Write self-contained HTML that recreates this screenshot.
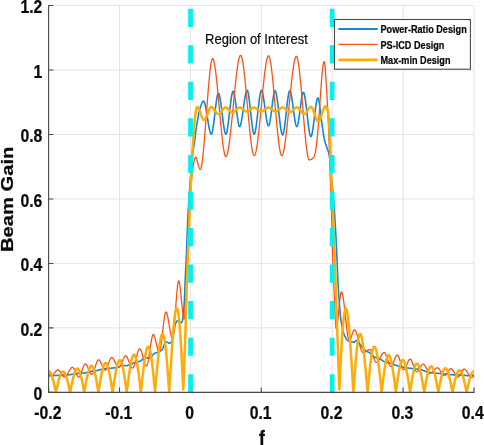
<!DOCTYPE html>
<html lang="en"><head><meta charset="utf-8"><title>Beam Gain</title>
<style>html,body{margin:0;padding:0;background:#fff}svg{display:block}</style></head>
<body>
<svg width="484" height="445" viewBox="0 0 484 445">
<rect width="484" height="445" fill="#fff"/>
<path d="M48.60,5.5V392.4M119.50,5.5V392.4M190.40,5.5V392.4M261.30,5.5V392.4M332.20,5.5V392.4M403.10,5.5V392.4M474.00,5.5V392.4M48.6,392.40H474.0M48.6,327.92H474.0M48.6,263.43H474.0M48.6,198.95H474.0M48.6,134.47H474.0M48.6,69.98H474.0M48.6,5.50H474.0" stroke="#e4e4e4" stroke-width="1" fill="none"/>
<path d="M48.60,392.4v-4.8M119.50,392.4v-4.8M190.40,392.4v-4.8M261.30,392.4v-4.8M332.20,392.4v-4.8M403.10,392.4v-4.8M474.00,392.4v-4.8M48.6,392.40h4.8M48.6,327.92h4.8M48.6,263.43h4.8M48.6,198.95h4.8M48.6,134.47h4.8M48.6,69.98h4.8M48.6,5.50h4.8" stroke="#4a4a4a" stroke-width="1.1" fill="none"/>
<clipPath id="c"><rect x="48.6" y="4.5" width="426.2" height="388.29999999999995"/></clipPath>
<g clip-path="url(#c)" fill="none" stroke-linejoin="round" stroke-linecap="butt">
<path d="M48.50,375.90 L48.62,375.89 L48.75,375.89 L48.88,375.88 L49.00,375.87 L49.12,375.87 L49.25,375.86 L49.38,375.86 L49.50,375.85 L49.62,375.84 L49.75,375.84 L49.88,375.83 L50.00,375.82 L50.12,375.82 L50.25,375.81 L50.38,375.80 L50.50,375.80 L50.62,375.79 L50.75,375.78 L50.88,375.77 L51.00,375.77 L51.12,375.76 L51.25,375.75 L51.38,375.75 L51.50,375.74 L51.62,375.73 L51.75,375.73 L51.88,375.72 L52.00,375.71 L52.12,375.71 L52.25,375.70 L52.38,375.69 L52.50,375.68 L52.62,375.68 L52.75,375.67 L52.88,375.66 L53.00,375.65 L53.12,375.65 L53.25,375.64 L53.38,375.63 L53.50,375.63 L53.62,375.62 L53.75,375.61 L53.88,375.60 L54.00,375.60 L54.12,375.59 L54.25,375.58 L54.38,375.57 L54.50,375.57 L54.62,375.56 L54.75,375.55 L54.88,375.54 L55.00,375.54 L55.12,375.53 L55.25,375.52 L55.38,375.51 L55.50,375.51 L55.62,375.50 L55.75,375.49 L55.88,375.48 L56.00,375.47 L56.12,375.47 L56.25,375.46 L56.38,375.45 L56.50,375.44 L56.62,375.44 L56.75,375.43 L56.88,375.42 L57.00,375.41 L57.12,375.40 L57.25,375.40 L57.38,375.39 L57.50,375.38 L57.62,375.37 L57.75,375.36 L57.88,375.36 L58.00,375.35 L58.12,375.34 L58.25,375.33 L58.38,375.32 L58.50,375.31 L58.62,375.30 L58.75,375.29 L58.88,375.28 L59.00,375.27 L59.12,375.26 L59.25,375.25 L59.38,375.24 L59.50,375.23 L59.62,375.22 L59.75,375.22 L59.88,375.21 L60.00,375.20 L60.12,375.19 L60.25,375.18 L60.38,375.17 L60.50,375.16 L60.62,375.15 L60.75,375.14 L60.88,375.13 L61.00,375.12 L61.12,375.11 L61.25,375.10 L61.38,375.10 L61.50,375.09 L61.62,375.08 L61.75,375.07 L61.88,375.06 L62.00,375.06 L62.12,375.05 L62.25,375.04 L62.38,375.03 L62.50,375.03 L62.62,375.02 L62.75,375.01 L62.88,375.01 L63.00,375.00 L63.12,374.99 L63.25,374.99 L63.38,374.98 L63.50,374.98 L63.62,374.97 L63.75,374.97 L63.88,374.96 L64.00,374.96 L64.12,374.96 L64.25,374.95 L64.38,374.95 L64.50,374.94 L64.62,374.94 L64.75,374.94 L64.88,374.93 L65.00,374.93 L65.12,374.92 L65.25,374.92 L65.38,374.92 L65.50,374.91 L65.62,374.91 L65.75,374.91 L65.88,374.90 L66.00,374.90 L66.12,374.90 L66.25,374.89 L66.38,374.89 L66.50,374.89 L66.62,374.88 L66.75,374.88 L66.88,374.87 L67.00,374.87 L67.12,374.86 L67.25,374.86 L67.38,374.85 L67.50,374.85 L67.62,374.84 L67.75,374.84 L67.88,374.83 L68.00,374.83 L68.12,374.82 L68.25,374.81 L68.38,374.81 L68.50,374.80 L68.62,374.79 L68.75,374.78 L68.88,374.77 L69.00,374.76 L69.12,374.75 L69.25,374.74 L69.38,374.73 L69.50,374.71 L69.62,374.70 L69.75,374.68 L69.88,374.67 L70.00,374.65 L70.12,374.63 L70.25,374.62 L70.38,374.60 L70.50,374.58 L70.62,374.56 L70.75,374.54 L70.88,374.52 L71.00,374.50 L71.12,374.48 L71.25,374.46 L71.38,374.44 L71.50,374.42 L71.62,374.39 L71.75,374.37 L71.88,374.35 L72.00,374.33 L72.12,374.31 L72.25,374.29 L72.38,374.26 L72.50,374.24 L72.62,374.22 L72.75,374.20 L72.88,374.18 L73.00,374.16 L73.12,374.14 L73.25,374.12 L73.38,374.10 L73.50,374.08 L73.62,374.06 L73.75,374.04 L73.88,374.02 L74.00,374.00 L74.12,373.98 L74.25,373.96 L74.38,373.94 L74.50,373.93 L74.62,373.91 L74.75,373.89 L74.88,373.87 L75.00,373.85 L75.12,373.83 L75.25,373.81 L75.38,373.79 L75.50,373.77 L75.62,373.75 L75.75,373.73 L75.88,373.70 L76.00,373.68 L76.12,373.66 L76.25,373.64 L76.38,373.62 L76.50,373.60 L76.62,373.58 L76.75,373.56 L76.88,373.54 L77.00,373.52 L77.12,373.50 L77.25,373.48 L77.38,373.47 L77.50,373.45 L77.62,373.43 L77.75,373.41 L77.88,373.39 L78.00,373.38 L78.12,373.36 L78.25,373.34 L78.38,373.33 L78.50,373.31 L78.62,373.30 L78.75,373.29 L78.88,373.27 L79.00,373.26 L79.12,373.25 L79.25,373.24 L79.38,373.22 L79.50,373.21 L79.62,373.21 L79.75,373.20 L79.88,373.19 L80.00,373.18 L80.12,373.17 L80.25,373.17 L80.38,373.16 L80.50,373.15 L80.62,373.15 L80.75,373.14 L80.88,373.14 L81.00,373.13 L81.12,373.13 L81.25,373.12 L81.38,373.12 L81.50,373.11 L81.62,373.11 L81.75,373.11 L81.88,373.10 L82.00,373.10 L82.12,373.09 L82.25,373.09 L82.38,373.08 L82.50,373.08 L82.62,373.07 L82.75,373.07 L82.88,373.06 L83.00,373.06 L83.12,373.05 L83.25,373.05 L83.38,373.04 L83.50,373.03 L83.62,373.03 L83.75,373.02 L83.88,373.01 L84.00,373.00 L84.12,372.99 L84.25,372.98 L84.38,372.97 L84.50,372.95 L84.62,372.94 L84.75,372.92 L84.88,372.90 L85.00,372.88 L85.12,372.86 L85.25,372.84 L85.38,372.81 L85.50,372.79 L85.62,372.77 L85.75,372.74 L85.88,372.71 L86.00,372.69 L86.12,372.66 L86.25,372.63 L86.38,372.60 L86.50,372.57 L86.62,372.54 L86.75,372.50 L86.88,372.47 L87.00,372.44 L87.12,372.41 L87.25,372.37 L87.38,372.34 L87.50,372.31 L87.62,372.27 L87.75,372.24 L87.88,372.20 L88.00,372.17 L88.12,372.13 L88.25,372.10 L88.38,372.06 L88.50,372.03 L88.62,372.00 L88.75,371.96 L88.88,371.93 L89.00,371.89 L89.12,371.86 L89.25,371.83 L89.38,371.80 L89.50,371.77 L89.62,371.74 L89.75,371.70 L89.88,371.68 L90.00,371.65 L90.12,371.62 L90.25,371.59 L90.38,371.56 L90.50,371.54 L90.62,371.51 L90.75,371.49 L90.88,371.47 L91.00,371.44 L91.12,371.42 L91.25,371.40 L91.38,371.38 L91.50,371.36 L91.62,371.34 L91.75,371.31 L91.88,371.29 L92.00,371.27 L92.12,371.25 L92.25,371.23 L92.38,371.21 L92.50,371.19 L92.62,371.17 L92.75,371.16 L92.88,371.14 L93.00,371.12 L93.12,371.10 L93.25,371.08 L93.38,371.06 L93.50,371.04 L93.62,371.02 L93.75,371.01 L93.88,370.99 L94.00,370.97 L94.12,370.95 L94.25,370.93 L94.38,370.91 L94.50,370.90 L94.62,370.88 L94.75,370.86 L94.88,370.84 L95.00,370.82 L95.12,370.80 L95.25,370.78 L95.38,370.76 L95.50,370.74 L95.62,370.72 L95.75,370.70 L95.88,370.68 L96.00,370.66 L96.12,370.64 L96.25,370.62 L96.38,370.60 L96.50,370.58 L96.62,370.56 L96.75,370.54 L96.88,370.52 L97.00,370.49 L97.12,370.47 L97.25,370.45 L97.38,370.42 L97.50,370.40 L97.62,370.38 L97.75,370.35 L97.88,370.32 L98.00,370.30 L98.12,370.27 L98.25,370.24 L98.38,370.21 L98.50,370.18 L98.62,370.15 L98.75,370.12 L98.88,370.09 L99.00,370.06 L99.12,370.02 L99.25,369.99 L99.38,369.96 L99.50,369.92 L99.62,369.89 L99.75,369.85 L99.88,369.82 L100.00,369.78 L100.12,369.75 L100.25,369.72 L100.38,369.68 L100.50,369.65 L100.62,369.61 L100.75,369.58 L100.88,369.54 L101.00,369.51 L101.12,369.47 L101.25,369.44 L101.38,369.40 L101.50,369.37 L101.62,369.34 L101.75,369.30 L101.88,369.27 L102.00,369.24 L102.12,369.21 L102.25,369.18 L102.38,369.15 L102.50,369.12 L102.62,369.09 L102.75,369.06 L102.88,369.03 L103.00,369.01 L103.12,368.98 L103.25,368.96 L103.38,368.93 L103.50,368.91 L103.62,368.89 L103.75,368.87 L103.88,368.85 L104.00,368.83 L104.12,368.81 L104.25,368.79 L104.38,368.78 L104.50,368.76 L104.62,368.75 L104.75,368.73 L104.88,368.72 L105.00,368.70 L105.12,368.69 L105.25,368.68 L105.38,368.66 L105.50,368.65 L105.62,368.64 L105.75,368.63 L105.88,368.61 L106.00,368.60 L106.12,368.59 L106.25,368.58 L106.38,368.57 L106.50,368.56 L106.62,368.55 L106.75,368.54 L106.88,368.53 L107.00,368.52 L107.12,368.51 L107.25,368.50 L107.38,368.49 L107.50,368.48 L107.62,368.47 L107.75,368.46 L107.88,368.45 L108.00,368.44 L108.12,368.43 L108.25,368.42 L108.38,368.41 L108.50,368.40 L108.62,368.39 L108.75,368.38 L108.88,368.38 L109.00,368.37 L109.12,368.36 L109.25,368.35 L109.38,368.34 L109.50,368.33 L109.62,368.32 L109.75,368.31 L109.88,368.30 L110.00,368.29 L110.12,368.28 L110.25,368.27 L110.38,368.26 L110.50,368.25 L110.62,368.24 L110.75,368.23 L110.88,368.22 L111.00,368.21 L111.12,368.20 L111.25,368.19 L111.38,368.17 L111.50,368.16 L111.62,368.15 L111.75,368.14 L111.88,368.12 L112.00,368.11 L112.12,368.10 L112.25,368.08 L112.38,368.07 L112.50,368.06 L112.62,368.04 L112.75,368.03 L112.88,368.02 L113.00,368.00 L113.12,367.99 L113.25,367.98 L113.38,367.97 L113.50,367.95 L113.62,367.94 L113.75,367.93 L113.88,367.91 L114.00,367.90 L114.12,367.89 L114.25,367.87 L114.38,367.86 L114.50,367.84 L114.62,367.83 L114.75,367.82 L114.88,367.80 L115.00,367.79 L115.12,367.77 L115.25,367.75 L115.38,367.74 L115.50,367.72 L115.62,367.71 L115.75,367.69 L115.88,367.67 L116.00,367.65 L116.12,367.64 L116.25,367.62 L116.38,367.60 L116.50,367.58 L116.62,367.56 L116.75,367.54 L116.88,367.52 L117.00,367.49 L117.12,367.47 L117.25,367.45 L117.38,367.43 L117.50,367.40 L117.62,367.38 L117.75,367.35 L117.88,367.33 L118.00,367.30 L118.12,367.27 L118.25,367.23 L118.38,367.19 L118.50,367.14 L118.62,367.09 L118.75,367.03 L118.88,366.97 L119.00,366.90 L119.12,366.84 L119.25,366.76 L119.38,366.69 L119.50,366.61 L119.62,366.53 L119.75,366.45 L119.88,366.37 L120.00,366.29 L120.12,366.21 L120.25,366.13 L120.38,366.05 L120.50,365.97 L120.62,365.89 L120.75,365.82 L120.88,365.74 L121.00,365.67 L121.12,365.61 L121.25,365.54 L121.38,365.48 L121.50,365.43 L121.62,365.38 L121.75,365.33 L121.88,365.29 L122.00,365.26 L122.12,365.24 L122.25,365.22 L122.38,365.20 L122.50,365.20 L122.62,365.20 L122.75,365.21 L122.88,365.22 L123.00,365.24 L123.12,365.25 L123.25,365.27 L123.38,365.30 L123.50,365.33 L123.62,365.35 L123.75,365.38 L123.88,365.42 L124.00,365.45 L124.12,365.48 L124.25,365.51 L124.38,365.55 L124.50,365.58 L124.62,365.61 L124.75,365.64 L124.88,365.67 L125.00,365.70 L125.12,365.72 L125.25,365.74 L125.38,365.76 L125.50,365.78 L125.62,365.79 L125.75,365.80 L125.88,365.80 L126.00,365.80 L126.12,365.79 L126.25,365.78 L126.38,365.77 L126.50,365.75 L126.62,365.73 L126.75,365.70 L126.88,365.68 L127.00,365.64 L127.12,365.61 L127.25,365.58 L127.38,365.54 L127.50,365.50 L127.62,365.46 L127.75,365.41 L127.88,365.37 L128.00,365.33 L128.12,365.28 L128.25,365.23 L128.38,365.19 L128.50,365.14 L128.62,365.10 L128.75,365.05 L128.88,365.01 L129.00,364.97 L129.12,364.92 L129.25,364.88 L129.38,364.84 L129.50,364.80 L129.62,364.76 L129.75,364.71 L129.88,364.67 L130.00,364.62 L130.12,364.57 L130.25,364.52 L130.38,364.48 L130.50,364.43 L130.62,364.38 L130.75,364.32 L130.88,364.27 L131.00,364.22 L131.12,364.17 L131.25,364.11 L131.38,364.06 L131.50,364.01 L131.62,363.95 L131.75,363.90 L131.88,363.84 L132.00,363.79 L132.12,363.73 L132.25,363.68 L132.38,363.62 L132.50,363.57 L132.62,363.51 L132.75,363.46 L132.88,363.40 L133.00,363.35 L133.12,363.30 L133.25,363.24 L133.38,363.19 L133.50,363.14 L133.62,363.09 L133.75,363.03 L133.88,362.98 L134.00,362.93 L134.12,362.88 L134.25,362.84 L134.38,362.79 L134.50,362.74 L134.62,362.70 L134.75,362.65 L134.88,362.61 L135.00,362.57 L135.12,362.53 L135.25,362.49 L135.38,362.45 L135.50,362.41 L135.62,362.37 L135.75,362.33 L135.88,362.30 L136.00,362.26 L136.12,362.23 L136.25,362.20 L136.38,362.16 L136.50,362.13 L136.62,362.10 L136.75,362.07 L136.88,362.03 L137.00,362.00 L137.12,361.97 L137.25,361.94 L137.38,361.91 L137.50,361.88 L137.62,361.84 L137.75,361.81 L137.88,361.78 L138.00,361.75 L138.12,361.71 L138.25,361.68 L138.38,361.65 L138.50,361.61 L138.62,361.58 L138.75,361.54 L138.88,361.50 L139.00,361.46 L139.12,361.43 L139.25,361.39 L139.38,361.34 L139.50,361.30 L139.62,361.26 L139.75,361.21 L139.88,361.17 L140.00,361.12 L140.12,361.07 L140.25,361.02 L140.38,360.97 L140.50,360.91 L140.62,360.84 L140.75,360.77 L140.88,360.69 L141.00,360.61 L141.12,360.52 L141.25,360.43 L141.38,360.33 L141.50,360.24 L141.62,360.14 L141.75,360.03 L141.88,359.93 L142.00,359.82 L142.12,359.72 L142.25,359.61 L142.38,359.50 L142.50,359.40 L142.62,359.29 L142.75,359.19 L142.88,359.09 L143.00,358.99 L143.12,358.90 L143.25,358.81 L143.38,358.72 L143.50,358.64 L143.62,358.56 L143.75,358.49 L143.88,358.42 L144.00,358.36 L144.12,358.31 L144.25,358.27 L144.38,358.23 L144.50,358.20 L144.62,358.18 L144.75,358.16 L144.88,358.13 L145.00,358.12 L145.12,358.10 L145.25,358.08 L145.38,358.06 L145.50,358.05 L145.62,358.04 L145.75,358.02 L145.88,358.01 L146.00,358.00 L146.12,357.99 L146.25,357.98 L146.38,357.97 L146.50,357.96 L146.62,357.95 L146.75,357.94 L146.88,357.93 L147.00,357.93 L147.12,357.92 L147.25,357.91 L147.38,357.90 L147.50,357.89 L147.62,357.89 L147.75,357.88 L147.88,357.87 L148.00,357.86 L148.12,357.85 L148.25,357.84 L148.38,357.83 L148.50,357.82 L148.62,357.81 L148.75,357.80 L148.88,357.78 L149.00,357.77 L149.12,357.75 L149.25,357.74 L149.38,357.72 L149.50,357.70 L149.62,357.68 L149.75,357.66 L149.88,357.64 L150.00,357.62 L150.12,357.59 L150.25,357.56 L150.38,357.51 L150.50,357.45 L150.62,357.37 L150.75,357.29 L150.88,357.19 L151.00,357.09 L151.12,356.97 L151.25,356.85 L151.38,356.72 L151.50,356.58 L151.62,356.44 L151.75,356.29 L151.88,356.14 L152.00,355.98 L152.12,355.82 L152.25,355.66 L152.38,355.50 L152.50,355.34 L152.62,355.18 L152.75,355.02 L152.88,354.86 L153.00,354.71 L153.12,354.55 L153.25,354.41 L153.38,354.26 L153.50,354.13 L153.62,354.00 L153.75,353.88 L153.88,353.77 L154.00,353.66 L154.12,353.57 L154.25,353.48 L154.38,353.41 L154.50,353.35 L154.62,353.29 L154.75,353.24 L154.88,353.18 L155.00,353.13 L155.12,353.09 L155.25,353.04 L155.38,353.00 L155.50,352.95 L155.62,352.91 L155.75,352.88 L155.88,352.84 L156.00,352.80 L156.12,352.77 L156.25,352.73 L156.38,352.70 L156.50,352.66 L156.62,352.63 L156.75,352.60 L156.88,352.56 L157.00,352.53 L157.12,352.49 L157.25,352.46 L157.38,352.42 L157.50,352.38 L157.62,352.34 L157.75,352.30 L157.88,352.25 L158.00,352.21 L158.12,352.16 L158.25,352.11 L158.38,352.06 L158.50,352.00 L158.62,351.94 L158.75,351.89 L158.88,351.83 L159.00,351.77 L159.12,351.71 L159.25,351.65 L159.38,351.59 L159.50,351.53 L159.62,351.47 L159.75,351.40 L159.88,351.34 L160.00,351.27 L160.12,351.20 L160.25,351.12 L160.38,351.05 L160.50,350.97 L160.62,350.89 L160.75,350.81 L160.88,350.72 L161.00,350.63 L161.12,350.53 L161.25,350.44 L161.38,350.33 L161.50,350.23 L161.62,350.12 L161.75,350.00 L161.88,349.88 L162.00,349.76 L162.12,349.62 L162.25,349.49 L162.38,349.35 L162.50,349.20 L162.62,349.02 L162.75,348.77 L162.88,348.48 L163.00,348.14 L163.12,347.77 L163.25,347.38 L163.38,346.98 L163.50,346.57 L163.62,346.17 L163.75,345.79 L163.88,345.43 L164.00,345.11 L164.12,344.84 L164.25,344.61 L164.38,344.40 L164.50,344.18 L164.62,343.97 L164.75,343.75 L164.88,343.54 L165.00,343.34 L165.12,343.14 L165.25,342.95 L165.38,342.78 L165.50,342.62 L165.62,342.47 L165.75,342.34 L165.88,342.23 L166.00,342.13 L166.12,342.06 L166.25,342.02 L166.38,342.00 L166.50,342.00 L166.62,342.02 L166.75,342.05 L166.88,342.08 L167.00,342.12 L167.12,342.18 L167.25,342.23 L167.38,342.30 L167.50,342.37 L167.62,342.44 L167.75,342.51 L167.88,342.59 L168.00,342.66 L168.12,342.73 L168.25,342.81 L168.38,342.88 L168.50,342.94 L168.62,343.00 L168.75,343.06 L168.88,343.10 L169.00,343.14 L169.12,343.17 L169.25,343.19 L169.38,343.20 L169.50,343.20 L169.62,343.18 L169.75,343.15 L169.88,343.11 L170.00,343.06 L170.12,343.00 L170.25,342.92 L170.38,342.83 L170.50,342.74 L170.62,342.63 L170.75,342.51 L170.88,342.39 L171.00,342.25 L171.12,342.10 L171.25,341.95 L171.38,341.78 L171.50,341.61 L171.62,341.42 L171.75,341.23 L171.88,341.03 L172.00,340.83 L172.12,340.61 L172.25,340.39 L172.38,340.14 L172.50,339.76 L172.62,339.26 L172.75,338.67 L172.88,338.00 L173.00,337.27 L173.12,336.52 L173.25,335.75 L173.38,334.99 L173.50,334.25 L173.62,333.57 L173.75,332.86 L173.88,332.09 L174.00,331.30 L174.12,330.48 L174.25,329.65 L174.38,328.83 L174.50,328.04 L174.62,327.28 L174.75,326.58 L174.88,325.94 L175.00,325.38 L175.12,324.92 L175.25,324.57 L175.38,324.23 L175.50,323.91 L175.62,323.59 L175.75,323.28 L175.88,322.98 L176.00,322.70 L176.12,322.42 L176.25,322.17 L176.38,321.93 L176.50,321.71 L176.62,321.51 L176.75,321.33 L176.88,321.17 L177.00,321.04 L177.12,320.94 L177.25,320.86 L177.38,320.82 L177.50,320.80 L177.62,320.80 L177.75,320.82 L177.88,320.84 L178.00,320.87 L178.12,320.90 L178.25,320.94 L178.38,320.99 L178.50,321.04 L178.62,321.09 L178.75,321.15 L178.88,321.21 L179.00,321.27 L179.12,321.33 L179.25,321.39 L179.38,321.44 L179.50,321.50 L179.62,321.56 L179.75,321.63 L179.88,321.72 L180.00,321.81 L180.12,321.90 L180.25,322.00 L180.38,322.10 L180.50,322.19 L180.62,322.28 L180.75,322.37 L180.88,322.44 L181.00,322.50 L181.12,322.55 L181.25,322.59 L181.38,322.60 L181.50,322.57 L181.62,322.47 L181.75,322.29 L181.88,322.04 L182.00,321.72 L182.12,321.34 L182.25,320.91 L182.38,320.43 L182.50,319.90 L182.62,319.34 L182.75,318.73 L182.88,318.10 L183.00,317.44 L183.12,316.76 L183.25,315.90 L183.38,314.82 L183.50,313.53 L183.62,312.05 L183.75,310.41 L183.88,308.62 L184.00,306.71 L184.12,304.70 L184.25,302.60 L184.38,300.44 L184.50,298.05 L184.62,295.16 L184.75,291.92 L184.88,288.51 L185.00,285.08 L185.12,281.81 L185.25,278.85 L185.38,276.05 L185.50,273.34 L185.62,270.70 L185.75,268.12 L185.88,265.55 L186.00,262.99 L186.12,260.41 L186.25,257.79 L186.38,255.09 L186.50,252.31 L186.62,249.41 L186.75,246.30 L186.88,243.00 L187.00,239.58 L187.12,236.09 L187.25,232.61 L187.38,229.20 L187.50,225.92 L187.62,222.85 L187.75,220.04 L187.88,217.51 L188.00,215.10 L188.12,212.78 L188.25,210.56 L188.38,208.41 L188.50,206.33 L188.62,204.32 L188.75,202.36 L188.88,200.46 L189.00,198.59 L189.12,196.76 L189.25,194.96 L189.38,193.18 L189.50,191.41 L189.62,189.65 L189.75,187.90 L189.88,186.17 L190.00,184.47 L190.12,182.79 L190.25,181.13 L190.38,179.50 L190.50,177.89 L190.62,176.31 L190.75,174.76 L190.88,173.24 L191.00,171.74 L191.12,170.28 L191.25,168.84 L191.38,167.44 L191.50,166.07 L191.62,164.73 L191.75,163.42 L191.88,162.12 L192.00,160.84 L192.12,159.58 L192.25,158.35 L192.38,157.15 L192.50,155.98 L192.62,154.86 L192.75,153.78 L192.88,152.74 L193.00,151.75 L193.12,150.82 L193.25,149.95 L193.38,149.15 L193.50,148.39 L193.62,147.67 L193.75,146.97 L193.88,146.28 L194.00,145.58 L194.12,144.87 L194.25,144.13 L194.38,143.34 L194.50,142.50 L194.62,141.59 L194.75,140.60 L194.88,139.57 L195.00,138.49 L195.12,137.38 L195.25,136.26 L195.38,135.14 L195.50,134.04 L195.62,132.95 L195.75,131.91 L195.88,130.92 L196.00,130.00 L196.12,129.12 L196.25,128.27 L196.38,127.42 L196.50,126.60 L196.62,125.79 L196.75,125.01 L196.88,124.23 L197.00,123.48 L197.12,122.74 L197.25,122.01 L197.38,121.30 L197.50,120.61 L197.62,119.93 L197.75,119.26 L197.88,118.61 L198.00,117.95 L198.12,117.30 L198.25,116.64 L198.38,115.99 L198.50,115.34 L198.62,114.70 L198.75,114.06 L198.88,113.44 L199.00,112.82 L199.12,112.21 L199.25,111.62 L199.38,111.05 L199.50,110.48 L199.62,109.94 L199.75,109.42 L199.88,108.92 L200.00,108.44 L200.12,107.98 L200.25,107.55 L200.38,107.15 L200.50,106.78 L200.62,106.43 L200.75,106.10 L200.88,105.76 L201.00,105.42 L201.12,105.08 L201.25,104.75 L201.38,104.42 L201.50,104.10 L201.62,103.78 L201.75,103.47 L201.88,103.18 L202.00,102.89 L202.12,102.62 L202.25,102.37 L202.38,102.13 L202.50,101.91 L202.62,101.71 L202.75,101.53 L202.88,101.37 L203.00,101.24 L203.12,101.14 L203.25,101.06 L203.38,101.02 L203.50,101.00 L203.62,101.03 L203.75,101.10 L203.88,101.22 L204.00,101.39 L204.12,101.60 L204.25,101.86 L204.38,102.16 L204.50,102.49 L204.62,102.87 L204.75,103.28 L204.88,103.72 L205.00,104.20 L205.12,104.71 L205.25,105.25 L205.38,105.82 L205.50,106.41 L205.62,107.03 L205.75,107.67 L205.88,108.34 L206.00,109.02 L206.12,109.72 L206.25,110.44 L206.38,111.18 L206.50,111.92 L206.62,112.68 L206.75,113.45 L206.88,114.23 L207.00,115.01 L207.12,115.80 L207.25,116.60 L207.38,117.39 L207.50,118.19 L207.62,118.98 L207.75,119.77 L207.88,120.56 L208.00,121.34 L208.12,122.11 L208.25,122.87 L208.38,123.63 L208.50,124.37 L208.62,125.09 L208.75,125.80 L208.88,126.49 L209.00,127.16 L209.12,127.81 L209.25,128.44 L209.38,129.05 L209.50,129.63 L209.62,130.18 L209.75,130.70 L209.88,131.19 L210.00,131.65 L210.12,132.07 L210.25,132.46 L210.38,132.81 L210.50,133.13 L210.62,133.40 L210.75,133.63 L210.88,133.82 L211.00,133.96 L211.12,134.05 L211.25,134.10 L211.38,134.09 L211.50,134.00 L211.62,133.85 L211.75,133.63 L211.88,133.34 L212.00,132.99 L212.12,132.58 L212.25,132.10 L212.38,131.58 L212.50,131.00 L212.62,130.37 L212.75,129.69 L212.88,128.97 L213.00,128.20 L213.12,127.40 L213.25,126.56 L213.38,125.68 L213.50,124.78 L213.62,123.84 L213.75,122.88 L213.88,121.89 L214.00,120.89 L214.12,119.86 L214.25,118.82 L214.38,117.77 L214.50,116.71 L214.62,115.64 L214.75,114.56 L214.88,113.48 L215.00,112.41 L215.12,111.33 L215.25,110.27 L215.38,109.21 L215.50,108.16 L215.62,107.13 L215.75,106.11 L215.88,105.11 L216.00,104.13 L216.12,103.18 L216.25,102.26 L216.38,101.36 L216.50,100.50 L216.62,99.68 L216.75,98.89 L216.88,98.14 L217.00,97.43 L217.12,96.77 L217.25,96.16 L217.38,95.61 L217.50,95.10 L217.62,94.65 L217.75,94.26 L217.88,93.94 L218.00,93.67 L218.12,93.48 L218.25,93.35 L218.38,93.30 L218.50,93.32 L218.62,93.41 L218.75,93.56 L218.88,93.77 L219.00,94.04 L219.12,94.37 L219.25,94.75 L219.38,95.19 L219.50,95.68 L219.62,96.21 L219.75,96.79 L219.88,97.41 L220.00,98.08 L220.12,98.78 L220.25,99.52 L220.38,100.30 L220.50,101.10 L220.62,101.94 L220.75,102.81 L220.88,103.70 L221.00,104.61 L221.12,105.54 L221.25,106.50 L221.38,107.47 L221.50,108.45 L221.62,109.44 L221.75,110.45 L221.88,111.46 L222.00,112.48 L222.12,113.50 L222.25,114.52 L222.38,115.53 L222.50,116.55 L222.62,117.56 L222.75,118.55 L222.88,119.54 L223.00,120.52 L223.12,121.48 L223.25,122.42 L223.38,123.34 L223.50,124.24 L223.62,125.12 L223.75,125.96 L223.88,126.78 L224.00,127.57 L224.12,128.33 L224.25,129.04 L224.38,129.73 L224.50,130.37 L224.62,130.96 L224.75,131.52 L224.88,132.02 L225.00,132.48 L225.12,132.88 L225.25,133.23 L225.38,133.53 L225.50,133.76 L225.62,133.94 L225.75,134.05 L225.88,134.10 L226.00,134.08 L226.12,133.98 L226.25,133.81 L226.38,133.57 L226.50,133.26 L226.62,132.89 L226.75,132.45 L226.88,131.96 L227.00,131.41 L227.12,130.80 L227.25,130.15 L227.38,129.45 L227.50,128.70 L227.62,127.91 L227.75,127.08 L227.88,126.21 L228.00,125.30 L228.12,124.36 L228.25,123.40 L228.38,122.40 L228.50,121.39 L228.62,120.35 L228.75,119.29 L228.88,118.22 L229.00,117.13 L229.12,116.03 L229.25,114.93 L229.38,113.81 L229.50,112.70 L229.62,111.59 L229.75,110.47 L229.88,109.37 L230.00,108.27 L230.12,107.18 L230.25,106.11 L230.38,105.05 L230.50,104.01 L230.62,103.00 L230.75,102.00 L230.88,101.04 L231.00,100.10 L231.12,99.19 L231.25,98.32 L231.38,97.49 L231.50,96.70 L231.62,95.95 L231.75,95.25 L231.88,94.60 L232.00,93.99 L232.12,93.44 L232.25,92.95 L232.38,92.51 L232.50,92.14 L232.62,91.83 L232.75,91.59 L232.88,91.42 L233.00,91.32 L233.12,91.30 L233.25,91.36 L233.38,91.48 L233.50,91.68 L233.62,91.95 L233.75,92.29 L233.88,92.69 L234.00,93.14 L234.12,93.66 L234.25,94.22 L234.38,94.84 L234.50,95.51 L234.62,96.22 L234.75,96.97 L234.88,97.76 L235.00,98.59 L235.12,99.44 L235.25,100.33 L235.38,101.25 L235.50,102.18 L235.62,103.14 L235.75,104.12 L235.88,105.11 L236.00,106.11 L236.12,107.12 L236.25,108.14 L236.38,109.15 L236.50,110.17 L236.62,111.18 L236.75,112.19 L236.88,113.19 L237.00,114.17 L237.12,115.14 L237.25,116.09 L237.38,117.02 L237.50,117.93 L237.62,118.80 L237.75,119.65 L237.88,120.46 L238.00,121.24 L238.12,121.97 L238.25,122.66 L238.38,123.31 L238.50,123.91 L238.62,124.46 L238.75,124.95 L238.88,125.38 L239.00,125.75 L239.12,126.06 L239.25,126.30 L239.38,126.48 L239.50,126.58 L239.62,126.60 L239.75,126.56 L239.88,126.46 L240.00,126.30 L240.12,126.09 L240.25,125.83 L240.38,125.52 L240.50,125.16 L240.62,124.75 L240.75,124.30 L240.88,123.81 L241.00,123.28 L241.12,122.71 L241.25,122.10 L241.38,121.46 L241.50,120.79 L241.62,120.09 L241.75,119.36 L241.88,118.61 L242.00,117.83 L242.12,117.03 L242.25,116.21 L242.38,115.37 L242.50,114.52 L242.62,113.65 L242.75,112.77 L242.88,111.88 L243.00,110.98 L243.12,110.08 L243.25,109.18 L243.38,108.27 L243.50,107.36 L243.62,106.46 L243.75,105.56 L243.88,104.66 L244.00,103.78 L244.12,102.90 L244.25,102.04 L244.38,101.19 L244.50,100.36 L244.62,99.55 L244.75,98.76 L244.88,97.99 L245.00,97.24 L245.12,96.53 L245.25,95.84 L245.38,95.18 L245.50,94.55 L245.62,93.96 L245.75,93.40 L245.88,92.89 L246.00,92.41 L246.12,91.98 L246.25,91.59 L246.38,91.25 L246.50,90.96 L246.62,90.72 L246.75,90.53 L246.88,90.40 L247.00,90.32 L247.12,90.30 L247.25,90.36 L247.38,90.49 L247.50,90.70 L247.62,90.98 L247.75,91.33 L247.88,91.75 L248.00,92.23 L248.12,92.78 L248.25,93.38 L248.38,94.03 L248.50,94.74 L248.62,95.49 L248.75,96.30 L248.88,97.14 L249.00,98.03 L249.12,98.96 L249.25,99.92 L249.38,100.91 L249.50,101.93 L249.62,102.98 L249.75,104.05 L249.88,105.14 L250.00,106.25 L250.12,107.38 L250.25,108.51 L250.38,109.66 L250.50,110.81 L250.62,111.97 L250.75,113.13 L250.88,114.28 L251.00,115.43 L251.12,116.57 L251.25,117.70 L251.38,118.82 L251.50,119.92 L251.62,121.00 L251.75,122.05 L251.88,123.09 L252.00,124.09 L252.12,125.06 L252.25,126.00 L252.38,126.91 L252.50,127.77 L252.62,128.59 L252.75,129.37 L252.88,130.09 L253.00,130.77 L253.12,131.39 L253.25,131.96 L253.38,132.46 L253.50,132.91 L253.62,133.28 L253.75,133.59 L253.88,133.83 L254.00,134.00 L254.12,134.09 L254.25,134.09 L254.38,134.02 L254.50,133.88 L254.62,133.66 L254.75,133.38 L254.88,133.02 L255.00,132.60 L255.12,132.13 L255.25,131.59 L255.38,131.00 L255.50,130.35 L255.62,129.65 L255.75,128.91 L255.88,128.12 L256.00,127.29 L256.12,126.42 L256.25,125.51 L256.38,124.57 L256.50,123.60 L256.62,122.59 L256.75,121.57 L256.88,120.52 L257.00,119.45 L257.12,118.36 L257.25,117.26 L257.38,116.14 L257.50,115.02 L257.62,113.89 L257.75,112.75 L257.88,111.62 L258.00,110.49 L258.12,109.36 L258.25,108.23 L258.38,107.12 L258.50,106.02 L258.62,104.94 L258.75,103.87 L258.88,102.83 L259.00,101.80 L259.12,100.81 L259.25,99.84 L259.38,98.91 L259.50,98.01 L259.62,97.14 L259.75,96.32 L259.88,95.54 L260.00,94.80 L260.12,94.12 L260.25,93.48 L260.38,92.90 L260.50,92.37 L260.62,91.91 L260.75,91.50 L260.88,91.16 L261.00,90.89 L261.12,90.69 L261.25,90.56 L261.38,90.50 L261.50,90.52 L261.62,90.60 L261.75,90.75 L261.88,90.95 L262.00,91.21 L262.12,91.53 L262.25,91.90 L262.38,92.31 L262.50,92.78 L262.62,93.29 L262.75,93.84 L262.88,94.44 L263.00,95.07 L263.12,95.74 L263.25,96.44 L263.38,97.17 L263.50,97.94 L263.62,98.73 L263.75,99.54 L263.88,100.38 L264.00,101.23 L264.12,102.11 L264.25,103.00 L264.38,103.90 L264.50,104.81 L264.62,105.73 L264.75,106.66 L264.88,107.59 L265.00,108.52 L265.12,109.45 L265.25,110.38 L265.38,111.30 L265.50,112.22 L265.62,113.12 L265.75,114.02 L265.88,114.89 L266.00,115.75 L266.12,116.59 L266.25,117.41 L266.38,118.21 L266.50,118.97 L266.62,119.71 L266.75,120.42 L266.88,121.10 L267.00,121.74 L267.12,122.34 L267.25,122.90 L267.38,123.42 L267.50,123.90 L267.62,124.32 L267.75,124.70 L267.88,125.03 L268.00,125.30 L268.12,125.51 L268.25,125.67 L268.38,125.77 L268.50,125.80 L268.62,125.76 L268.75,125.65 L268.88,125.47 L269.00,125.23 L269.12,124.92 L269.25,124.55 L269.38,124.12 L269.50,123.63 L269.62,123.10 L269.75,122.51 L269.88,121.88 L270.00,121.20 L270.12,120.48 L270.25,119.72 L270.38,118.93 L270.50,118.11 L270.62,117.25 L270.75,116.37 L270.88,115.47 L271.00,114.54 L271.12,113.59 L271.25,112.63 L271.38,111.66 L271.50,110.68 L271.62,109.69 L271.75,108.70 L271.88,107.70 L272.00,106.71 L272.12,105.72 L272.25,104.74 L272.38,103.77 L272.50,102.82 L272.62,101.87 L272.75,100.95 L272.88,100.05 L273.00,99.18 L273.12,98.33 L273.25,97.51 L273.38,96.72 L273.50,95.97 L273.62,95.26 L273.75,94.59 L273.88,93.97 L274.00,93.39 L274.12,92.87 L274.25,92.39 L274.38,91.97 L274.50,91.62 L274.62,91.32 L274.75,91.08 L274.88,90.92 L275.00,90.82 L275.12,90.80 L275.25,90.85 L275.38,90.97 L275.50,91.16 L275.62,91.42 L275.75,91.74 L275.88,92.12 L276.00,92.55 L276.12,93.05 L276.25,93.59 L276.38,94.19 L276.50,94.84 L276.62,95.53 L276.75,96.26 L276.88,97.04 L277.00,97.86 L277.12,98.71 L277.25,99.59 L277.38,100.51 L277.50,101.46 L277.62,102.43 L277.75,103.43 L277.88,104.44 L278.00,105.48 L278.12,106.54 L278.25,107.60 L278.38,108.68 L278.50,109.77 L278.62,110.87 L278.75,111.97 L278.88,113.07 L279.00,114.17 L279.12,115.27 L279.25,116.36 L279.38,117.45 L279.50,118.53 L279.62,119.59 L279.75,120.64 L279.88,121.67 L280.00,122.68 L280.12,123.66 L280.25,124.62 L280.38,125.56 L280.50,126.46 L280.62,127.34 L280.75,128.17 L280.88,128.97 L281.00,129.74 L281.12,130.45 L281.25,131.13 L281.38,131.75 L281.50,132.33 L281.62,132.86 L281.75,133.33 L281.88,133.74 L282.00,134.10 L282.12,134.39 L282.25,134.62 L282.38,134.78 L282.50,134.88 L282.62,134.90 L282.75,134.84 L282.88,134.71 L283.00,134.51 L283.12,134.23 L283.25,133.89 L283.38,133.48 L283.50,133.01 L283.62,132.47 L283.75,131.88 L283.88,131.24 L284.00,130.55 L284.12,129.80 L284.25,129.01 L284.38,128.18 L284.50,127.31 L284.62,126.40 L284.75,125.45 L284.88,124.47 L285.00,123.47 L285.12,122.43 L285.25,121.38 L285.38,120.30 L285.50,119.20 L285.62,118.09 L285.75,116.96 L285.88,115.83 L286.00,114.69 L286.12,113.54 L286.25,112.39 L286.38,111.24 L286.50,110.10 L286.62,108.96 L286.75,107.84 L286.88,106.72 L287.00,105.62 L287.12,104.54 L287.25,103.48 L287.38,102.44 L287.50,101.43 L287.62,100.44 L287.75,99.49 L287.88,98.57 L288.00,97.69 L288.12,96.85 L288.25,96.05 L288.38,95.30 L288.50,94.59 L288.62,93.94 L288.75,93.34 L288.88,92.80 L289.00,92.31 L289.12,91.89 L289.25,91.53 L289.38,91.24 L289.50,91.02 L289.62,90.88 L289.75,90.81 L289.88,90.81 L290.00,90.89 L290.12,91.02 L290.25,91.22 L290.38,91.48 L290.50,91.80 L290.62,92.17 L290.75,92.60 L290.88,93.07 L291.00,93.60 L291.12,94.16 L291.25,94.77 L291.38,95.42 L291.50,96.11 L291.62,96.83 L291.75,97.59 L291.88,98.37 L292.00,99.19 L292.12,100.02 L292.25,100.89 L292.38,101.77 L292.50,102.67 L292.62,103.59 L292.75,104.52 L292.88,105.46 L293.00,106.40 L293.12,107.36 L293.25,108.32 L293.38,109.28 L293.50,110.23 L293.62,111.19 L293.75,112.13 L293.88,113.07 L294.00,114.00 L294.12,114.91 L294.25,115.81 L294.38,116.69 L294.50,117.55 L294.62,118.38 L294.75,119.19 L294.88,119.97 L295.00,120.72 L295.12,121.43 L295.25,122.11 L295.38,122.75 L295.50,123.35 L295.62,123.91 L295.75,124.43 L295.88,124.89 L296.00,125.30 L296.12,125.67 L296.25,125.97 L296.38,126.22 L296.50,126.41 L296.62,126.53 L296.75,126.59 L296.88,126.59 L297.00,126.51 L297.12,126.36 L297.25,126.14 L297.38,125.87 L297.50,125.53 L297.62,125.13 L297.75,124.68 L297.88,124.17 L298.00,123.62 L298.12,123.02 L298.25,122.37 L298.38,121.69 L298.50,120.96 L298.62,120.20 L298.75,119.41 L298.88,118.58 L299.00,117.73 L299.12,116.86 L299.25,115.96 L299.38,115.04 L299.50,114.11 L299.62,113.17 L299.75,112.21 L299.88,111.25 L300.00,110.28 L300.12,109.31 L300.25,108.33 L300.38,107.37 L300.50,106.41 L300.62,105.45 L300.75,104.51 L300.88,103.59 L301.00,102.68 L301.12,101.79 L301.25,100.92 L301.38,100.08 L301.50,99.27 L301.62,98.49 L301.75,97.74 L301.88,97.03 L302.00,96.36 L302.12,95.74 L302.25,95.15 L302.38,94.62 L302.50,94.13 L302.62,93.70 L302.75,93.33 L302.88,93.01 L303.00,92.76 L303.12,92.57 L303.25,92.45 L303.38,92.40 L303.50,92.42 L303.62,92.52 L303.75,92.68 L303.88,92.91 L304.00,93.20 L304.12,93.56 L304.25,93.97 L304.38,94.45 L304.50,94.97 L304.62,95.55 L304.75,96.18 L304.88,96.86 L305.00,97.58 L305.12,98.34 L305.25,99.14 L305.38,99.98 L305.50,100.86 L305.62,101.76 L305.75,102.70 L305.88,103.66 L306.00,104.65 L306.12,105.66 L306.25,106.70 L306.38,107.75 L306.50,108.81 L306.62,109.89 L306.75,110.98 L306.88,112.07 L307.00,113.17 L307.12,114.28 L307.25,115.38 L307.38,116.49 L307.50,117.59 L307.62,118.68 L307.75,119.76 L307.88,120.83 L308.00,121.89 L308.12,122.92 L308.25,123.95 L308.38,124.94 L308.50,125.92 L308.62,126.87 L308.75,127.79 L308.88,128.67 L309.00,129.53 L309.12,130.34 L309.25,131.12 L309.38,131.86 L309.50,132.55 L309.62,133.20 L309.75,133.80 L309.88,134.35 L310.00,134.84 L310.12,135.28 L310.25,135.66 L310.38,135.98 L310.50,136.24 L310.62,136.43 L310.75,136.55 L310.88,136.60 L311.00,136.58 L311.12,136.48 L311.25,136.32 L311.38,136.09 L311.50,135.80 L311.62,135.44 L311.75,135.03 L311.88,134.56 L312.00,134.03 L312.12,133.46 L312.25,132.84 L312.38,132.17 L312.50,131.46 L312.62,130.71 L312.75,129.92 L312.88,129.10 L313.00,128.24 L313.12,127.36 L313.25,126.44 L313.38,125.51 L313.50,124.55 L313.62,123.57 L313.75,122.58 L313.88,121.57 L314.00,120.55 L314.12,119.53 L314.25,118.49 L314.38,117.46 L314.50,116.42 L314.62,115.39 L314.75,114.36 L314.88,113.34 L315.00,112.32 L315.12,111.32 L315.25,110.34 L315.38,109.37 L315.50,108.43 L315.62,107.51 L315.75,106.61 L315.88,105.74 L316.00,104.91 L316.12,104.10 L316.25,103.34 L316.38,102.61 L316.50,101.92 L316.62,101.28 L316.75,100.69 L316.88,100.15 L317.00,99.65 L317.12,99.22 L317.25,98.84 L317.38,98.52 L317.50,98.26 L317.62,98.07 L317.75,97.95 L317.88,97.90 L318.00,97.93 L318.12,98.05 L318.25,98.26 L318.38,98.56 L318.50,98.93 L318.62,99.39 L318.75,99.91 L318.88,100.50 L319.00,101.15 L319.12,101.86 L319.25,102.62 L319.38,103.43 L319.50,104.29 L319.62,105.19 L319.75,106.12 L319.88,107.09 L320.00,108.08 L320.12,109.09 L320.25,110.12 L320.38,111.17 L320.50,112.22 L320.62,113.28 L320.75,114.35 L320.88,115.40 L321.00,116.45 L321.12,117.48 L321.25,118.50 L321.38,119.50 L321.50,120.47 L321.62,121.41 L321.75,122.31 L321.88,123.18 L322.00,124.00 L322.12,124.81 L322.25,125.64 L322.38,126.50 L322.50,127.37 L322.62,128.24 L322.75,129.13 L322.88,130.02 L323.00,130.91 L323.12,131.79 L323.25,132.66 L323.38,133.52 L323.50,134.36 L323.62,135.19 L323.75,135.98 L323.88,136.75 L324.00,137.48 L324.12,138.18 L324.25,138.83 L324.38,139.44 L324.50,140.00 L324.62,140.52 L324.75,141.02 L324.88,141.49 L325.00,141.95 L325.12,142.38 L325.25,142.80 L325.38,143.21 L325.50,143.60 L325.62,143.98 L325.75,144.35 L325.88,144.72 L326.00,145.08 L326.12,145.43 L326.25,145.79 L326.38,146.14 L326.50,146.50 L326.62,146.87 L326.75,147.24 L326.88,147.61 L327.00,148.00 L327.12,148.38 L327.25,148.74 L327.38,149.09 L327.50,149.43 L327.62,149.75 L327.75,150.08 L327.88,150.40 L328.00,150.73 L328.12,151.07 L328.25,151.43 L328.38,151.80 L328.50,152.19 L328.62,152.61 L328.75,153.05 L328.88,153.53 L329.00,154.05 L329.12,154.62 L329.25,155.27 L329.38,156.02 L329.50,156.86 L329.62,157.80 L329.75,158.81 L329.88,159.89 L330.00,161.03 L330.12,162.23 L330.25,163.48 L330.38,164.78 L330.50,166.10 L330.62,167.45 L330.75,168.82 L330.88,170.20 L331.00,171.58 L331.12,172.96 L331.25,174.33 L331.38,175.68 L331.50,177.00 L331.62,178.31 L331.75,179.62 L331.88,180.94 L332.00,182.27 L332.12,183.60 L332.25,184.95 L332.38,186.31 L332.50,187.68 L332.62,189.06 L332.75,190.47 L332.88,191.89 L333.00,193.32 L333.12,194.78 L333.25,196.26 L333.38,197.76 L333.50,199.29 L333.62,200.85 L333.75,202.43 L333.88,204.03 L334.00,205.67 L334.12,207.34 L334.25,209.05 L334.38,210.78 L334.50,212.56 L334.62,214.37 L334.75,216.24 L334.88,218.18 L335.00,220.19 L335.12,222.26 L335.25,224.39 L335.38,226.58 L335.50,228.81 L335.62,231.09 L335.75,233.41 L335.88,235.77 L336.00,238.17 L336.12,240.59 L336.25,243.04 L336.38,245.51 L336.50,248.00 L336.62,250.51 L336.75,253.15 L336.88,255.96 L337.00,258.90 L337.12,261.93 L337.25,265.01 L337.38,268.11 L337.50,271.18 L337.62,274.19 L337.75,277.11 L337.88,279.88 L338.00,282.48 L338.12,284.87 L338.25,287.00 L338.38,288.98 L338.50,290.93 L338.62,292.84 L338.75,294.73 L338.88,296.57 L339.00,298.38 L339.12,300.15 L339.25,301.87 L339.38,303.55 L339.50,305.19 L339.62,306.77 L339.75,308.31 L339.88,309.80 L340.00,311.23 L340.12,312.61 L340.25,313.93 L340.38,315.19 L340.50,316.39 L340.62,317.53 L340.75,318.60 L340.88,319.61 L341.00,320.55 L341.12,321.41 L341.25,322.21 L341.38,322.98 L341.50,323.72 L341.62,324.44 L341.75,325.13 L341.88,325.80 L342.00,326.45 L342.12,327.08 L342.25,327.68 L342.38,328.26 L342.50,328.82 L342.62,329.36 L342.75,329.88 L342.88,330.38 L343.00,330.85 L343.12,331.31 L343.25,331.75 L343.38,332.17 L343.50,332.57 L343.62,332.96 L343.75,333.32 L343.88,333.67 L344.00,334.00 L344.12,334.32 L344.25,334.64 L344.38,334.95 L344.50,335.26 L344.62,335.56 L344.75,335.86 L344.88,336.15 L345.00,336.44 L345.12,336.72 L345.25,336.99 L345.38,337.25 L345.50,337.51 L345.62,337.76 L345.75,338.00 L345.88,338.24 L346.00,338.46 L346.12,338.67 L346.25,338.88 L346.38,339.07 L346.50,339.26 L346.62,339.43 L346.75,339.59 L346.88,339.74 L347.00,339.88 L347.12,340.00 L347.25,340.12 L347.38,340.21 L347.50,340.30 L347.62,340.38 L347.75,340.45 L347.88,340.52 L348.00,340.59 L348.12,340.66 L348.25,340.72 L348.38,340.78 L348.50,340.84 L348.62,340.90 L348.75,340.95 L348.88,341.00 L349.00,341.05 L349.12,341.10 L349.25,341.14 L349.38,341.19 L349.50,341.23 L349.62,341.27 L349.75,341.31 L349.88,341.35 L350.00,341.39 L350.12,341.42 L350.25,341.46 L350.38,341.49 L350.50,341.53 L350.62,341.56 L350.75,341.59 L350.88,341.62 L351.00,341.65 L351.12,341.68 L351.25,341.71 L351.38,341.74 L351.50,341.77 L351.62,341.80 L351.75,341.84 L351.88,341.87 L352.00,341.90 L352.12,341.93 L352.25,341.96 L352.38,341.98 L352.50,342.01 L352.62,342.04 L352.75,342.06 L352.88,342.09 L353.00,342.11 L353.12,342.13 L353.25,342.15 L353.38,342.16 L353.50,342.18 L353.62,342.19 L353.75,342.19 L353.88,342.20 L354.00,342.20 L354.12,342.19 L354.25,342.15 L354.38,342.09 L354.50,342.01 L354.62,341.91 L354.75,341.81 L354.88,341.69 L355.00,341.56 L355.12,341.43 L355.25,341.30 L355.38,341.17 L355.50,341.04 L355.62,340.92 L355.75,340.81 L355.88,340.71 L356.00,340.63 L356.12,340.56 L356.25,340.52 L356.38,340.50 L356.50,340.51 L356.62,340.53 L356.75,340.57 L356.88,340.62 L357.00,340.69 L357.12,340.77 L357.25,340.87 L357.38,340.97 L357.50,341.09 L357.62,341.21 L357.75,341.35 L357.88,341.49 L358.00,341.63 L358.12,341.79 L358.25,341.94 L358.38,342.10 L358.50,342.26 L358.62,342.42 L358.75,342.59 L358.88,342.75 L359.00,342.91 L359.12,343.06 L359.25,343.21 L359.38,343.36 L359.50,343.50 L359.62,343.64 L359.75,343.78 L359.88,343.93 L360.00,344.08 L360.12,344.24 L360.25,344.40 L360.38,344.56 L360.50,344.72 L360.62,344.89 L360.75,345.06 L360.88,345.23 L361.00,345.40 L361.12,345.57 L361.25,345.75 L361.38,345.92 L361.50,346.09 L361.62,346.27 L361.75,346.44 L361.88,346.61 L362.00,346.78 L362.12,346.95 L362.25,347.12 L362.38,347.28 L362.50,347.44 L362.62,347.60 L362.75,347.76 L362.88,347.91 L363.00,348.06 L363.12,348.20 L363.25,348.34 L363.38,348.47 L363.50,348.60 L363.62,348.73 L363.75,348.86 L363.88,348.99 L364.00,349.12 L364.12,349.24 L364.25,349.37 L364.38,349.49 L364.50,349.61 L364.62,349.73 L364.75,349.85 L364.88,349.97 L365.00,350.08 L365.12,350.19 L365.25,350.30 L365.38,350.41 L365.50,350.51 L365.62,350.61 L365.75,350.71 L365.88,350.80 L366.00,350.90 L366.12,350.98 L366.25,351.07 L366.38,351.15 L366.50,351.22 L366.62,351.30 L366.75,351.37 L366.88,351.43 L367.00,351.50 L367.12,351.56 L367.25,351.62 L367.38,351.68 L367.50,351.73 L367.62,351.79 L367.75,351.84 L367.88,351.90 L368.00,351.95 L368.12,352.01 L368.25,352.06 L368.38,352.11 L368.50,352.17 L368.62,352.23 L368.75,352.28 L368.88,352.34 L369.00,352.40 L369.12,352.47 L369.25,352.53 L369.38,352.60 L369.50,352.68 L369.62,352.75 L369.75,352.83 L369.88,352.92 L370.00,353.01 L370.12,353.11 L370.25,353.21 L370.38,353.32 L370.50,353.44 L370.62,353.56 L370.75,353.68 L370.88,353.81 L371.00,353.93 L371.12,354.07 L371.25,354.20 L371.38,354.34 L371.50,354.47 L371.62,354.61 L371.75,354.75 L371.88,354.89 L372.00,355.03 L372.12,355.17 L372.25,355.30 L372.38,355.44 L372.50,355.57 L372.62,355.71 L372.75,355.84 L372.88,355.96 L373.00,356.08 L373.12,356.20 L373.25,356.32 L373.38,356.43 L373.50,356.53 L373.62,356.63 L373.75,356.72 L373.88,356.81 L374.00,356.89 L374.12,356.96 L374.25,357.03 L374.38,357.09 L374.50,357.15 L374.62,357.20 L374.75,357.26 L374.88,357.31 L375.00,357.36 L375.12,357.40 L375.25,357.45 L375.38,357.49 L375.50,357.54 L375.62,357.58 L375.75,357.62 L375.88,357.66 L376.00,357.70 L376.12,357.74 L376.25,357.78 L376.38,357.82 L376.50,357.86 L376.62,357.90 L376.75,357.94 L376.88,357.98 L377.00,358.02 L377.12,358.06 L377.25,358.11 L377.38,358.15 L377.50,358.20 L377.62,358.25 L377.75,358.29 L377.88,358.34 L378.00,358.39 L378.12,358.43 L378.25,358.48 L378.38,358.52 L378.50,358.57 L378.62,358.61 L378.75,358.66 L378.88,358.71 L379.00,358.75 L379.12,358.80 L379.25,358.85 L379.38,358.89 L379.50,358.94 L379.62,358.99 L379.75,359.04 L379.88,359.09 L380.00,359.14 L380.12,359.20 L380.25,359.25 L380.38,359.30 L380.50,359.36 L380.62,359.42 L380.75,359.48 L380.88,359.54 L381.00,359.60 L381.12,359.67 L381.25,359.74 L381.38,359.81 L381.50,359.89 L381.62,359.98 L381.75,360.07 L381.88,360.16 L382.00,360.25 L382.12,360.34 L382.25,360.44 L382.38,360.53 L382.50,360.63 L382.62,360.73 L382.75,360.82 L382.88,360.91 L383.00,361.01 L383.12,361.09 L383.25,361.18 L383.38,361.26 L383.50,361.34 L383.62,361.41 L383.75,361.48 L383.88,361.54 L384.00,361.60 L384.12,361.65 L384.25,361.70 L384.38,361.75 L384.50,361.80 L384.62,361.84 L384.75,361.89 L384.88,361.93 L385.00,361.97 L385.12,362.01 L385.25,362.05 L385.38,362.09 L385.50,362.12 L385.62,362.16 L385.75,362.20 L385.88,362.23 L386.00,362.27 L386.12,362.30 L386.25,362.33 L386.38,362.37 L386.50,362.40 L386.62,362.43 L386.75,362.46 L386.88,362.50 L387.00,362.53 L387.12,362.56 L387.25,362.59 L387.38,362.63 L387.50,362.66 L387.62,362.69 L387.75,362.73 L387.88,362.76 L388.00,362.80 L388.12,362.84 L388.25,362.87 L388.38,362.91 L388.50,362.94 L388.62,362.98 L388.75,363.01 L388.88,363.05 L389.00,363.08 L389.12,363.12 L389.25,363.15 L389.38,363.19 L389.50,363.22 L389.62,363.25 L389.75,363.29 L389.88,363.32 L390.00,363.36 L390.12,363.39 L390.25,363.42 L390.38,363.46 L390.50,363.49 L390.62,363.53 L390.75,363.56 L390.88,363.60 L391.00,363.63 L391.12,363.67 L391.25,363.70 L391.38,363.74 L391.50,363.77 L391.62,363.81 L391.75,363.84 L391.88,363.88 L392.00,363.92 L392.12,363.96 L392.25,363.99 L392.38,364.03 L392.50,364.07 L392.62,364.11 L392.75,364.15 L392.88,364.19 L393.00,364.23 L393.12,364.27 L393.25,364.31 L393.38,364.36 L393.50,364.40 L393.62,364.44 L393.75,364.49 L393.88,364.53 L394.00,364.58 L394.12,364.62 L394.25,364.67 L394.38,364.72 L394.50,364.76 L394.62,364.81 L394.75,364.86 L394.88,364.90 L395.00,364.95 L395.12,364.99 L395.25,365.04 L395.38,365.09 L395.50,365.13 L395.62,365.18 L395.75,365.22 L395.88,365.27 L396.00,365.31 L396.12,365.36 L396.25,365.40 L396.38,365.45 L396.50,365.49 L396.62,365.53 L396.75,365.57 L396.88,365.61 L397.00,365.65 L397.12,365.69 L397.25,365.73 L397.38,365.76 L397.50,365.80 L397.62,365.84 L397.75,365.87 L397.88,365.91 L398.00,365.94 L398.12,365.97 L398.25,366.01 L398.38,366.04 L398.50,366.08 L398.62,366.11 L398.75,366.14 L398.88,366.18 L399.00,366.21 L399.12,366.24 L399.25,366.28 L399.38,366.31 L399.50,366.34 L399.62,366.37 L399.75,366.41 L399.88,366.44 L400.00,366.47 L400.12,366.50 L400.25,366.53 L400.38,366.56 L400.50,366.59 L400.62,366.62 L400.75,366.65 L400.88,366.68 L401.00,366.71 L401.12,366.74 L401.25,366.77 L401.38,366.80 L401.50,366.83 L401.62,366.86 L401.75,366.88 L401.88,366.91 L402.00,366.94 L402.12,366.97 L402.25,366.99 L402.38,367.02 L402.50,367.05 L402.62,367.07 L402.75,367.10 L402.88,367.12 L403.00,367.15 L403.12,367.18 L403.25,367.20 L403.38,367.23 L403.50,367.25 L403.62,367.27 L403.75,367.30 L403.88,367.32 L404.00,367.35 L404.12,367.37 L404.25,367.39 L404.38,367.41 L404.50,367.44 L404.62,367.46 L404.75,367.48 L404.88,367.50 L405.00,367.52 L405.12,367.54 L405.25,367.57 L405.38,367.59 L405.50,367.61 L405.62,367.63 L405.75,367.65 L405.88,367.67 L406.00,367.69 L406.12,367.71 L406.25,367.73 L406.38,367.75 L406.50,367.77 L406.62,367.79 L406.75,367.81 L406.88,367.82 L407.00,367.84 L407.12,367.86 L407.25,367.88 L407.38,367.90 L407.50,367.92 L407.62,367.93 L407.75,367.95 L407.88,367.97 L408.00,367.99 L408.12,368.01 L408.25,368.02 L408.38,368.04 L408.50,368.06 L408.62,368.08 L408.75,368.09 L408.88,368.11 L409.00,368.13 L409.12,368.14 L409.25,368.16 L409.38,368.18 L409.50,368.19 L409.62,368.21 L409.75,368.23 L409.88,368.24 L410.00,368.26 L410.12,368.28 L410.25,368.29 L410.38,368.31 L410.50,368.33 L410.62,368.34 L410.75,368.36 L410.88,368.38 L411.00,368.39 L411.12,368.41 L411.25,368.42 L411.38,368.44 L411.50,368.46 L411.62,368.47 L411.75,368.49 L411.88,368.51 L412.00,368.52 L412.12,368.54 L412.25,368.55 L412.38,368.57 L412.50,368.59 L412.62,368.60 L412.75,368.62 L412.88,368.64 L413.00,368.65 L413.12,368.67 L413.25,368.68 L413.38,368.69 L413.50,368.71 L413.62,368.72 L413.75,368.74 L413.88,368.75 L414.00,368.76 L414.12,368.78 L414.25,368.79 L414.38,368.80 L414.50,368.81 L414.62,368.83 L414.75,368.84 L414.88,368.85 L415.00,368.86 L415.12,368.87 L415.25,368.89 L415.38,368.90 L415.50,368.91 L415.62,368.92 L415.75,368.93 L415.88,368.94 L416.00,368.96 L416.12,368.97 L416.25,368.98 L416.38,368.99 L416.50,369.00 L416.62,369.01 L416.75,369.03 L416.88,369.04 L417.00,369.05 L417.12,369.06 L417.25,369.08 L417.38,369.09 L417.50,369.10 L417.62,369.11 L417.75,369.13 L417.88,369.14 L418.00,369.16 L418.12,369.17 L418.25,369.18 L418.38,369.20 L418.50,369.21 L418.62,369.23 L418.75,369.24 L418.88,369.26 L419.00,369.28 L419.12,369.29 L419.25,369.31 L419.38,369.33 L419.50,369.35 L419.62,369.36 L419.75,369.38 L419.88,369.40 L420.00,369.42 L420.12,369.44 L420.25,369.46 L420.38,369.48 L420.50,369.51 L420.62,369.53 L420.75,369.55 L420.88,369.58 L421.00,369.60 L421.12,369.63 L421.25,369.66 L421.38,369.69 L421.50,369.73 L421.62,369.77 L421.75,369.81 L421.88,369.85 L422.00,369.90 L422.12,369.95 L422.25,370.00 L422.38,370.05 L422.50,370.11 L422.62,370.16 L422.75,370.22 L422.88,370.27 L423.00,370.33 L423.12,370.39 L423.25,370.45 L423.38,370.51 L423.50,370.57 L423.62,370.63 L423.75,370.69 L423.88,370.74 L424.00,370.80 L424.12,370.86 L424.25,370.91 L424.38,370.96 L424.50,371.02 L424.62,371.07 L424.75,371.11 L424.88,371.16 L425.00,371.20 L425.12,371.24 L425.25,371.28 L425.38,371.32 L425.50,371.37 L425.62,371.41 L425.75,371.45 L425.88,371.49 L426.00,371.53 L426.12,371.57 L426.25,371.61 L426.38,371.65 L426.50,371.69 L426.62,371.73 L426.75,371.77 L426.88,371.81 L427.00,371.84 L427.12,371.88 L427.25,371.92 L427.38,371.95 L427.50,371.99 L427.62,372.02 L427.75,372.06 L427.88,372.09 L428.00,372.12 L428.12,372.16 L428.25,372.19 L428.38,372.22 L428.50,372.24 L428.62,372.27 L428.75,372.30 L428.88,372.32 L429.00,372.35 L429.12,372.37 L429.25,372.39 L429.38,372.41 L429.50,372.43 L429.62,372.45 L429.75,372.47 L429.88,372.49 L430.00,372.51 L430.12,372.53 L430.25,372.54 L430.38,372.56 L430.50,372.58 L430.62,372.60 L430.75,372.61 L430.88,372.63 L431.00,372.65 L431.12,372.66 L431.25,372.68 L431.38,372.69 L431.50,372.71 L431.62,372.72 L431.75,372.74 L431.88,372.75 L432.00,372.76 L432.12,372.78 L432.25,372.79 L432.38,372.81 L432.50,372.82 L432.62,372.83 L432.75,372.84 L432.88,372.86 L433.00,372.87 L433.12,372.88 L433.25,372.89 L433.38,372.91 L433.50,372.92 L433.62,372.93 L433.75,372.94 L433.88,372.95 L434.00,372.97 L434.12,372.98 L434.25,372.99 L434.38,373.00 L434.50,373.01 L434.62,373.02 L434.75,373.03 L434.88,373.05 L435.00,373.06 L435.12,373.07 L435.25,373.08 L435.38,373.09 L435.50,373.10 L435.62,373.11 L435.75,373.12 L435.88,373.14 L436.00,373.15 L436.12,373.16 L436.25,373.17 L436.38,373.18 L436.50,373.19 L436.62,373.20 L436.75,373.22 L436.88,373.23 L437.00,373.24 L437.12,373.25 L437.25,373.26 L437.38,373.28 L437.50,373.29 L437.62,373.30 L437.75,373.32 L437.88,373.33 L438.00,373.34 L438.12,373.35 L438.25,373.37 L438.38,373.38 L438.50,373.39 L438.62,373.40 L438.75,373.42 L438.88,373.43 L439.00,373.44 L439.12,373.45 L439.25,373.47 L439.38,373.48 L439.50,373.49 L439.62,373.50 L439.75,373.51 L439.88,373.53 L440.00,373.54 L440.12,373.55 L440.25,373.56 L440.38,373.57 L440.50,373.59 L440.62,373.60 L440.75,373.61 L440.88,373.62 L441.00,373.63 L441.12,373.65 L441.25,373.66 L441.38,373.67 L441.50,373.68 L441.62,373.69 L441.75,373.71 L441.88,373.72 L442.00,373.73 L442.12,373.74 L442.25,373.75 L442.38,373.77 L442.50,373.78 L442.62,373.79 L442.75,373.80 L442.88,373.81 L443.00,373.82 L443.12,373.84 L443.25,373.85 L443.38,373.86 L443.50,373.87 L443.62,373.88 L443.75,373.90 L443.88,373.91 L444.00,373.92 L444.12,373.93 L444.25,373.94 L444.38,373.95 L444.50,373.97 L444.62,373.98 L444.75,373.99 L444.88,374.00 L445.00,374.01 L445.12,374.03 L445.25,374.04 L445.38,374.05 L445.50,374.06 L445.62,374.07 L445.75,374.09 L445.88,374.10 L446.00,374.11 L446.12,374.12 L446.25,374.13 L446.38,374.15 L446.50,374.16 L446.62,374.17 L446.75,374.19 L446.88,374.20 L447.00,374.21 L447.12,374.22 L447.25,374.24 L447.38,374.25 L447.50,374.27 L447.62,374.28 L447.75,374.29 L447.88,374.31 L448.00,374.32 L448.12,374.33 L448.25,374.35 L448.38,374.36 L448.50,374.38 L448.62,374.39 L448.75,374.40 L448.88,374.42 L449.00,374.43 L449.12,374.44 L449.25,374.46 L449.38,374.47 L449.50,374.49 L449.62,374.50 L449.75,374.51 L449.88,374.53 L450.00,374.54 L450.12,374.55 L450.25,374.57 L450.38,374.58 L450.50,374.59 L450.62,374.61 L450.75,374.62 L450.88,374.63 L451.00,374.64 L451.12,374.66 L451.25,374.67 L451.38,374.68 L451.50,374.69 L451.62,374.71 L451.75,374.72 L451.88,374.73 L452.00,374.74 L452.12,374.75 L452.25,374.76 L452.38,374.77 L452.50,374.78 L452.62,374.79 L452.75,374.80 L452.88,374.81 L453.00,374.82 L453.12,374.83 L453.25,374.84 L453.38,374.85 L453.50,374.86 L453.62,374.87 L453.75,374.87 L453.88,374.88 L454.00,374.89 L454.12,374.90 L454.25,374.90 L454.38,374.91 L454.50,374.92 L454.62,374.92 L454.75,374.93 L454.88,374.93 L455.00,374.94 L455.12,374.94 L455.25,374.95 L455.38,374.95 L455.50,374.96 L455.62,374.96 L455.75,374.97 L455.88,374.97 L456.00,374.98 L456.12,374.98 L456.25,374.99 L456.38,374.99 L456.50,375.00 L456.62,375.00 L456.75,375.00 L456.88,375.01 L457.00,375.01 L457.12,375.02 L457.25,375.02 L457.38,375.02 L457.50,375.03 L457.62,375.03 L457.75,375.03 L457.88,375.04 L458.00,375.04 L458.12,375.05 L458.25,375.05 L458.38,375.05 L458.50,375.06 L458.62,375.06 L458.75,375.06 L458.88,375.07 L459.00,375.07 L459.12,375.07 L459.25,375.08 L459.38,375.08 L459.50,375.08 L459.62,375.09 L459.75,375.09 L459.88,375.10 L460.00,375.10 L460.12,375.10 L460.25,375.11 L460.38,375.11 L460.50,375.12 L460.62,375.12 L460.75,375.12 L460.88,375.13 L461.00,375.13 L461.12,375.14 L461.25,375.14 L461.38,375.15 L461.50,375.15 L461.62,375.16 L461.75,375.16 L461.88,375.17 L462.00,375.17 L462.12,375.18 L462.25,375.18 L462.38,375.19 L462.50,375.20 L462.62,375.20 L462.75,375.21 L462.88,375.21 L463.00,375.22 L463.12,375.23 L463.25,375.24 L463.38,375.25 L463.50,375.26 L463.62,375.27 L463.75,375.28 L463.88,375.29 L464.00,375.30 L464.12,375.31 L464.25,375.32 L464.38,375.34 L464.50,375.35 L464.62,375.36 L464.75,375.37 L464.88,375.39 L465.00,375.40 L465.12,375.41 L465.25,375.42 L465.38,375.44 L465.50,375.45 L465.62,375.46 L465.75,375.48 L465.88,375.49 L466.00,375.50 L466.12,375.51 L466.25,375.53 L466.38,375.54 L466.50,375.55 L466.62,375.56 L466.75,375.57 L466.88,375.58 L467.00,375.59 L467.12,375.60 L467.25,375.61 L467.38,375.62 L467.50,375.63 L467.62,375.64 L467.75,375.65 L467.88,375.66 L468.00,375.67 L468.12,375.67 L468.25,375.68 L468.38,375.68 L468.50,375.69 L468.62,375.69 L468.75,375.69 L468.88,375.70 L469.00,375.70 L469.12,375.70 L469.25,375.70 L469.38,375.70 L469.50,375.70 L469.62,375.69 L469.75,375.69 L469.88,375.68 L470.00,375.67 L470.12,375.66 L470.25,375.65 L470.38,375.64 L470.50,375.62 L470.62,375.61 L470.75,375.59 L470.88,375.58 L471.00,375.56 L471.12,375.54 L471.25,375.52 L471.38,375.50 L471.50,375.48 L471.62,375.46 L471.75,375.43 L471.88,375.41 L472.00,375.38 L472.12,375.36 L472.25,375.33 L472.38,375.30 L472.50,375.28 L472.62,375.25 L472.75,375.22 L472.88,375.19 L473.00,375.16 L473.12,375.13 L473.25,375.10 L473.38,375.06 L473.50,375.03 L473.62,375.00 L473.75,374.97 L473.88,374.93 L474.00,374.90" stroke="#1088d4" stroke-width="1.6"/>
<path d="M48.50,373.70 L48.62,373.84 L48.75,373.98 L48.88,374.12 L49.00,374.25 L49.12,374.38 L49.25,374.50 L49.38,374.62 L49.50,374.73 L49.62,374.83 L49.75,374.94 L49.88,375.03 L50.00,375.12 L50.12,375.20 L50.25,375.28 L50.38,375.35 L50.50,375.42 L50.62,375.48 L50.75,375.53 L50.88,375.58 L51.00,375.61 L51.12,375.65 L51.25,375.67 L51.38,375.69 L51.50,375.70 L51.62,375.70 L51.75,375.69 L51.88,375.67 L52.00,375.63 L52.12,375.58 L52.25,375.52 L52.38,375.45 L52.50,375.37 L52.62,375.28 L52.75,375.18 L52.88,375.07 L53.00,374.95 L53.12,374.82 L53.25,374.69 L53.38,374.55 L53.50,374.40 L53.62,374.25 L53.75,374.09 L53.88,373.93 L54.00,373.77 L54.12,373.60 L54.25,373.43 L54.38,373.25 L54.50,373.08 L54.62,372.91 L54.75,372.73 L54.88,372.55 L55.00,372.38 L55.12,372.21 L55.25,372.04 L55.38,371.87 L55.50,371.70 L55.62,371.54 L55.75,371.38 L55.88,371.23 L56.00,371.08 L56.12,370.94 L56.25,370.81 L56.38,370.68 L56.50,370.56 L56.62,370.45 L56.75,370.34 L56.88,370.25 L57.00,370.16 L57.12,370.09 L57.25,370.03 L57.38,369.98 L57.50,369.94 L57.62,369.91 L57.75,369.90 L57.88,369.90 L58.00,369.92 L58.12,369.95 L58.25,369.99 L58.38,370.05 L58.50,370.12 L58.62,370.20 L58.75,370.29 L58.88,370.39 L59.00,370.50 L59.12,370.62 L59.25,370.75 L59.38,370.89 L59.50,371.04 L59.62,371.19 L59.75,371.35 L59.88,371.52 L60.00,371.69 L60.12,371.87 L60.25,372.05 L60.38,372.24 L60.50,372.43 L60.62,372.62 L60.75,372.82 L60.88,373.01 L61.00,373.21 L61.12,373.41 L61.25,373.61 L61.38,373.81 L61.50,374.00 L61.62,374.20 L61.75,374.39 L61.88,374.58 L62.00,374.77 L62.12,374.96 L62.25,375.14 L62.38,375.31 L62.50,375.48 L62.62,375.64 L62.75,375.80 L62.88,375.95 L63.00,376.09 L63.12,376.23 L63.25,376.35 L63.38,376.47 L63.50,376.57 L63.62,376.67 L63.75,376.75 L63.88,376.83 L64.00,376.89 L64.12,376.94 L64.25,376.97 L64.38,376.99 L64.50,377.00 L64.62,376.99 L64.75,376.97 L64.88,376.94 L65.00,376.89 L65.12,376.83 L65.25,376.75 L65.38,376.67 L65.50,376.57 L65.62,376.47 L65.75,376.35 L65.88,376.22 L66.00,376.08 L66.12,375.94 L66.25,375.78 L66.38,375.62 L66.50,375.45 L66.62,375.27 L66.75,375.09 L66.88,374.90 L67.00,374.70 L67.12,374.50 L67.25,374.29 L67.38,374.08 L67.50,373.87 L67.62,373.65 L67.75,373.43 L67.88,373.20 L68.00,372.98 L68.12,372.75 L68.25,372.52 L68.38,372.29 L68.50,372.06 L68.62,371.83 L68.75,371.60 L68.88,371.37 L69.00,371.14 L69.12,370.92 L69.25,370.70 L69.38,370.48 L69.50,370.26 L69.62,370.05 L69.75,369.84 L69.88,369.64 L70.00,369.44 L70.12,369.25 L70.25,369.06 L70.38,368.89 L70.50,368.71 L70.62,368.55 L70.75,368.39 L70.88,368.24 L71.00,368.11 L71.12,367.98 L71.25,367.86 L71.38,367.75 L71.50,367.65 L71.62,367.56 L71.75,367.49 L71.88,367.42 L72.00,367.37 L72.12,367.33 L72.25,367.31 L72.38,367.30 L72.50,367.31 L72.62,367.34 L72.75,367.39 L72.88,367.46 L73.00,367.55 L73.12,367.66 L73.25,367.78 L73.38,367.93 L73.50,368.08 L73.62,368.26 L73.75,368.45 L73.88,368.65 L74.00,368.86 L74.12,369.08 L74.25,369.32 L74.38,369.56 L74.50,369.81 L74.62,370.08 L74.75,370.34 L74.88,370.61 L75.00,370.89 L75.12,371.17 L75.25,371.46 L75.38,371.75 L75.50,372.03 L75.62,372.32 L75.75,372.61 L75.88,372.90 L76.00,373.18 L76.12,373.46 L76.25,373.74 L76.38,374.01 L76.50,374.28 L76.62,374.54 L76.75,374.79 L76.88,375.03 L77.00,375.26 L77.12,375.48 L77.25,375.70 L77.38,375.89 L77.50,376.08 L77.62,376.25 L77.75,376.40 L77.88,376.54 L78.00,376.67 L78.12,376.77 L78.25,376.86 L78.38,376.93 L78.50,376.97 L78.62,377.00 L78.75,377.00 L78.88,376.97 L79.00,376.92 L79.12,376.85 L79.25,376.74 L79.38,376.62 L79.50,376.47 L79.62,376.31 L79.75,376.12 L79.88,375.91 L80.00,375.69 L80.12,375.44 L80.25,375.19 L80.38,374.91 L80.50,374.63 L80.62,374.33 L80.75,374.02 L80.88,373.70 L81.00,373.36 L81.12,373.02 L81.25,372.68 L81.38,372.32 L81.50,371.97 L81.62,371.60 L81.75,371.24 L81.88,370.87 L82.00,370.50 L82.12,370.13 L82.25,369.76 L82.38,369.40 L82.50,369.03 L82.62,368.68 L82.75,368.32 L82.88,367.98 L83.00,367.64 L83.12,367.30 L83.25,366.98 L83.38,366.67 L83.50,366.37 L83.62,366.09 L83.75,365.81 L83.88,365.56 L84.00,365.31 L84.12,365.09 L84.25,364.88 L84.38,364.69 L84.50,364.53 L84.62,364.38 L84.75,364.26 L84.88,364.15 L85.00,364.08 L85.12,364.03 L85.25,364.00 L85.38,364.00 L85.50,364.03 L85.62,364.08 L85.75,364.15 L85.88,364.23 L86.00,364.34 L86.12,364.47 L86.25,364.61 L86.38,364.77 L86.50,364.95 L86.62,365.14 L86.75,365.35 L86.88,365.56 L87.00,365.79 L87.12,366.03 L87.25,366.29 L87.38,366.55 L87.50,366.81 L87.62,367.09 L87.75,367.37 L87.88,367.66 L88.00,367.95 L88.12,368.25 L88.25,368.55 L88.38,368.85 L88.50,369.15 L88.62,369.45 L88.75,369.75 L88.88,370.05 L89.00,370.35 L89.12,370.64 L89.25,370.93 L89.38,371.21 L89.50,371.49 L89.62,371.75 L89.75,372.01 L89.88,372.27 L90.00,372.51 L90.12,372.74 L90.25,372.95 L90.38,373.16 L90.50,373.35 L90.62,373.53 L90.75,373.69 L90.88,373.83 L91.00,373.96 L91.12,374.07 L91.25,374.15 L91.38,374.22 L91.50,374.27 L91.62,374.30 L91.75,374.30 L91.88,374.27 L92.00,374.22 L92.12,374.14 L92.25,374.04 L92.38,373.91 L92.50,373.76 L92.62,373.59 L92.75,373.39 L92.88,373.18 L93.00,372.95 L93.12,372.70 L93.25,372.43 L93.38,372.15 L93.50,371.85 L93.62,371.54 L93.75,371.22 L93.88,370.89 L94.00,370.54 L94.12,370.19 L94.25,369.82 L94.38,369.45 L94.50,369.07 L94.62,368.69 L94.75,368.31 L94.88,367.92 L95.00,367.52 L95.12,367.13 L95.25,366.73 L95.38,366.34 L95.50,365.95 L95.62,365.56 L95.75,365.18 L95.88,364.80 L96.00,364.42 L96.12,364.06 L96.25,363.70 L96.38,363.35 L96.50,363.01 L96.62,362.68 L96.75,362.37 L96.88,362.07 L97.00,361.78 L97.12,361.50 L97.25,361.25 L97.38,361.01 L97.50,360.79 L97.62,360.59 L97.75,360.41 L97.88,360.25 L98.00,360.11 L98.12,360.00 L98.25,359.91 L98.38,359.85 L98.50,359.81 L98.62,359.80 L98.75,359.82 L98.88,359.85 L99.00,359.91 L99.12,359.99 L99.25,360.08 L99.38,360.20 L99.50,360.33 L99.62,360.47 L99.75,360.64 L99.88,360.81 L100.00,361.01 L100.12,361.21 L100.25,361.43 L100.38,361.65 L100.50,361.89 L100.62,362.14 L100.75,362.39 L100.88,362.66 L101.00,362.93 L101.12,363.20 L101.25,363.48 L101.38,363.77 L101.50,364.06 L101.62,364.35 L101.75,364.65 L101.88,364.94 L102.00,365.24 L102.12,365.53 L102.25,365.82 L102.38,366.11 L102.50,366.40 L102.62,366.69 L102.75,366.96 L102.88,367.24 L103.00,367.50 L103.12,367.76 L103.25,368.01 L103.38,368.25 L103.50,368.49 L103.62,368.71 L103.75,368.91 L103.88,369.11 L104.00,369.29 L104.12,369.46 L104.25,369.62 L104.38,369.75 L104.50,369.87 L104.62,369.98 L104.75,370.06 L104.88,370.13 L105.00,370.17 L105.12,370.20 L105.25,370.20 L105.38,370.17 L105.50,370.12 L105.62,370.04 L105.75,369.93 L105.88,369.81 L106.00,369.65 L106.12,369.48 L106.25,369.29 L106.38,369.07 L106.50,368.84 L106.62,368.59 L106.75,368.33 L106.88,368.05 L107.00,367.75 L107.12,367.44 L107.25,367.13 L107.38,366.80 L107.50,366.46 L107.62,366.11 L107.75,365.76 L107.88,365.40 L108.00,365.03 L108.12,364.67 L108.25,364.30 L108.38,363.92 L108.50,363.55 L108.62,363.18 L108.75,362.81 L108.88,362.45 L109.00,362.08 L109.12,361.73 L109.25,361.38 L109.38,361.04 L109.50,360.70 L109.62,360.38 L109.75,360.07 L109.88,359.77 L110.00,359.48 L110.12,359.21 L110.25,358.96 L110.38,358.72 L110.50,358.50 L110.62,358.29 L110.75,358.11 L110.88,357.95 L111.00,357.81 L111.12,357.70 L111.25,357.61 L111.38,357.55 L111.50,357.51 L111.62,357.50 L111.75,357.51 L111.88,357.54 L112.00,357.59 L112.12,357.66 L112.25,357.74 L112.38,357.83 L112.50,357.94 L112.62,358.07 L112.75,358.20 L112.88,358.35 L113.00,358.51 L113.12,358.69 L113.25,358.87 L113.38,359.06 L113.50,359.27 L113.62,359.48 L113.75,359.70 L113.88,359.92 L114.00,360.16 L114.12,360.39 L114.25,360.64 L114.38,360.89 L114.50,361.14 L114.62,361.40 L114.75,361.66 L114.88,361.92 L115.00,362.18 L115.12,362.45 L115.25,362.71 L115.38,362.97 L115.50,363.24 L115.62,363.50 L115.75,363.76 L115.88,364.01 L116.00,364.26 L116.12,364.51 L116.25,364.75 L116.38,364.99 L116.50,365.21 L116.62,365.44 L116.75,365.65 L116.88,365.86 L117.00,366.05 L117.12,366.24 L117.25,366.42 L117.38,366.59 L117.50,366.74 L117.62,366.88 L117.75,367.01 L117.88,367.13 L118.00,367.23 L118.12,367.31 L118.25,367.38 L118.38,367.44 L118.50,367.48 L118.62,367.50 L118.75,367.50 L118.88,367.48 L119.00,367.44 L119.12,367.37 L119.25,367.29 L119.38,367.19 L119.50,367.07 L119.62,366.93 L119.75,366.78 L119.88,366.61 L120.00,366.42 L120.12,366.22 L120.25,366.01 L120.38,365.78 L120.50,365.54 L120.62,365.30 L120.75,365.04 L120.88,364.77 L121.00,364.49 L121.12,364.21 L121.25,363.92 L121.38,363.62 L121.50,363.32 L121.62,363.01 L121.75,362.70 L121.88,362.39 L122.00,362.08 L122.12,361.76 L122.25,361.45 L122.38,361.13 L122.50,360.82 L122.62,360.51 L122.75,360.20 L122.88,359.90 L123.00,359.60 L123.12,359.31 L123.25,359.02 L123.38,358.74 L123.50,358.47 L123.62,358.21 L123.75,357.95 L123.88,357.71 L124.00,357.48 L124.12,357.26 L124.25,357.06 L124.38,356.87 L124.50,356.69 L124.62,356.53 L124.75,356.38 L124.88,356.26 L125.00,356.15 L125.12,356.06 L125.25,355.99 L125.38,355.94 L125.50,355.91 L125.62,355.90 L125.75,355.92 L125.88,355.95 L126.00,356.01 L126.12,356.09 L126.25,356.19 L126.38,356.31 L126.50,356.45 L126.62,356.60 L126.75,356.77 L126.88,356.96 L127.00,357.16 L127.12,357.37 L127.25,357.60 L127.38,357.84 L127.50,358.09 L127.62,358.35 L127.75,358.62 L127.88,358.90 L128.00,359.19 L128.12,359.49 L128.25,359.79 L128.38,360.10 L128.50,360.41 L128.62,360.73 L128.75,361.05 L128.88,361.37 L129.00,361.69 L129.12,362.01 L129.25,362.34 L129.38,362.66 L129.50,362.98 L129.62,363.30 L129.75,363.62 L129.88,363.93 L130.00,364.23 L130.12,364.53 L130.25,364.82 L130.38,365.11 L130.50,365.39 L130.62,365.65 L130.75,365.91 L130.88,366.16 L131.00,366.39 L131.12,366.61 L131.25,366.82 L131.38,367.02 L131.50,367.20 L131.62,367.36 L131.75,367.51 L131.88,367.64 L132.00,367.75 L132.12,367.84 L132.25,367.91 L132.38,367.96 L132.50,367.99 L132.62,368.00 L132.75,367.97 L132.88,367.92 L133.00,367.82 L133.12,367.70 L133.25,367.55 L133.38,367.36 L133.50,367.15 L133.62,366.92 L133.75,366.65 L133.88,366.36 L134.00,366.05 L134.12,365.72 L134.25,365.37 L134.38,365.00 L134.50,364.61 L134.62,364.21 L134.75,363.78 L134.88,363.35 L135.00,362.90 L135.12,362.44 L135.25,361.97 L135.38,361.49 L135.50,361.01 L135.62,360.51 L135.75,360.02 L135.88,359.51 L136.00,359.01 L136.12,358.50 L136.25,357.99 L136.38,357.49 L136.50,356.98 L136.62,356.48 L136.75,355.99 L136.88,355.50 L137.00,355.02 L137.12,354.54 L137.25,354.08 L137.38,353.63 L137.50,353.19 L137.62,352.76 L137.75,352.35 L137.88,351.95 L138.00,351.58 L138.12,351.22 L138.25,350.88 L138.38,350.56 L138.50,350.26 L138.62,349.99 L138.75,349.74 L138.88,349.52 L139.00,349.32 L139.12,349.16 L139.25,349.02 L139.38,348.92 L139.50,348.84 L139.62,348.81 L139.75,348.80 L139.88,348.83 L140.00,348.90 L140.12,348.99 L140.25,349.12 L140.38,349.27 L140.50,349.46 L140.62,349.67 L140.75,349.90 L140.88,350.16 L141.00,350.45 L141.12,350.75 L141.25,351.07 L141.38,351.42 L141.50,351.78 L141.62,352.15 L141.75,352.55 L141.88,352.95 L142.00,353.37 L142.12,353.80 L142.25,354.24 L142.38,354.69 L142.50,355.15 L142.62,355.61 L142.75,356.08 L142.88,356.55 L143.00,357.02 L143.12,357.49 L143.25,357.97 L143.38,358.44 L143.50,358.91 L143.62,359.38 L143.75,359.84 L143.88,360.29 L144.00,360.73 L144.12,361.17 L144.25,361.60 L144.38,362.01 L144.50,362.41 L144.62,362.80 L144.75,363.17 L144.88,363.52 L145.00,363.86 L145.12,364.17 L145.25,364.47 L145.38,364.74 L145.50,364.99 L145.62,365.22 L145.75,365.42 L145.88,365.59 L146.00,365.73 L146.12,365.85 L146.25,365.93 L146.38,365.98 L146.50,366.00 L146.62,365.97 L146.75,365.88 L146.88,365.72 L147.00,365.51 L147.12,365.25 L147.25,364.93 L147.38,364.57 L147.50,364.16 L147.62,363.70 L147.75,363.20 L147.88,362.66 L148.00,362.08 L148.12,361.46 L148.25,360.82 L148.38,360.14 L148.50,359.43 L148.62,358.69 L148.75,357.94 L148.88,357.16 L149.00,356.36 L149.12,355.54 L149.25,354.71 L149.38,353.87 L149.50,353.02 L149.62,352.16 L149.75,351.29 L149.88,350.42 L150.00,349.56 L150.12,348.69 L150.25,347.83 L150.38,346.97 L150.50,346.12 L150.62,345.29 L150.75,344.47 L150.88,343.66 L151.00,342.87 L151.12,342.11 L151.25,341.36 L151.38,340.64 L151.50,339.95 L151.62,339.29 L151.75,338.66 L151.88,338.07 L152.00,337.51 L152.12,337.00 L152.25,336.52 L152.38,336.09 L152.50,335.71 L152.62,335.37 L152.75,335.08 L152.88,334.85 L153.00,334.68 L153.12,334.56 L153.25,334.51 L153.38,334.51 L153.50,334.56 L153.62,334.65 L153.75,334.79 L153.88,334.97 L154.00,335.18 L154.12,335.43 L154.25,335.72 L154.38,336.03 L154.50,336.38 L154.62,336.75 L154.75,337.15 L154.88,337.58 L155.00,338.02 L155.12,338.49 L155.25,338.97 L155.38,339.47 L155.50,339.99 L155.62,340.51 L155.75,341.05 L155.88,341.59 L156.00,342.14 L156.12,342.69 L156.25,343.25 L156.38,343.81 L156.50,344.36 L156.62,344.91 L156.75,345.45 L156.88,345.99 L157.00,346.51 L157.12,347.03 L157.25,347.53 L157.38,348.01 L157.50,348.48 L157.62,348.92 L157.75,349.35 L157.88,349.75 L158.00,350.12 L158.12,350.47 L158.25,350.78 L158.38,351.07 L158.50,351.32 L158.62,351.53 L158.75,351.71 L158.88,351.85 L159.00,351.94 L159.12,351.99 L159.25,351.99 L159.38,351.92 L159.50,351.77 L159.62,351.55 L159.75,351.26 L159.88,350.90 L160.00,350.47 L160.12,349.98 L160.25,349.43 L160.38,348.83 L160.50,348.17 L160.62,347.47 L160.75,346.71 L160.88,345.91 L161.00,345.08 L161.12,344.20 L161.25,343.29 L161.38,342.34 L161.50,341.37 L161.62,340.37 L161.75,339.34 L161.88,338.30 L162.00,337.24 L162.12,336.16 L162.25,335.08 L162.38,333.98 L162.50,332.88 L162.62,331.78 L162.75,330.68 L162.88,329.58 L163.00,328.49 L163.12,327.40 L163.25,326.33 L163.38,325.28 L163.50,324.24 L163.62,323.23 L163.75,322.24 L163.88,321.28 L164.00,320.35 L164.12,319.45 L164.25,318.58 L164.38,317.76 L164.50,316.98 L164.62,316.25 L164.75,315.56 L164.88,314.92 L165.00,314.34 L165.12,313.82 L165.25,313.35 L165.38,312.95 L165.50,312.62 L165.62,312.35 L165.75,312.16 L165.88,312.04 L166.00,312.00 L166.12,312.03 L166.25,312.12 L166.38,312.26 L166.50,312.46 L166.62,312.71 L166.75,313.01 L166.88,313.35 L167.00,313.74 L167.12,314.17 L167.25,314.64 L167.38,315.14 L167.50,315.68 L167.62,316.26 L167.75,316.86 L167.88,317.49 L168.00,318.15 L168.12,318.82 L168.25,319.52 L168.38,320.24 L168.50,320.97 L168.62,321.72 L168.75,322.47 L168.88,323.24 L169.00,324.01 L169.12,324.78 L169.25,325.56 L169.38,326.34 L169.50,327.11 L169.62,327.87 L169.75,328.63 L169.88,329.38 L170.00,330.12 L170.12,330.84 L170.25,331.54 L170.38,332.22 L170.50,332.88 L170.62,333.52 L170.75,334.12 L170.88,334.70 L171.00,335.25 L171.12,335.76 L171.25,336.24 L171.38,336.68 L171.50,337.08 L171.62,337.43 L171.75,337.74 L171.88,337.99 L172.00,338.20 L172.12,338.36 L172.25,338.46 L172.38,338.50 L172.50,338.46 L172.62,338.28 L172.75,337.99 L172.88,337.57 L173.00,337.03 L173.12,336.38 L173.25,335.63 L173.38,334.78 L173.50,333.84 L173.62,332.80 L173.75,331.69 L173.88,330.49 L174.00,329.23 L174.12,327.89 L174.25,326.50 L174.38,325.04 L174.50,323.54 L174.62,321.99 L174.75,320.40 L174.88,318.78 L175.00,317.13 L175.12,315.45 L175.25,313.76 L175.38,312.05 L175.50,310.34 L175.62,308.62 L175.75,306.91 L175.88,305.20 L176.00,303.51 L176.12,301.84 L176.25,300.19 L176.38,298.58 L176.50,296.99 L176.62,295.45 L176.75,293.96 L176.88,292.52 L177.00,291.14 L177.12,289.82 L177.25,288.56 L177.38,287.38 L177.50,286.28 L177.62,285.27 L177.75,284.34 L177.88,283.51 L178.00,282.78 L178.12,282.15 L178.25,281.64 L178.38,281.24 L178.50,280.97 L178.62,280.82 L178.75,280.81 L178.88,280.91 L179.00,281.13 L179.12,281.45 L179.25,281.88 L179.38,282.39 L179.50,283.00 L179.62,283.69 L179.75,284.46 L179.88,285.31 L180.00,286.22 L180.12,287.20 L180.25,288.23 L180.38,289.32 L180.50,290.45 L180.62,291.62 L180.75,292.83 L180.88,294.07 L181.00,295.33 L181.12,296.61 L181.25,297.91 L181.38,299.21 L181.50,300.52 L181.62,301.83 L181.75,303.13 L181.88,304.42 L182.00,305.68 L182.12,306.93 L182.25,308.14 L182.38,309.32 L182.50,310.46 L182.62,311.56 L182.75,312.60 L182.88,313.59 L183.00,314.51 L183.12,315.37 L183.25,316.16 L183.38,316.87 L183.50,317.49 L183.62,318.03 L183.75,318.47 L183.88,318.81 L184.00,319.05 L184.12,319.18 L184.25,319.16 L184.38,318.71 L184.50,317.81 L184.62,316.50 L184.75,314.84 L184.88,312.88 L185.00,310.67 L185.12,308.26 L185.25,305.70 L185.38,303.04 L185.50,300.32 L185.62,297.62 L185.75,294.96 L185.88,292.40 L186.00,290.00 L186.12,287.65 L186.25,285.20 L186.38,282.68 L186.50,280.09 L186.62,277.44 L186.75,274.74 L186.88,271.98 L187.00,269.20 L187.12,266.38 L187.25,263.54 L187.38,260.69 L187.50,257.83 L187.62,254.98 L187.75,252.14 L187.88,249.32 L188.00,246.53 L188.12,243.78 L188.25,241.07 L188.38,238.39 L188.50,235.64 L188.62,232.83 L188.75,229.97 L188.88,227.08 L189.00,224.17 L189.12,221.26 L189.25,218.36 L189.38,215.50 L189.50,212.67 L189.62,209.90 L189.75,207.21 L189.88,204.60 L190.00,202.10 L190.12,199.71 L190.25,197.46 L190.38,195.36 L190.50,193.42 L190.62,191.66 L190.75,189.98 L190.88,188.33 L191.00,186.72 L191.12,185.15 L191.25,183.61 L191.38,182.11 L191.50,180.66 L191.62,179.25 L191.75,177.88 L191.88,176.56 L192.00,175.30 L192.12,174.08 L192.25,172.92 L192.38,171.81 L192.50,170.76 L192.62,169.76 L192.75,168.83 L192.88,167.96 L193.00,167.15 L193.12,166.41 L193.25,165.73 L193.38,165.06 L193.50,164.40 L193.62,163.74 L193.75,163.08 L193.88,162.44 L194.00,161.82 L194.12,161.22 L194.25,160.65 L194.38,160.10 L194.50,159.59 L194.62,159.12 L194.75,158.69 L194.88,158.31 L195.00,157.98 L195.12,157.70 L195.25,157.47 L195.38,157.32 L195.50,157.22 L195.62,157.20 L195.75,157.24 L195.88,157.33 L196.00,157.46 L196.12,157.64 L196.25,157.87 L196.38,158.13 L196.50,158.43 L196.62,158.76 L196.75,159.12 L196.88,159.51 L197.00,159.92 L197.12,160.36 L197.25,160.81 L197.38,161.28 L197.50,161.76 L197.62,162.25 L197.75,162.75 L197.88,163.25 L198.00,163.75 L198.12,164.25 L198.25,164.74 L198.38,165.23 L198.50,165.70 L198.62,166.16 L198.75,166.60 L198.88,167.03 L199.00,167.43 L199.12,167.80 L199.25,168.14 L199.38,168.46 L199.50,168.73 L199.62,168.97 L199.75,169.17 L199.88,169.32 L200.00,169.43 L200.12,169.49 L200.25,169.49 L200.38,169.43 L200.50,169.31 L200.62,169.12 L200.75,168.86 L200.88,168.55 L201.00,168.17 L201.12,167.74 L201.25,167.25 L201.38,166.70 L201.50,166.10 L201.62,165.44 L201.75,164.73 L201.88,163.98 L202.00,163.17 L202.12,162.31 L202.25,161.41 L202.38,160.46 L202.50,159.47 L202.62,158.43 L202.75,157.36 L202.88,156.24 L203.00,155.09 L203.12,153.90 L203.25,152.67 L203.38,151.41 L203.50,150.12 L203.62,148.79 L203.75,147.44 L203.88,146.05 L204.00,144.64 L204.12,143.20 L204.25,141.74 L204.38,140.25 L204.50,138.74 L204.62,137.21 L204.75,135.66 L204.88,134.10 L205.00,132.51 L205.12,130.91 L205.25,129.30 L205.38,127.68 L205.50,126.04 L205.62,124.39 L205.75,122.74 L205.88,121.08 L206.00,119.41 L206.12,117.74 L206.25,116.06 L206.38,114.39 L206.50,112.71 L206.62,111.03 L206.75,109.36 L206.88,107.69 L207.00,106.03 L207.12,104.37 L207.25,102.72 L207.38,101.08 L207.50,99.45 L207.62,97.83 L207.75,96.23 L207.88,94.64 L208.00,93.06 L208.12,91.51 L208.25,89.97 L208.38,88.45 L208.50,86.96 L208.62,85.48 L208.75,84.03 L208.88,82.61 L209.00,81.21 L209.12,79.85 L209.25,78.51 L209.38,77.20 L209.50,75.93 L209.62,74.69 L209.75,73.48 L209.88,72.31 L210.00,71.18 L210.12,70.09 L210.25,69.04 L210.38,68.03 L210.50,67.06 L210.62,66.14 L210.75,65.27 L210.88,64.44 L211.00,63.66 L211.12,62.93 L211.25,62.26 L211.38,61.63 L211.50,61.06 L211.62,60.55 L211.75,60.09 L211.88,59.69 L212.00,59.35 L212.12,59.08 L212.25,58.86 L212.38,58.71 L212.50,58.62 L212.62,58.60 L212.75,58.64 L212.88,58.72 L213.00,58.86 L213.12,59.05 L213.25,59.28 L213.38,59.56 L213.50,59.89 L213.62,60.26 L213.75,60.67 L213.88,61.13 L214.00,61.63 L214.12,62.17 L214.25,62.75 L214.38,63.37 L214.50,64.03 L214.62,64.72 L214.75,65.45 L214.88,66.22 L215.00,67.02 L215.12,67.86 L215.25,68.72 L215.38,69.62 L215.50,70.55 L215.62,71.50 L215.75,72.49 L215.88,73.50 L216.00,74.54 L216.12,75.60 L216.25,76.69 L216.38,77.80 L216.50,78.94 L216.62,80.09 L216.75,81.27 L216.88,82.47 L217.00,83.68 L217.12,84.91 L217.25,86.16 L217.38,87.43 L217.50,88.70 L217.62,90.00 L217.75,91.30 L217.88,92.62 L218.00,93.95 L218.12,95.28 L218.25,96.63 L218.38,97.98 L218.50,99.35 L218.62,100.71 L218.75,102.08 L218.88,103.46 L219.00,104.84 L219.12,106.22 L219.25,107.60 L219.38,108.98 L219.50,110.36 L219.62,111.74 L219.75,113.12 L219.88,114.49 L220.00,115.85 L220.12,117.22 L220.25,118.57 L220.38,119.92 L220.50,121.25 L220.62,122.58 L220.75,123.90 L220.88,125.20 L221.00,126.50 L221.12,127.77 L221.25,129.04 L221.38,130.29 L221.50,131.52 L221.62,132.73 L221.75,133.93 L221.88,135.11 L222.00,136.26 L222.12,137.40 L222.25,138.51 L222.38,139.60 L222.50,140.66 L222.62,141.70 L222.75,142.71 L222.88,143.70 L223.00,144.65 L223.12,145.58 L223.25,146.48 L223.38,147.34 L223.50,148.18 L223.62,148.98 L223.75,149.75 L223.88,150.48 L224.00,151.17 L224.12,151.83 L224.25,152.45 L224.38,153.03 L224.50,153.57 L224.62,154.07 L224.75,154.53 L224.88,154.94 L225.00,155.31 L225.12,155.64 L225.25,155.92 L225.38,156.15 L225.50,156.34 L225.62,156.48 L225.75,156.56 L225.88,156.60 L226.00,156.59 L226.12,156.53 L226.25,156.43 L226.38,156.29 L226.50,156.11 L226.62,155.89 L226.75,155.62 L226.88,155.32 L227.00,154.98 L227.12,154.61 L227.25,154.19 L227.38,153.74 L227.50,153.26 L227.62,152.74 L227.75,152.19 L227.88,151.61 L228.00,150.99 L228.12,150.34 L228.25,149.66 L228.38,148.95 L228.50,148.21 L228.62,147.45 L228.75,146.65 L228.88,145.83 L229.00,144.98 L229.12,144.11 L229.25,143.21 L229.38,142.29 L229.50,141.35 L229.62,140.38 L229.75,139.39 L229.88,138.38 L230.00,137.35 L230.12,136.31 L230.25,135.24 L230.38,134.15 L230.50,133.05 L230.62,131.93 L230.75,130.80 L230.88,129.65 L231.00,128.48 L231.12,127.30 L231.25,126.11 L231.38,124.91 L231.50,123.70 L231.62,122.47 L231.75,121.24 L231.88,120.00 L232.00,118.75 L232.12,117.49 L232.25,116.22 L232.38,114.95 L232.50,113.68 L232.62,112.39 L232.75,111.11 L232.88,109.82 L233.00,108.53 L233.12,107.24 L233.25,105.95 L233.38,104.66 L233.50,103.37 L233.62,102.08 L233.75,100.79 L233.88,99.51 L234.00,98.22 L234.12,96.95 L234.25,95.68 L234.38,94.41 L234.50,93.15 L234.62,91.90 L234.75,90.66 L234.88,89.43 L235.00,88.20 L235.12,86.99 L235.25,85.79 L235.38,84.60 L235.50,83.42 L235.62,82.25 L235.75,81.10 L235.88,79.97 L236.00,78.85 L236.12,77.75 L236.25,76.66 L236.38,75.59 L236.50,74.55 L236.62,73.52 L236.75,72.51 L236.88,71.52 L237.00,70.55 L237.12,69.61 L237.25,68.69 L237.38,67.79 L237.50,66.92 L237.62,66.07 L237.75,65.25 L237.88,64.45 L238.00,63.69 L238.12,62.95 L238.25,62.24 L238.38,61.56 L238.50,60.91 L238.62,60.29 L238.75,59.71 L238.88,59.16 L239.00,58.64 L239.12,58.16 L239.25,57.71 L239.38,57.29 L239.50,56.92 L239.62,56.58 L239.75,56.28 L239.88,56.01 L240.00,55.79 L240.12,55.61 L240.25,55.47 L240.38,55.37 L240.50,55.31 L240.62,55.30 L240.75,55.34 L240.88,55.42 L241.00,55.56 L241.12,55.74 L241.25,55.97 L241.38,56.24 L241.50,56.56 L241.62,56.92 L241.75,57.33 L241.88,57.78 L242.00,58.27 L242.12,58.80 L242.25,59.37 L242.38,59.98 L242.50,60.63 L242.62,61.31 L242.75,62.03 L242.88,62.79 L243.00,63.58 L243.12,64.40 L243.25,65.25 L243.38,66.13 L243.50,67.05 L243.62,67.99 L243.75,68.96 L243.88,69.96 L244.00,70.99 L244.12,72.04 L244.25,73.11 L244.38,74.21 L244.50,75.33 L244.62,76.48 L244.75,77.64 L244.88,78.82 L245.00,80.03 L245.12,81.25 L245.25,82.49 L245.38,83.74 L245.50,85.01 L245.62,86.29 L245.75,87.59 L245.88,88.90 L246.00,90.22 L246.12,91.55 L246.25,92.89 L246.38,94.24 L246.50,95.59 L246.62,96.96 L246.75,98.32 L246.88,99.70 L247.00,101.08 L247.12,102.46 L247.25,103.84 L247.38,105.22 L247.50,106.61 L247.62,107.99 L247.75,109.37 L247.88,110.75 L248.00,112.13 L248.12,113.50 L248.25,114.86 L248.38,116.22 L248.50,117.57 L248.62,118.92 L248.75,120.25 L248.88,121.58 L249.00,122.89 L249.12,124.19 L249.25,125.48 L249.38,126.76 L249.50,128.02 L249.62,129.26 L249.75,130.49 L249.88,131.70 L250.00,132.89 L250.12,134.06 L250.25,135.21 L250.38,136.34 L250.50,137.45 L250.62,138.53 L250.75,139.60 L250.88,140.63 L251.00,141.64 L251.12,142.62 L251.25,143.58 L251.38,144.50 L251.50,145.40 L251.62,146.27 L251.75,147.10 L251.88,147.90 L252.00,148.67 L252.12,149.40 L252.25,150.10 L252.38,150.76 L252.50,151.39 L252.62,151.97 L252.75,152.52 L252.88,153.03 L253.00,153.49 L253.12,153.92 L253.25,154.30 L253.38,154.64 L253.50,154.93 L253.62,155.18 L253.75,155.38 L253.88,155.53 L254.00,155.64 L254.12,155.69 L254.25,155.70 L254.38,155.66 L254.50,155.57 L254.62,155.44 L254.75,155.27 L254.88,155.05 L255.00,154.80 L255.12,154.50 L255.25,154.16 L255.38,153.79 L255.50,153.37 L255.62,152.92 L255.75,152.43 L255.88,151.91 L256.00,151.35 L256.12,150.76 L256.25,150.13 L256.38,149.47 L256.50,148.78 L256.62,148.06 L256.75,147.30 L256.88,146.52 L257.00,145.71 L257.12,144.87 L257.25,144.00 L257.38,143.11 L257.50,142.20 L257.62,141.25 L257.75,140.29 L257.88,139.30 L258.00,138.29 L258.12,137.25 L258.25,136.20 L258.38,135.13 L258.50,134.03 L258.62,132.92 L258.75,131.79 L258.88,130.65 L259.00,129.49 L259.12,128.31 L259.25,127.12 L259.38,125.92 L259.50,124.70 L259.62,123.48 L259.75,122.24 L259.88,120.99 L260.00,119.73 L260.12,118.46 L260.25,117.19 L260.38,115.90 L260.50,114.62 L260.62,113.32 L260.75,112.02 L260.88,110.72 L261.00,109.41 L261.12,108.11 L261.25,106.80 L261.38,105.49 L261.50,104.18 L261.62,102.87 L261.75,101.56 L261.88,100.26 L262.00,98.96 L262.12,97.66 L262.25,96.37 L262.38,95.08 L262.50,93.80 L262.62,92.53 L262.75,91.27 L262.88,90.01 L263.00,88.77 L263.12,87.53 L263.25,86.31 L263.38,85.10 L263.50,83.90 L263.62,82.71 L263.75,81.54 L263.88,80.39 L264.00,79.25 L264.12,78.13 L264.25,77.03 L264.38,75.94 L264.50,74.88 L264.62,73.83 L264.75,72.81 L264.88,71.80 L265.00,70.82 L265.12,69.87 L265.25,68.93 L265.38,68.03 L265.50,67.15 L265.62,66.29 L265.75,65.46 L265.88,64.66 L266.00,63.89 L266.12,63.15 L266.25,62.44 L266.38,61.76 L266.50,61.12 L266.62,60.50 L266.75,59.92 L266.88,59.38 L267.00,58.87 L267.12,58.39 L267.25,57.96 L267.38,57.56 L267.50,57.20 L267.62,56.88 L267.75,56.60 L267.88,56.36 L268.00,56.16 L268.12,56.00 L268.25,55.89 L268.38,55.82 L268.50,55.80 L268.62,55.83 L268.75,55.90 L268.88,56.03 L269.00,56.21 L269.12,56.44 L269.25,56.72 L269.38,57.04 L269.50,57.41 L269.62,57.82 L269.75,58.28 L269.88,58.78 L270.00,59.33 L270.12,59.91 L270.25,60.53 L270.38,61.20 L270.50,61.90 L270.62,62.64 L270.75,63.41 L270.88,64.22 L271.00,65.06 L271.12,65.94 L271.25,66.85 L271.38,67.79 L271.50,68.76 L271.62,69.75 L271.75,70.78 L271.88,71.83 L272.00,72.91 L272.12,74.02 L272.25,75.15 L272.38,76.30 L272.50,77.47 L272.62,78.67 L272.75,79.88 L272.88,81.12 L273.00,82.37 L273.12,83.64 L273.25,84.93 L273.38,86.23 L273.50,87.54 L273.62,88.87 L273.75,90.21 L273.88,91.56 L274.00,92.92 L274.12,94.29 L274.25,95.67 L274.38,97.06 L274.50,98.45 L274.62,99.85 L274.75,101.25 L274.88,102.65 L275.00,104.06 L275.12,105.47 L275.25,106.88 L275.38,108.28 L275.50,109.69 L275.62,111.09 L275.75,112.49 L275.88,113.89 L276.00,115.27 L276.12,116.66 L276.25,118.03 L276.38,119.40 L276.50,120.75 L276.62,122.10 L276.75,123.43 L276.88,124.75 L277.00,126.06 L277.12,127.35 L277.25,128.62 L277.38,129.88 L277.50,131.13 L277.62,132.35 L277.75,133.55 L277.88,134.73 L278.00,135.89 L278.12,137.03 L278.25,138.15 L278.38,139.24 L278.50,140.30 L278.62,141.34 L278.75,142.35 L278.88,143.33 L279.00,144.28 L279.12,145.20 L279.25,146.09 L279.38,146.95 L279.50,147.77 L279.62,148.56 L279.75,149.31 L279.88,150.03 L280.00,150.71 L280.12,151.35 L280.25,151.95 L280.38,152.51 L280.50,153.02 L280.62,153.50 L280.75,153.93 L280.88,154.32 L281.00,154.66 L281.12,154.95 L281.25,155.20 L281.38,155.40 L281.50,155.55 L281.62,155.65 L281.75,155.70 L281.88,155.69 L282.00,155.64 L282.12,155.55 L282.25,155.42 L282.38,155.25 L282.50,155.04 L282.62,154.78 L282.75,154.49 L282.88,154.16 L283.00,153.80 L283.12,153.39 L283.25,152.95 L283.38,152.48 L283.50,151.97 L283.62,151.43 L283.75,150.85 L283.88,150.25 L284.00,149.61 L284.12,148.94 L284.25,148.24 L284.38,147.51 L284.50,146.76 L284.62,145.98 L284.75,145.17 L284.88,144.33 L285.00,143.47 L285.12,142.58 L285.25,141.67 L285.38,140.74 L285.50,139.78 L285.62,138.81 L285.75,137.81 L285.88,136.79 L286.00,135.76 L286.12,134.70 L286.25,133.63 L286.38,132.54 L286.50,131.43 L286.62,130.31 L286.75,129.17 L286.88,128.02 L287.00,126.85 L287.12,125.68 L287.25,124.49 L287.38,123.29 L287.50,122.08 L287.62,120.86 L287.75,119.63 L287.88,118.39 L288.00,117.15 L288.12,115.90 L288.25,114.64 L288.38,113.38 L288.50,112.11 L288.62,110.84 L288.75,109.57 L288.88,108.30 L289.00,107.02 L289.12,105.74 L289.25,104.47 L289.38,103.19 L289.50,101.92 L289.62,100.65 L289.75,99.38 L289.88,98.12 L290.00,96.86 L290.12,95.60 L290.25,94.35 L290.38,93.11 L290.50,91.88 L290.62,90.65 L290.75,89.44 L290.88,88.23 L291.00,87.03 L291.12,85.85 L291.25,84.68 L291.38,83.52 L291.50,82.37 L291.62,81.24 L291.75,80.13 L291.88,79.03 L292.00,77.94 L292.12,76.88 L292.25,75.83 L292.38,74.80 L292.50,73.79 L292.62,72.80 L292.75,71.83 L292.88,70.88 L293.00,69.96 L293.12,69.06 L293.25,68.18 L293.38,67.33 L293.50,66.51 L293.62,65.71 L293.75,64.94 L293.88,64.19 L294.00,63.47 L294.12,62.79 L294.25,62.13 L294.38,61.51 L294.50,60.91 L294.62,60.35 L294.75,59.82 L294.88,59.33 L295.00,58.87 L295.12,58.44 L295.25,58.05 L295.38,57.70 L295.50,57.39 L295.62,57.11 L295.75,56.87 L295.88,56.68 L296.00,56.52 L296.12,56.40 L296.25,56.33 L296.38,56.30 L296.50,56.32 L296.62,56.39 L296.75,56.53 L296.88,56.72 L297.00,56.96 L297.12,57.26 L297.25,57.61 L297.38,58.01 L297.50,58.46 L297.62,58.97 L297.75,59.51 L297.88,60.11 L298.00,60.75 L298.12,61.44 L298.25,62.17 L298.38,62.94 L298.50,63.75 L298.62,64.60 L298.75,65.49 L298.88,66.42 L299.00,67.39 L299.12,68.39 L299.25,69.42 L299.38,70.49 L299.50,71.59 L299.62,72.72 L299.75,73.87 L299.88,75.06 L300.00,76.28 L300.12,77.52 L300.25,78.78 L300.38,80.07 L300.50,81.38 L300.62,82.71 L300.75,84.06 L300.88,85.43 L301.00,86.82 L301.12,88.23 L301.25,89.65 L301.38,91.09 L301.50,92.53 L301.62,94.00 L301.75,95.47 L301.88,96.95 L302.00,98.44 L302.12,99.94 L302.25,101.44 L302.38,102.95 L302.50,104.46 L302.62,105.98 L302.75,107.49 L302.88,109.01 L303.00,110.53 L303.12,112.04 L303.25,113.55 L303.38,115.06 L303.50,116.56 L303.62,118.06 L303.75,119.55 L303.88,121.03 L304.00,122.50 L304.12,123.96 L304.25,125.40 L304.38,126.84 L304.50,128.25 L304.62,129.66 L304.75,131.04 L304.88,132.41 L305.00,133.76 L305.12,135.09 L305.25,136.39 L305.38,137.68 L305.50,138.93 L305.62,140.17 L305.75,141.38 L305.88,142.56 L306.00,143.71 L306.12,144.84 L306.25,145.93 L306.38,146.99 L306.50,148.02 L306.62,149.01 L306.75,149.97 L306.88,150.89 L307.00,151.77 L307.12,152.62 L307.25,153.42 L307.38,154.18 L307.50,154.90 L307.62,155.58 L307.75,156.21 L307.88,156.80 L308.00,157.34 L308.12,157.83 L308.25,158.27 L308.38,158.66 L308.50,159.00 L308.62,159.29 L308.75,159.52 L308.88,159.70 L309.00,159.82 L309.12,159.89 L309.25,159.90 L309.38,159.90 L309.50,159.89 L309.62,159.87 L309.75,159.86 L309.88,159.84 L310.00,159.81 L310.12,159.78 L310.25,159.75 L310.38,159.71 L310.50,159.67 L310.62,159.62 L310.75,159.57 L310.88,159.52 L311.00,159.46 L311.12,159.40 L311.25,159.34 L311.38,159.27 L311.50,159.20 L311.62,159.12 L311.75,159.04 L311.88,158.96 L312.00,158.88 L312.12,158.79 L312.25,158.69 L312.38,158.60 L312.50,158.50 L312.62,158.40 L312.75,158.29 L312.88,158.18 L313.00,158.07 L313.12,157.96 L313.25,157.84 L313.38,157.72 L313.50,157.60 L313.62,157.46 L313.75,157.27 L313.88,157.05 L314.00,156.79 L314.12,156.50 L314.25,156.18 L314.38,155.82 L314.50,155.44 L314.62,155.04 L314.75,154.61 L314.88,154.16 L315.00,153.69 L315.12,153.21 L315.25,152.70 L315.38,152.17 L315.50,151.56 L315.62,150.85 L315.75,150.08 L315.88,149.23 L316.00,148.32 L316.12,147.37 L316.25,146.37 L316.38,145.34 L316.50,144.28 L316.62,143.21 L316.75,142.14 L316.88,141.06 L317.00,140.00 L317.12,138.91 L317.25,137.76 L317.38,136.54 L317.50,135.26 L317.62,133.93 L317.75,132.54 L317.88,131.11 L318.00,129.62 L318.12,128.10 L318.25,126.53 L318.38,124.92 L318.50,123.27 L318.62,121.60 L318.75,119.89 L318.88,118.16 L319.00,116.41 L319.12,114.63 L319.25,112.84 L319.38,111.03 L319.50,109.22 L319.62,107.39 L319.75,105.56 L319.88,103.72 L320.00,101.89 L320.12,100.06 L320.25,98.24 L320.38,96.43 L320.50,94.63 L320.62,92.85 L320.75,91.08 L320.88,89.34 L321.00,87.62 L321.12,85.93 L321.25,84.28 L321.38,82.65 L321.50,81.06 L321.62,79.52 L321.75,78.01 L321.88,76.55 L322.00,75.15 L322.12,73.79 L322.25,72.49 L322.38,71.24 L322.50,70.06 L322.62,68.94 L322.75,67.89 L322.88,66.91 L323.00,66.00 L323.12,65.17 L323.25,64.42 L323.38,63.75 L323.50,63.16 L323.62,62.66 L323.75,62.26 L323.88,61.95 L324.00,61.73 L324.12,61.62 L324.25,61.62 L324.38,61.82 L324.50,62.23 L324.62,62.83 L324.75,63.63 L324.88,64.60 L325.00,65.74 L325.12,67.02 L325.25,68.45 L325.38,70.01 L325.50,71.68 L325.62,73.46 L325.75,75.33 L325.88,77.28 L326.00,79.31 L326.12,81.39 L326.25,83.52 L326.38,85.68 L326.50,87.87 L326.62,90.07 L326.75,92.26 L326.88,94.45 L327.00,96.62 L327.12,98.74 L327.25,100.84 L327.38,103.03 L327.50,105.34 L327.62,107.76 L327.75,110.28 L327.88,112.91 L328.00,115.63 L328.12,118.43 L328.25,121.32 L328.38,124.28 L328.50,127.31 L328.62,130.41 L328.75,133.56 L328.88,136.76 L329.00,140.00 L329.12,143.41 L329.25,147.06 L329.38,150.91 L329.50,154.89 L329.62,158.95 L329.75,163.03 L329.88,167.08 L330.00,171.02 L330.12,174.82 L330.25,178.41 L330.38,181.79 L330.50,185.02 L330.62,188.13 L330.75,191.19 L330.88,194.23 L331.00,197.30 L331.12,200.45 L331.25,203.73 L331.38,207.19 L331.50,210.86 L331.62,214.82 L331.75,219.36 L331.88,224.43 L332.00,229.81 L332.12,235.28 L332.25,240.62 L332.38,245.60 L332.50,250.00 L332.62,253.96 L332.75,257.77 L332.88,261.43 L333.00,264.96 L333.12,268.36 L333.25,271.64 L333.38,274.80 L333.50,277.86 L333.62,280.81 L333.75,283.68 L333.88,286.45 L334.00,289.22 L334.12,292.10 L334.25,295.07 L334.38,298.09 L334.50,301.14 L334.62,304.18 L334.75,307.17 L334.88,310.10 L335.00,312.92 L335.12,315.61 L335.25,318.12 L335.38,320.45 L335.50,322.54 L335.62,324.36 L335.75,325.90 L335.88,327.11 L336.00,327.96 L336.12,328.42 L336.25,328.49 L336.38,328.38 L336.50,328.16 L336.62,327.83 L336.75,327.40 L336.88,326.87 L337.00,326.24 L337.12,325.54 L337.25,324.75 L337.38,323.89 L337.50,322.96 L337.62,321.97 L337.75,320.92 L337.88,319.82 L338.00,318.68 L338.12,317.49 L338.25,316.28 L338.38,315.03 L338.50,313.76 L338.62,312.48 L338.75,311.19 L338.88,309.89 L339.00,308.59 L339.12,307.30 L339.25,306.03 L339.38,304.77 L339.50,303.53 L339.62,302.33 L339.75,301.16 L339.88,300.03 L340.00,298.96 L340.12,297.93 L340.25,296.96 L340.38,296.06 L340.50,295.23 L340.62,294.47 L340.75,293.80 L340.88,293.21 L341.00,292.72 L341.12,292.33 L341.25,292.04 L341.38,291.86 L341.50,291.80 L341.62,291.84 L341.75,291.95 L341.88,292.13 L342.00,292.38 L342.12,292.69 L342.25,293.07 L342.38,293.51 L342.50,294.01 L342.62,294.56 L342.75,295.17 L342.88,295.83 L343.00,296.54 L343.12,297.29 L343.25,298.09 L343.38,298.93 L343.50,299.81 L343.62,300.73 L343.75,301.68 L343.88,302.66 L344.00,303.67 L344.12,304.71 L344.25,305.78 L344.38,306.86 L344.50,307.97 L344.62,309.09 L344.75,310.23 L344.88,311.38 L345.00,312.54 L345.12,313.71 L345.25,314.89 L345.38,316.06 L345.50,317.24 L345.62,318.42 L345.75,319.59 L345.88,320.75 L346.00,321.91 L346.12,323.05 L346.25,324.18 L346.38,325.30 L346.50,326.39 L346.62,327.46 L346.75,328.51 L346.88,329.54 L347.00,330.53 L347.12,331.49 L347.25,332.43 L347.38,333.32 L347.50,334.18 L347.62,334.99 L347.75,335.76 L347.88,336.49 L348.00,337.17 L348.12,337.80 L348.25,338.38 L348.38,338.90 L348.50,339.36 L348.62,339.76 L348.75,340.10 L348.88,340.38 L349.00,340.59 L349.12,340.73 L349.25,340.79 L349.38,340.79 L349.50,340.75 L349.62,340.67 L349.75,340.56 L349.88,340.41 L350.00,340.24 L350.12,340.03 L350.25,339.80 L350.38,339.54 L350.50,339.26 L350.62,338.96 L350.75,338.64 L350.88,338.30 L351.00,337.95 L351.12,337.58 L351.25,337.21 L351.38,336.82 L351.50,336.43 L351.62,336.03 L351.75,335.62 L351.88,335.22 L352.00,334.82 L352.12,334.41 L352.25,334.02 L352.38,333.63 L352.50,333.24 L352.62,332.87 L352.75,332.51 L352.88,332.16 L353.00,331.83 L353.12,331.52 L353.25,331.23 L353.38,330.95 L353.50,330.71 L353.62,330.48 L353.75,330.29 L353.88,330.13 L354.00,329.99 L354.12,329.89 L354.25,329.83 L354.38,329.80 L354.50,329.81 L354.62,329.84 L354.75,329.91 L354.88,329.99 L355.00,330.11 L355.12,330.24 L355.25,330.40 L355.38,330.58 L355.50,330.79 L355.62,331.01 L355.75,331.26 L355.88,331.52 L356.00,331.80 L356.12,332.10 L356.25,332.42 L356.38,332.76 L356.50,333.10 L356.62,333.47 L356.75,333.84 L356.88,334.23 L357.00,334.64 L357.12,335.05 L357.25,335.47 L357.38,335.91 L357.50,336.35 L357.62,336.80 L357.75,337.26 L357.88,337.73 L358.00,338.20 L358.12,338.67 L358.25,339.15 L358.38,339.64 L358.50,340.13 L358.62,340.61 L358.75,341.10 L358.88,341.59 L359.00,342.08 L359.12,342.57 L359.25,343.06 L359.38,343.54 L359.50,344.02 L359.62,344.50 L359.75,344.97 L359.88,345.43 L360.00,345.89 L360.12,346.34 L360.25,346.78 L360.38,347.21 L360.50,347.63 L360.62,348.04 L360.75,348.44 L360.88,348.83 L361.00,349.21 L361.12,349.57 L361.25,349.91 L361.38,350.24 L361.50,350.56 L361.62,350.85 L361.75,351.13 L361.88,351.39 L362.00,351.63 L362.12,351.85 L362.25,352.05 L362.38,352.23 L362.50,352.39 L362.62,352.52 L362.75,352.63 L362.88,352.71 L363.00,352.76 L363.12,352.80 L363.25,352.80 L363.38,352.79 L363.50,352.78 L363.62,352.76 L363.75,352.74 L363.88,352.70 L364.00,352.67 L364.12,352.62 L364.25,352.58 L364.38,352.52 L364.50,352.47 L364.62,352.41 L364.75,352.34 L364.88,352.27 L365.00,352.20 L365.12,352.12 L365.25,352.05 L365.38,351.96 L365.50,351.88 L365.62,351.80 L365.75,351.71 L365.88,351.62 L366.00,351.53 L366.12,351.44 L366.25,351.35 L366.38,351.26 L366.50,351.16 L366.62,351.07 L366.75,350.98 L366.88,350.89 L367.00,350.80 L367.12,350.71 L367.25,350.62 L367.38,350.54 L367.50,350.45 L367.62,350.37 L367.75,350.29 L367.88,350.22 L368.00,350.14 L368.12,350.07 L368.25,350.01 L368.38,349.94 L368.50,349.89 L368.62,349.83 L368.75,349.79 L368.88,349.74 L369.00,349.70 L369.12,349.67 L369.25,349.64 L369.38,349.62 L369.50,349.61 L369.62,349.60 L369.75,349.60 L369.88,349.62 L370.00,349.67 L370.12,349.74 L370.25,349.84 L370.38,349.95 L370.50,350.09 L370.62,350.25 L370.75,350.42 L370.88,350.61 L371.00,350.82 L371.12,351.05 L371.25,351.29 L371.38,351.55 L371.50,351.82 L371.62,352.10 L371.75,352.39 L371.88,352.69 L372.00,353.00 L372.12,353.32 L372.25,353.65 L372.38,353.98 L372.50,354.32 L372.62,354.67 L372.75,355.02 L372.88,355.37 L373.00,355.72 L373.12,356.07 L373.25,356.42 L373.38,356.77 L373.50,357.12 L373.62,357.47 L373.75,357.81 L373.88,358.15 L374.00,358.48 L374.12,358.81 L374.25,359.12 L374.38,359.43 L374.50,359.73 L374.62,360.02 L374.75,360.29 L374.88,360.56 L375.00,360.81 L375.12,361.04 L375.25,361.26 L375.38,361.46 L375.50,361.65 L375.62,361.82 L375.75,361.97 L375.88,362.10 L376.00,362.20 L376.12,362.29 L376.25,362.35 L376.38,362.39 L376.50,362.40 L376.62,362.39 L376.75,362.37 L376.88,362.33 L377.00,362.28 L377.12,362.21 L377.25,362.14 L377.38,362.05 L377.50,361.94 L377.62,361.83 L377.75,361.70 L377.88,361.57 L378.00,361.42 L378.12,361.26 L378.25,361.10 L378.38,360.92 L378.50,360.74 L378.62,360.55 L378.75,360.36 L378.88,360.16 L379.00,359.95 L379.12,359.73 L379.25,359.51 L379.38,359.29 L379.50,359.06 L379.62,358.83 L379.75,358.60 L379.88,358.36 L380.00,358.12 L380.12,357.88 L380.25,357.64 L380.38,357.40 L380.50,357.16 L380.62,356.92 L380.75,356.68 L380.88,356.44 L381.00,356.21 L381.12,355.98 L381.25,355.75 L381.38,355.52 L381.50,355.30 L381.62,355.08 L381.75,354.87 L381.88,354.66 L382.00,354.46 L382.12,354.27 L382.25,354.08 L382.38,353.90 L382.50,353.73 L382.62,353.57 L382.75,353.42 L382.88,353.28 L383.00,353.15 L383.12,353.03 L383.25,352.91 L383.38,352.82 L383.50,352.73 L383.62,352.66 L383.75,352.60 L383.88,352.55 L384.00,352.52 L384.12,352.50 L384.25,352.50 L384.38,352.53 L384.50,352.58 L384.62,352.66 L384.75,352.77 L384.88,352.90 L385.00,353.06 L385.12,353.23 L385.25,353.43 L385.38,353.65 L385.50,353.89 L385.62,354.14 L385.75,354.41 L385.88,354.70 L386.00,355.01 L386.12,355.32 L386.25,355.65 L386.38,355.99 L386.50,356.34 L386.62,356.70 L386.75,357.07 L386.88,357.45 L387.00,357.83 L387.12,358.22 L387.25,358.61 L387.38,359.00 L387.50,359.39 L387.62,359.79 L387.75,360.18 L387.88,360.57 L388.00,360.96 L388.12,361.35 L388.25,361.73 L388.38,362.10 L388.50,362.47 L388.62,362.83 L388.75,363.18 L388.88,363.51 L389.00,363.84 L389.12,364.16 L389.25,364.46 L389.38,364.74 L389.50,365.01 L389.62,365.26 L389.75,365.50 L389.88,365.71 L390.00,365.91 L390.12,366.08 L390.25,366.23 L390.38,366.35 L390.50,366.46 L390.62,366.53 L390.75,366.58 L390.88,366.60 L391.00,366.59 L391.12,366.56 L391.25,366.50 L391.38,366.41 L391.50,366.30 L391.62,366.17 L391.75,366.02 L391.88,365.85 L392.00,365.66 L392.12,365.45 L392.25,365.23 L392.38,364.99 L392.50,364.74 L392.62,364.47 L392.75,364.19 L392.88,363.89 L393.00,363.59 L393.12,363.28 L393.25,362.96 L393.38,362.64 L393.50,362.30 L393.62,361.97 L393.75,361.63 L393.88,361.28 L394.00,360.94 L394.12,360.59 L394.25,360.25 L394.38,359.91 L394.50,359.57 L394.62,359.23 L394.75,358.90 L394.88,358.57 L395.00,358.26 L395.12,357.95 L395.25,357.65 L395.38,357.36 L395.50,357.08 L395.62,356.81 L395.75,356.56 L395.88,356.32 L396.00,356.10 L396.12,355.90 L396.25,355.71 L396.38,355.54 L396.50,355.40 L396.62,355.27 L396.75,355.17 L396.88,355.09 L397.00,355.03 L397.12,355.00 L397.25,355.00 L397.38,355.03 L397.50,355.09 L397.62,355.17 L397.75,355.29 L397.88,355.43 L398.00,355.59 L398.12,355.78 L398.25,355.99 L398.38,356.22 L398.50,356.48 L398.62,356.75 L398.75,357.04 L398.88,357.34 L399.00,357.67 L399.12,358.00 L399.25,358.35 L399.38,358.71 L399.50,359.08 L399.62,359.46 L399.75,359.85 L399.88,360.25 L400.00,360.65 L400.12,361.06 L400.25,361.47 L400.38,361.89 L400.50,362.30 L400.62,362.71 L400.75,363.13 L400.88,363.54 L401.00,363.95 L401.12,364.35 L401.25,364.75 L401.38,365.14 L401.50,365.52 L401.62,365.89 L401.75,366.25 L401.88,366.60 L402.00,366.93 L402.12,367.26 L402.25,367.56 L402.38,367.85 L402.50,368.12 L402.62,368.38 L402.75,368.61 L402.88,368.82 L403.00,369.01 L403.12,369.17 L403.25,369.31 L403.38,369.43 L403.50,369.51 L403.62,369.57 L403.75,369.60 L403.88,369.60 L404.00,369.57 L404.12,369.52 L404.25,369.45 L404.38,369.35 L404.50,369.24 L404.62,369.11 L404.75,368.96 L404.88,368.79 L405.00,368.60 L405.12,368.40 L405.25,368.19 L405.38,367.96 L405.50,367.72 L405.62,367.47 L405.75,367.20 L405.88,366.93 L406.00,366.65 L406.12,366.37 L406.25,366.07 L406.38,365.77 L406.50,365.47 L406.62,365.16 L406.75,364.85 L406.88,364.54 L407.00,364.23 L407.12,363.91 L407.25,363.60 L407.38,363.29 L407.50,362.99 L407.62,362.69 L407.75,362.39 L407.88,362.10 L408.00,361.82 L408.12,361.55 L408.25,361.28 L408.38,361.03 L408.50,360.79 L408.62,360.56 L408.75,360.34 L408.88,360.14 L409.00,359.95 L409.12,359.78 L409.25,359.62 L409.38,359.49 L409.50,359.37 L409.62,359.27 L409.75,359.19 L409.88,359.14 L410.00,359.11 L410.12,359.10 L410.25,359.12 L410.38,359.16 L410.50,359.23 L410.62,359.32 L410.75,359.44 L410.88,359.57 L411.00,359.73 L411.12,359.91 L411.25,360.10 L411.38,360.31 L411.50,360.54 L411.62,360.79 L411.75,361.05 L411.88,361.32 L412.00,361.60 L412.12,361.90 L412.25,362.21 L412.38,362.53 L412.50,362.85 L412.62,363.18 L412.75,363.52 L412.88,363.87 L413.00,364.22 L413.12,364.57 L413.25,364.93 L413.38,365.29 L413.50,365.64 L413.62,366.00 L413.75,366.36 L413.88,366.71 L414.00,367.06 L414.12,367.41 L414.25,367.75 L414.38,368.08 L414.50,368.41 L414.62,368.73 L414.75,369.04 L414.88,369.34 L415.00,369.62 L415.12,369.90 L415.25,370.16 L415.38,370.41 L415.50,370.64 L415.62,370.86 L415.75,371.06 L415.88,371.24 L416.00,371.40 L416.12,371.54 L416.25,371.66 L416.38,371.75 L416.50,371.83 L416.62,371.87 L416.75,371.90 L416.88,371.90 L417.00,371.88 L417.12,371.84 L417.25,371.78 L417.38,371.71 L417.50,371.62 L417.62,371.52 L417.75,371.41 L417.88,371.28 L418.00,371.14 L418.12,370.98 L418.25,370.82 L418.38,370.65 L418.50,370.46 L418.62,370.27 L418.75,370.07 L418.88,369.86 L419.00,369.65 L419.12,369.43 L419.25,369.21 L419.38,368.98 L419.50,368.75 L419.62,368.52 L419.75,368.28 L419.88,368.05 L420.00,367.81 L420.12,367.58 L420.25,367.34 L420.38,367.11 L420.50,366.88 L420.62,366.66 L420.75,366.44 L420.88,366.22 L421.00,366.01 L421.12,365.81 L421.25,365.61 L421.38,365.43 L421.50,365.25 L421.62,365.08 L421.75,364.92 L421.88,364.78 L422.00,364.64 L422.12,364.52 L422.25,364.41 L422.38,364.32 L422.50,364.24 L422.62,364.18 L422.75,364.14 L422.88,364.11 L423.00,364.10 L423.12,364.11 L423.25,364.13 L423.38,364.17 L423.50,364.23 L423.62,364.30 L423.75,364.39 L423.88,364.48 L424.00,364.60 L424.12,364.72 L424.25,364.86 L424.38,365.00 L424.50,365.16 L424.62,365.33 L424.75,365.50 L424.88,365.69 L425.00,365.88 L425.12,366.08 L425.25,366.29 L425.38,366.50 L425.50,366.72 L425.62,366.94 L425.75,367.17 L425.88,367.40 L426.00,367.64 L426.12,367.88 L426.25,368.12 L426.38,368.36 L426.50,368.60 L426.62,368.85 L426.75,369.09 L426.88,369.33 L427.00,369.57 L427.12,369.81 L427.25,370.04 L427.38,370.27 L427.50,370.50 L427.62,370.73 L427.75,370.94 L427.88,371.16 L428.00,371.36 L428.12,371.56 L428.25,371.75 L428.38,371.93 L428.50,372.11 L428.62,372.27 L428.75,372.43 L428.88,372.57 L429.00,372.71 L429.12,372.83 L429.25,372.94 L429.38,373.03 L429.50,373.11 L429.62,373.18 L429.75,373.24 L429.88,373.27 L430.00,373.29 L430.12,373.30 L430.25,373.29 L430.38,373.28 L430.50,373.25 L430.62,373.22 L430.75,373.18 L430.88,373.13 L431.00,373.07 L431.12,373.01 L431.25,372.93 L431.38,372.86 L431.50,372.77 L431.62,372.68 L431.75,372.58 L431.88,372.48 L432.00,372.38 L432.12,372.27 L432.25,372.15 L432.38,372.03 L432.50,371.91 L432.62,371.78 L432.75,371.65 L432.88,371.52 L433.00,371.39 L433.12,371.25 L433.25,371.11 L433.38,370.97 L433.50,370.83 L433.62,370.69 L433.75,370.55 L433.88,370.41 L434.00,370.27 L434.12,370.13 L434.25,369.99 L434.38,369.85 L434.50,369.71 L434.62,369.58 L434.75,369.45 L434.88,369.32 L435.00,369.19 L435.12,369.07 L435.25,368.95 L435.38,368.83 L435.50,368.72 L435.62,368.62 L435.75,368.52 L435.88,368.42 L436.00,368.33 L436.12,368.24 L436.25,368.17 L436.38,368.09 L436.50,368.03 L436.62,367.97 L436.75,367.92 L436.88,367.88 L437.00,367.85 L437.12,367.82 L437.25,367.81 L437.38,367.80 L437.50,367.80 L437.62,367.82 L437.75,367.86 L437.88,367.91 L438.00,367.97 L438.12,368.04 L438.25,368.13 L438.38,368.23 L438.50,368.34 L438.62,368.46 L438.75,368.59 L438.88,368.73 L439.00,368.88 L439.12,369.03 L439.25,369.20 L439.38,369.37 L439.50,369.55 L439.62,369.73 L439.75,369.92 L439.88,370.12 L440.00,370.32 L440.12,370.52 L440.25,370.73 L440.38,370.94 L440.50,371.15 L440.62,371.36 L440.75,371.58 L440.88,371.79 L441.00,372.01 L441.12,372.22 L441.25,372.43 L441.38,372.64 L441.50,372.85 L441.62,373.06 L441.75,373.26 L441.88,373.46 L442.00,373.65 L442.12,373.84 L442.25,374.02 L442.38,374.20 L442.50,374.37 L442.62,374.53 L442.75,374.68 L442.88,374.83 L443.00,374.96 L443.12,375.09 L443.25,375.21 L443.38,375.31 L443.50,375.41 L443.62,375.49 L443.75,375.56 L443.88,375.61 L444.00,375.66 L444.12,375.69 L444.25,375.70 L444.38,375.70 L444.50,375.68 L444.62,375.65 L444.75,375.61 L444.88,375.55 L445.00,375.48 L445.12,375.39 L445.25,375.30 L445.38,375.20 L445.50,375.08 L445.62,374.96 L445.75,374.82 L445.88,374.68 L446.00,374.53 L446.12,374.37 L446.25,374.21 L446.38,374.04 L446.50,373.86 L446.62,373.68 L446.75,373.49 L446.88,373.30 L447.00,373.11 L447.12,372.91 L447.25,372.71 L447.38,372.51 L447.50,372.31 L447.62,372.11 L447.75,371.91 L447.88,371.71 L448.00,371.51 L448.12,371.31 L448.25,371.11 L448.38,370.92 L448.50,370.73 L448.62,370.55 L448.75,370.37 L448.88,370.19 L449.00,370.03 L449.12,369.86 L449.25,369.71 L449.38,369.56 L449.50,369.42 L449.62,369.29 L449.75,369.17 L449.88,369.06 L450.00,368.96 L450.12,368.87 L450.25,368.79 L450.38,368.73 L450.50,368.68 L450.62,368.64 L450.75,368.61 L450.88,368.60 L451.00,368.61 L451.12,368.63 L451.25,368.66 L451.38,368.71 L451.50,368.77 L451.62,368.85 L451.75,368.94 L451.88,369.04 L452.00,369.15 L452.12,369.27 L452.25,369.41 L452.38,369.55 L452.50,369.70 L452.62,369.86 L452.75,370.03 L452.88,370.21 L453.00,370.39 L453.12,370.58 L453.25,370.78 L453.38,370.98 L453.50,371.18 L453.62,371.39 L453.75,371.61 L453.88,371.82 L454.00,372.04 L454.12,372.26 L454.25,372.48 L454.38,372.71 L454.50,372.93 L454.62,373.15 L454.75,373.37 L454.88,373.59 L455.00,373.81 L455.12,374.02 L455.25,374.23 L455.38,374.44 L455.50,374.64 L455.62,374.84 L455.75,375.03 L455.88,375.22 L456.00,375.40 L456.12,375.57 L456.25,375.73 L456.38,375.89 L456.50,376.04 L456.62,376.17 L456.75,376.30 L456.88,376.42 L457.00,376.52 L457.12,376.62 L457.25,376.70 L457.38,376.77 L457.50,376.82 L457.62,376.86 L457.75,376.89 L457.88,376.90 L458.00,376.89 L458.12,376.87 L458.25,376.83 L458.38,376.77 L458.50,376.70 L458.62,376.61 L458.75,376.51 L458.88,376.40 L459.00,376.27 L459.12,376.13 L459.25,375.98 L459.38,375.82 L459.50,375.65 L459.62,375.47 L459.75,375.28 L459.88,375.08 L460.00,374.88 L460.12,374.67 L460.25,374.45 L460.38,374.23 L460.50,374.01 L460.62,373.78 L460.75,373.56 L460.88,373.32 L461.00,373.09 L461.12,372.86 L461.25,372.63 L461.38,372.40 L461.50,372.17 L461.62,371.94 L461.75,371.72 L461.88,371.50 L462.00,371.29 L462.12,371.08 L462.25,370.88 L462.38,370.68 L462.50,370.50 L462.62,370.32 L462.75,370.15 L462.88,369.99 L463.00,369.84 L463.12,369.70 L463.25,369.58 L463.38,369.47 L463.50,369.37 L463.62,369.28 L463.75,369.21 L463.88,369.16 L464.00,369.12 L464.12,369.10 L464.25,369.10 L464.38,369.11 L464.50,369.14 L464.62,369.18 L464.75,369.23 L464.88,369.29 L465.00,369.36 L465.12,369.45 L465.25,369.54 L465.38,369.65 L465.50,369.76 L465.62,369.89 L465.75,370.02 L465.88,370.16 L466.00,370.30 L466.12,370.46 L466.25,370.62 L466.38,370.79 L466.50,370.96 L466.62,371.14 L466.75,371.33 L466.88,371.51 L467.00,371.71 L467.12,371.90 L467.25,372.10 L467.38,372.30 L467.50,372.51 L467.62,372.71 L467.75,372.92 L467.88,373.13 L468.00,373.33 L468.12,373.54 L468.25,373.75 L468.38,373.95 L468.50,374.16 L468.62,374.36 L468.75,374.56 L468.88,374.75 L469.00,374.95 L469.12,375.14 L469.25,375.32 L469.38,375.50 L469.50,375.68 L469.62,375.85 L469.75,376.01 L469.88,376.16 L470.00,376.31 L470.12,376.46 L470.25,376.59 L470.38,376.71 L470.50,376.83 L470.62,376.94 L470.75,377.03 L470.88,377.12 L471.00,377.20 L471.12,377.26 L471.25,377.31 L471.38,377.35 L471.50,377.38 L471.62,377.40 L471.75,377.40 L471.88,377.39 L472.00,377.37 L472.12,377.34 L472.25,377.30 L472.38,377.25 L472.50,377.19 L472.62,377.13 L472.75,377.05 L472.88,376.97 L473.00,376.89 L473.12,376.79 L473.25,376.69 L473.38,376.59 L473.50,376.48 L473.62,376.37 L473.75,376.25 L473.88,376.12 L474.00,376.00" stroke="#fb5212" stroke-width="1.3"/>
<path d="M48.60,371.77 L48.73,371.70 L48.85,371.66 L48.98,371.63 L49.10,371.63 L49.23,371.64 L49.35,371.67 L49.48,371.72 L49.60,371.79 L49.73,371.88 L49.85,371.99 L49.98,372.12 L50.10,372.27 L50.23,372.43 L50.35,372.61 L50.48,372.81 L50.60,373.01 L50.73,373.24 L50.85,373.48 L50.98,373.73 L51.10,374.00 L51.23,374.28 L51.35,374.58 L51.48,374.89 L51.60,375.21 L51.73,375.55 L51.85,375.90 L51.98,376.26 L52.10,376.64 L52.23,377.03 L52.35,377.42 L52.48,377.83 L52.60,378.26 L52.73,378.69 L52.85,379.13 L52.98,379.59 L53.10,380.05 L53.23,380.52 L53.35,381.00 L53.48,381.49 L53.60,381.99 L53.73,382.50 L53.85,383.01 L53.98,383.54 L54.10,384.06 L54.23,384.60 L54.35,385.14 L54.48,385.69 L54.60,386.24 L54.73,386.79 L54.85,387.35 L54.98,387.92 L55.10,388.49 L55.23,389.06 L55.35,389.63 L55.48,390.20 L55.60,390.78 L55.73,391.36 L55.85,391.40 L55.98,391.40 L56.10,391.40 L56.23,391.13 L56.35,390.55 L56.48,389.98 L56.60,389.40 L56.73,388.83 L56.85,388.26 L56.98,387.70 L57.10,387.14 L57.23,386.58 L57.35,386.03 L57.48,385.48 L57.60,384.94 L57.73,384.40 L57.85,383.87 L57.98,383.35 L58.10,382.83 L58.23,382.32 L58.35,381.82 L58.48,381.33 L58.60,380.84 L58.73,380.37 L58.85,379.90 L58.98,379.44 L59.10,379.00 L59.23,378.56 L59.35,378.14 L59.48,377.72 L59.60,377.32 L59.73,376.93 L59.85,376.55 L59.98,376.18 L60.10,375.82 L60.23,375.48 L60.35,375.15 L60.48,374.84 L60.60,374.54 L60.73,374.25 L60.85,373.97 L60.98,373.71 L61.10,373.47 L61.23,373.24 L61.35,373.02 L61.48,372.82 L61.60,372.63 L61.73,372.46 L61.85,372.30 L61.98,372.16 L62.10,372.04 L62.23,371.93 L62.35,371.83 L62.48,371.75 L62.60,371.69 L62.73,371.65 L62.85,371.62 L62.98,371.60 L63.10,371.60 L63.23,371.62 L63.35,371.65 L63.48,371.69 L63.60,371.75 L63.73,371.83 L63.85,371.92 L63.98,372.02 L64.10,372.14 L64.22,372.28 L64.35,372.43 L64.47,372.59 L64.60,372.77 L64.72,372.97 L64.85,373.18 L64.97,373.40 L65.10,373.64 L65.22,373.89 L65.35,374.15 L65.47,374.43 L65.60,374.73 L65.72,375.03 L65.85,375.36 L65.97,375.69 L66.10,376.04 L66.22,376.40 L66.35,376.77 L66.47,377.15 L66.60,377.55 L66.72,377.96 L66.85,378.38 L66.97,378.81 L67.10,379.25 L67.22,379.71 L67.35,380.17 L67.47,380.65 L67.60,381.13 L67.72,381.63 L67.85,382.13 L67.97,382.65 L68.10,383.17 L68.22,383.70 L68.35,384.24 L68.47,384.78 L68.60,385.34 L68.72,385.90 L68.85,386.46 L68.97,387.04 L69.10,387.61 L69.22,388.20 L69.35,388.79 L69.47,389.38 L69.60,389.98 L69.72,390.58 L69.85,391.18 L69.97,391.40 L70.10,391.40 L70.22,391.40 L70.35,391.18 L70.47,390.56 L70.60,389.95 L70.72,389.33 L70.85,388.72 L70.97,388.11 L71.10,387.50 L71.22,386.89 L71.35,386.28 L71.47,385.68 L71.60,385.07 L71.72,384.48 L71.85,383.88 L71.97,383.30 L72.10,382.71 L72.22,382.14 L72.35,381.57 L72.47,381.00 L72.60,380.44 L72.72,379.89 L72.85,379.35 L72.97,378.82 L73.10,378.29 L73.22,377.78 L73.35,377.27 L73.47,376.78 L73.60,376.30 L73.72,375.82 L73.85,375.36 L73.97,374.91 L74.10,374.48 L74.22,374.05 L74.35,373.64 L74.47,373.24 L74.60,372.86 L74.72,372.49 L74.85,372.14 L74.97,371.80 L75.10,371.47 L75.22,371.16 L75.35,370.87 L75.47,370.59 L75.60,370.33 L75.72,370.09 L75.85,369.86 L75.97,369.66 L76.10,369.46 L76.22,369.29 L76.35,369.13 L76.47,369.00 L76.60,368.88 L76.72,368.78 L76.85,368.69 L76.97,368.63 L77.10,368.58 L77.22,368.56 L77.35,368.55 L77.47,368.56 L77.60,368.58 L77.72,368.63 L77.85,368.70 L77.97,368.78 L78.10,368.88 L78.22,369.00 L78.35,369.14 L78.47,369.30 L78.60,369.47 L78.72,369.67 L78.85,369.88 L78.97,370.11 L79.10,370.36 L79.22,370.62 L79.35,370.90 L79.47,371.20 L79.60,371.52 L79.72,371.85 L79.85,372.20 L79.97,372.57 L80.10,372.95 L80.22,373.35 L80.35,373.76 L80.47,374.19 L80.60,374.64 L80.72,375.09 L80.85,375.57 L80.97,376.05 L81.10,376.55 L81.22,377.07 L81.35,377.59 L81.47,378.13 L81.60,378.68 L81.72,379.25 L81.85,379.82 L81.97,380.41 L82.10,381.00 L82.22,381.61 L82.35,382.22 L82.47,382.85 L82.60,383.48 L82.72,384.12 L82.85,384.77 L82.97,385.42 L83.10,386.08 L83.22,386.75 L83.35,387.43 L83.47,388.11 L83.60,388.79 L83.72,389.48 L83.85,390.17 L83.97,390.86 L84.10,391.40 L84.22,391.40 L84.35,391.40 L84.47,391.14 L84.60,390.44 L84.72,389.73 L84.85,389.03 L84.97,388.33 L85.10,387.64 L85.22,386.94 L85.35,386.25 L85.47,385.56 L85.60,384.87 L85.72,384.19 L85.85,383.52 L85.97,382.85 L86.10,382.18 L86.22,381.53 L86.35,380.88 L86.47,380.23 L86.60,379.60 L86.72,378.97 L86.85,378.36 L86.97,377.75 L87.10,377.16 L87.22,376.57 L87.35,375.99 L87.47,375.43 L87.60,374.88 L87.72,374.34 L87.85,373.82 L87.97,373.30 L88.10,372.81 L88.22,372.32 L88.35,371.85 L88.47,371.40 L88.60,370.96 L88.72,370.53 L88.85,370.13 L88.97,369.74 L89.10,369.36 L89.22,369.00 L89.35,368.66 L89.47,368.34 L89.60,368.04 L89.72,367.75 L89.85,367.48 L89.97,367.24 L90.10,367.01 L90.22,366.80 L90.35,366.60 L90.47,366.43 L90.60,366.28 L90.72,366.15 L90.85,366.04 L90.97,365.94 L91.10,365.87 L91.22,365.82 L91.35,365.79 L91.47,365.78 L91.60,365.79 L91.72,365.82 L91.85,365.87 L91.97,365.94 L92.10,366.04 L92.22,366.15 L92.35,366.28 L92.47,366.44 L92.60,366.61 L92.72,366.80 L92.85,367.02 L92.97,367.25 L93.10,367.51 L93.22,367.78 L93.35,368.07 L93.47,368.39 L93.60,368.72 L93.72,369.07 L93.85,369.44 L93.97,369.83 L94.10,370.23 L94.22,370.66 L94.35,371.10 L94.47,371.56 L94.60,372.03 L94.72,372.52 L94.85,373.03 L94.97,373.56 L95.10,374.10 L95.22,374.65 L95.35,375.22 L95.47,375.81 L95.60,376.40 L95.72,377.02 L95.85,377.64 L95.97,378.28 L96.10,378.93 L96.22,379.59 L96.35,380.26 L96.47,380.94 L96.60,381.63 L96.72,382.34 L96.85,383.05 L96.97,383.77 L97.10,384.50 L97.22,385.23 L97.35,385.97 L97.47,386.72 L97.60,387.48 L97.72,388.23 L97.85,389.00 L97.97,389.77 L98.10,390.54 L98.22,391.31 L98.35,391.40 L98.47,391.40 L98.60,391.15 L98.72,390.37 L98.85,389.59 L98.97,388.82 L99.10,388.04 L99.22,387.26 L99.35,386.49 L99.47,385.72 L99.60,384.95 L99.72,384.19 L99.85,383.44 L99.97,382.69 L100.10,381.94 L100.22,381.20 L100.35,380.47 L100.47,379.75 L100.60,379.03 L100.72,378.33 L100.85,377.63 L100.97,376.95 L101.10,376.27 L101.22,375.61 L101.35,374.96 L101.47,374.32 L101.60,373.69 L101.72,373.08 L101.85,372.48 L101.97,371.90 L102.10,371.33 L102.22,370.77 L102.35,370.23 L102.47,369.71 L102.60,369.20 L102.72,368.71 L102.85,368.24 L102.97,367.79 L103.10,367.35 L103.22,366.94 L103.35,366.54 L103.47,366.16 L103.60,365.80 L103.72,365.46 L103.85,365.14 L103.97,364.84 L104.10,364.57 L104.22,364.31 L104.35,364.07 L104.47,363.86 L104.60,363.67 L104.72,363.50 L104.85,363.35 L104.97,363.22 L105.10,363.12 L105.22,363.04 L105.35,362.98 L105.47,362.95 L105.60,362.93 L105.72,362.94 L105.85,362.98 L105.97,363.03 L106.10,363.11 L106.22,363.21 L106.35,363.34 L106.47,363.49 L106.60,363.66 L106.72,363.85 L106.85,364.06 L106.97,364.30 L107.10,364.56 L107.22,364.84 L107.35,365.14 L107.47,365.47 L107.60,365.82 L107.72,366.18 L107.85,366.57 L107.97,366.98 L108.10,367.41 L108.22,367.86 L108.35,368.33 L108.47,368.81 L108.60,369.32 L108.72,369.85 L108.85,370.39 L108.97,370.95 L109.10,371.53 L109.22,372.13 L109.35,372.74 L109.47,373.37 L109.60,374.01 L109.72,374.67 L109.85,375.34 L109.97,376.03 L110.10,376.73 L110.22,377.45 L110.35,378.17 L110.47,378.91 L110.60,379.66 L110.72,380.43 L110.85,381.20 L110.97,381.98 L111.10,382.77 L111.22,383.57 L111.35,384.37 L111.47,385.19 L111.60,386.01 L111.72,386.84 L111.85,387.67 L111.97,388.51 L112.10,389.35 L112.22,390.19 L112.35,391.04 L112.47,391.40 L112.60,391.40 L112.72,391.21 L112.85,390.35 L112.97,389.50 L113.10,388.65 L113.22,387.80 L113.35,386.95 L113.47,386.11 L113.60,385.27 L113.72,384.43 L113.85,383.60 L113.97,382.77 L114.10,381.95 L114.22,381.14 L114.35,380.34 L114.47,379.54 L114.60,378.75 L114.72,377.97 L114.85,377.20 L114.97,376.44 L115.10,375.69 L115.22,374.96 L115.35,374.23 L115.47,373.52 L115.60,372.82 L115.72,372.14 L115.85,371.47 L115.97,370.82 L116.10,370.18 L116.22,369.55 L116.35,368.95 L116.47,368.36 L116.60,367.79 L116.72,367.23 L116.85,366.70 L116.97,366.18 L117.10,365.68 L117.22,365.20 L117.35,364.75 L117.47,364.31 L117.60,363.89 L117.72,363.49 L117.85,363.12 L117.97,362.77 L118.10,362.44 L118.22,362.13 L118.35,361.84 L118.47,361.58 L118.60,361.34 L118.72,361.12 L118.85,360.93 L118.97,360.76 L119.10,360.62 L119.22,360.50 L119.35,360.40 L119.47,360.33 L119.60,360.28 L119.72,360.25 L119.85,360.25 L119.97,360.28 L120.10,360.33 L120.22,360.40 L120.35,360.50 L120.47,360.62 L120.60,360.77 L120.72,360.94 L120.85,361.14 L120.97,361.36 L121.10,361.60 L121.22,361.87 L121.35,362.16 L121.47,362.48 L121.60,362.82 L121.72,363.18 L121.85,363.57 L121.97,363.97 L122.10,364.41 L122.22,364.86 L122.35,365.33 L122.47,365.83 L122.60,366.35 L122.72,366.89 L122.85,367.45 L122.97,368.03 L123.10,368.64 L123.22,369.26 L123.35,369.90 L123.47,370.56 L123.60,371.23 L123.72,371.93 L123.85,372.64 L123.97,373.37 L124.10,374.12 L124.22,374.88 L124.35,375.66 L124.47,376.45 L124.60,377.26 L124.72,378.08 L124.85,378.92 L124.97,379.76 L125.10,380.62 L125.22,381.49 L125.35,382.37 L125.47,383.27 L125.60,384.17 L125.72,385.08 L125.85,385.99 L125.97,386.92 L126.10,387.85 L126.22,388.79 L126.35,389.73 L126.47,390.68 L126.60,391.40 L126.72,391.40 L126.85,391.25 L126.97,390.29 L127.10,389.33 L127.22,388.36 L127.35,387.40 L127.47,386.44 L127.60,385.48 L127.72,384.53 L127.85,383.57 L127.97,382.62 L128.10,381.68 L128.22,380.74 L128.35,379.80 L128.47,378.88 L128.60,377.96 L128.72,377.05 L128.85,376.15 L128.97,375.25 L129.10,374.37 L129.22,373.50 L129.35,372.65 L129.47,371.80 L129.60,370.97 L129.72,370.15 L129.85,369.35 L129.97,368.56 L130.10,367.79 L130.22,367.03 L130.35,366.29 L130.47,365.57 L130.60,364.87 L130.72,364.19 L130.85,363.52 L130.97,362.88 L131.10,362.26 L131.22,361.66 L131.35,361.08 L131.47,360.52 L131.60,359.99 L131.72,359.48 L131.85,358.99 L131.97,358.53 L132.10,358.09 L132.22,357.68 L132.35,357.30 L132.47,356.93 L132.60,356.60 L132.72,356.29 L132.85,356.01 L132.97,355.76 L133.10,355.53 L133.22,355.34 L133.35,355.17 L133.47,355.03 L133.60,354.91 L133.72,354.83 L133.85,354.77 L133.97,354.75 L134.10,354.75 L134.22,354.78 L134.35,354.84 L134.47,354.93 L134.60,355.05 L134.72,355.20 L134.85,355.38 L134.97,355.59 L135.10,355.82 L135.22,356.09 L135.35,356.38 L135.47,356.70 L135.60,357.05 L135.72,357.43 L135.85,357.84 L135.97,358.27 L136.10,358.74 L136.22,359.23 L136.35,359.74 L136.47,360.29 L136.60,360.86 L136.72,361.46 L136.85,362.08 L136.97,362.73 L137.10,363.40 L137.22,364.10 L137.35,364.82 L137.47,365.56 L137.60,366.33 L137.72,367.12 L137.85,367.93 L137.97,368.77 L138.10,369.62 L138.22,370.50 L138.35,371.40 L138.47,372.31 L138.60,373.24 L138.72,374.20 L138.85,375.16 L138.97,376.15 L139.10,377.15 L139.22,378.17 L139.35,379.20 L139.47,380.24 L139.60,381.30 L139.72,382.36 L139.85,383.45 L139.97,384.54 L140.10,385.64 L140.22,386.75 L140.35,387.86 L140.47,388.99 L140.60,390.12 L140.72,391.26 L140.85,391.40 L140.97,391.25 L141.10,390.10 L141.22,388.95 L141.35,387.80 L141.47,386.65 L141.60,385.50 L141.72,384.34 L141.85,383.19 L141.97,382.05 L142.10,380.91 L142.22,379.77 L142.35,378.64 L142.47,377.51 L142.60,376.40 L142.72,375.29 L142.85,374.19 L142.97,373.10 L143.10,372.02 L143.22,370.95 L143.35,369.90 L143.47,368.86 L143.60,367.83 L143.72,366.82 L143.85,365.82 L143.97,364.85 L144.10,363.89 L144.22,362.95 L144.35,362.02 L144.47,361.12 L144.60,360.24 L144.72,359.38 L144.85,358.54 L144.97,357.73 L145.10,356.94 L145.22,356.17 L145.35,355.43 L145.47,354.72 L145.60,354.03 L145.72,353.37 L145.85,352.73 L145.97,352.13 L146.10,351.55 L146.22,351.00 L146.35,350.48 L146.47,350.00 L146.60,349.54 L146.72,349.12 L146.85,348.72 L146.97,348.36 L147.10,348.04 L147.22,347.74 L147.35,347.48 L147.47,347.25 L147.60,347.06 L147.72,346.90 L147.85,346.77 L147.97,346.68 L148.10,346.63 L148.22,346.61 L148.35,346.62 L148.47,346.67 L148.60,346.76 L148.72,346.88 L148.85,347.04 L148.97,347.23 L149.10,347.46 L149.22,347.73 L149.35,348.03 L149.47,348.36 L149.60,348.74 L149.72,349.14 L149.85,349.58 L149.97,350.06 L150.10,350.57 L150.22,351.12 L150.35,351.70 L150.47,352.31 L150.60,352.96 L150.72,353.64 L150.85,354.35 L150.97,355.09 L151.10,355.87 L151.22,356.67 L151.35,357.51 L151.47,358.38 L151.60,359.28 L151.72,360.20 L151.85,361.16 L151.97,362.14 L152.10,363.15 L152.22,364.19 L152.35,365.25 L152.47,366.34 L152.60,367.45 L152.72,368.59 L152.85,369.75 L152.97,370.93 L153.10,372.13 L153.22,373.35 L153.35,374.60 L153.47,375.86 L153.60,377.14 L153.72,378.43 L153.85,379.74 L153.97,381.07 L154.10,382.41 L154.22,383.77 L154.35,385.13 L154.47,386.51 L154.60,387.90 L154.72,389.30 L154.85,390.70 L154.97,391.40 L155.10,391.26 L155.22,389.84 L155.35,388.41 L155.47,386.98 L155.60,385.55 L155.72,384.11 L155.85,382.68 L155.97,381.25 L156.10,379.82 L156.22,378.39 L156.35,376.97 L156.47,375.55 L156.60,374.14 L156.72,372.74 L156.85,371.35 L156.97,369.97 L157.10,368.59 L157.22,367.24 L157.35,365.89 L157.47,364.56 L157.60,363.24 L157.72,361.94 L157.85,360.66 L157.97,359.40 L158.10,358.15 L158.22,356.93 L158.35,355.73 L158.47,354.55 L158.60,353.40 L158.72,352.27 L158.85,351.16 L158.97,350.08 L159.10,349.03 L159.22,348.01 L159.35,347.02 L159.47,346.05 L159.60,345.12 L159.72,344.22 L159.85,343.36 L159.97,342.52 L160.10,341.72 L160.22,340.96 L160.35,340.23 L160.47,339.54 L160.60,338.89 L160.72,338.27 L160.85,337.69 L160.97,337.15 L161.10,336.66 L161.22,336.20 L161.35,335.78 L161.47,335.40 L161.60,335.07 L161.72,334.78 L161.85,334.53 L161.97,334.33 L162.10,334.16 L162.22,334.04 L162.35,333.97 L162.47,333.94 L162.60,333.95 L162.72,334.00 L162.85,334.11 L162.97,334.25 L163.10,334.44 L163.22,334.68 L163.35,334.96 L163.47,335.29 L163.60,335.66 L163.72,336.07 L163.85,336.54 L163.97,337.04 L164.10,337.60 L164.22,338.19 L164.35,338.84 L164.47,339.52 L164.60,340.26 L164.72,341.03 L164.85,341.85 L164.97,342.72 L165.10,343.62 L165.22,344.57 L165.35,345.57 L165.47,346.60 L165.60,347.68 L165.72,348.79 L165.85,349.95 L165.97,351.15 L166.10,352.39 L166.22,353.66 L166.35,354.98 L166.47,356.33 L166.60,357.71 L166.72,359.14 L166.85,360.59 L166.97,362.08 L167.10,363.61 L167.22,365.16 L167.35,366.75 L167.47,368.37 L167.60,370.01 L167.72,371.69 L167.85,373.39 L167.97,375.12 L168.10,376.87 L168.22,378.65 L168.35,380.44 L168.47,382.26 L168.60,384.10 L168.72,385.96 L168.85,387.83 L168.97,389.71 L169.10,391.40 L169.22,391.21 L169.35,389.30 L169.47,387.37 L169.60,385.42 L169.72,383.46 L169.85,381.50 L169.97,379.53 L170.10,377.56 L170.22,375.58 L170.35,373.61 L170.47,371.64 L170.60,369.67 L170.72,367.70 L170.85,365.74 L170.97,363.79 L171.10,361.85 L171.22,359.92 L171.35,358.00 L171.47,356.09 L171.60,354.20 L171.72,352.33 L171.85,350.47 L171.97,348.64 L172.10,346.83 L172.22,345.04 L172.35,343.28 L172.47,341.54 L172.60,339.83 L172.72,338.15 L172.85,336.50 L172.97,334.89 L173.10,333.31 L173.22,331.76 L173.35,330.25 L173.47,328.78 L173.60,327.35 L173.72,325.97 L173.85,324.62 L173.97,323.32 L174.10,322.06 L174.22,320.86 L174.35,319.70 L174.47,318.59 L174.60,317.53 L174.72,316.52 L174.85,315.56 L174.97,314.66 L175.10,313.81 L175.22,313.02 L175.35,312.29 L175.47,311.62 L175.60,311.00 L175.72,310.45 L175.85,309.95 L175.97,309.52 L176.10,309.15 L176.22,308.84 L176.35,308.60 L176.47,308.42 L176.60,308.31 L176.72,308.26 L176.85,308.28 L176.97,308.36 L177.10,308.50 L177.22,308.71 L177.35,308.98 L177.47,309.32 L177.60,309.73 L177.72,310.20 L177.85,310.73 L177.97,311.34 L178.10,312.01 L178.22,312.74 L178.35,313.54 L178.47,314.41 L178.60,315.35 L178.72,316.35 L178.85,317.41 L178.97,318.55 L179.10,319.74 L179.22,321.01 L179.35,322.34 L179.47,323.73 L179.60,325.18 L179.72,326.70 L179.85,328.28 L179.97,329.92 L180.10,331.62 L180.22,333.39 L180.35,335.21 L180.47,337.09 L180.60,339.03 L180.72,341.02 L180.85,343.07 L180.97,345.17 L181.10,347.32 L181.22,349.53 L181.35,351.78 L181.47,354.09 L181.60,356.43 L181.72,358.83 L181.85,361.26 L181.97,363.74 L182.10,366.26 L182.22,368.81 L182.35,371.39 L182.47,374.01 L182.60,376.64 L182.72,379.29 L182.85,381.94 L182.97,384.55 L183.10,387.03 L183.22,388.98 L183.30,389.40 L183.43,386.46 L183.55,383.47 L183.68,380.41 L183.80,377.29 L183.93,374.12 L184.05,370.89 L184.18,367.61 L184.30,364.27 L184.43,360.89 L184.55,357.46 L184.68,353.98 L184.80,350.46 L184.93,346.89 L185.05,343.29 L185.18,339.65 L185.30,335.96 L185.43,332.25 L185.55,328.48 L185.68,324.54 L185.80,320.44 L185.93,316.20 L186.05,311.88 L186.18,307.49 L186.30,303.10 L186.43,298.73 L186.55,294.42 L186.68,290.20 L186.80,286.13 L186.93,282.24 L187.05,278.55 L187.18,275.04 L187.30,271.66 L187.43,268.37 L187.55,265.14 L187.68,261.93 L187.80,258.71 L187.93,255.51 L188.05,252.33 L188.18,249.18 L188.30,246.05 L188.43,242.93 L188.55,239.84 L188.68,236.76 L188.80,233.68 L188.93,230.62 L189.05,227.56 L189.18,224.50 L189.30,221.45 L189.43,218.39 L189.55,215.32 L189.68,212.25 L189.80,209.17 L189.93,206.11 L190.05,203.06 L190.18,200.03 L190.30,197.03 L190.43,194.07 L190.55,191.15 L190.68,188.27 L190.80,185.34 L190.93,182.39 L191.05,179.43 L191.18,176.48 L191.30,173.56 L191.43,170.68 L191.55,167.86 L191.68,165.11 L191.80,162.47 L191.93,159.93 L192.05,157.53 L192.18,155.27 L192.30,153.18 L192.43,151.24 L192.55,149.43 L192.68,147.71 L192.80,146.06 L192.93,144.47 L193.05,142.89 L193.18,141.31 L193.30,139.70 L193.43,138.04 L193.55,136.29 L193.68,134.44 L193.80,132.53 L193.93,130.61 L194.05,128.72 L194.18,126.91 L194.30,125.23 L194.43,123.71 L194.55,122.25 L194.68,120.81 L194.80,119.39 L194.93,118.03 L195.05,116.75 L195.18,115.56 L195.30,114.48 L195.43,113.54 L195.55,112.76 L195.68,112.13 L195.80,111.51 L195.93,110.92 L196.05,110.34 L196.18,109.78 L196.30,109.26 L196.43,108.78 L196.55,108.35 L196.68,107.96 L196.80,107.63 L196.93,107.36 L197.05,107.17 L197.18,107.04 L197.30,107.00 L197.43,107.01 L197.55,107.05 L197.68,107.12 L197.80,107.21 L197.93,107.32 L198.05,107.45 L198.18,107.61 L198.30,107.78 L198.43,107.98 L198.55,108.19 L198.68,108.42 L198.80,108.66 L198.93,108.92 L199.05,109.20 L199.18,109.48 L199.30,109.78 L199.43,110.09 L199.55,110.41 L199.68,110.74 L199.80,111.08 L199.93,111.42 L200.05,111.77 L200.18,112.13 L200.30,112.49 L200.43,112.85 L200.55,113.21 L200.68,113.57 L200.80,113.94 L200.93,114.30 L201.05,114.66 L201.18,115.02 L201.30,115.37 L201.43,115.72 L201.55,116.06 L201.68,116.39 L201.80,116.72 L201.93,117.03 L202.05,117.34 L202.18,117.63 L202.30,117.91 L202.43,118.18 L202.55,118.44 L202.68,118.68 L202.80,118.90 L202.93,119.10 L203.05,119.29 L203.18,119.46 L203.30,119.60 L203.43,119.73 L203.55,119.83 L203.68,119.91 L203.80,119.97 L203.93,120.00 L204.05,120.00 L204.18,119.98 L204.30,119.94 L204.43,119.87 L204.55,119.79 L204.68,119.69 L204.80,119.57 L204.93,119.43 L205.05,119.27 L205.18,119.10 L205.30,118.91 L205.43,118.71 L205.55,118.49 L205.68,118.26 L205.80,118.02 L205.93,117.76 L206.05,117.50 L206.18,117.23 L206.30,116.94 L206.43,116.65 L206.55,116.35 L206.68,116.04 L206.80,115.73 L206.93,115.41 L207.05,115.09 L207.18,114.76 L207.30,114.43 L207.43,114.10 L207.55,113.77 L207.68,113.43 L207.80,113.10 L207.93,112.77 L208.05,112.44 L208.18,112.11 L208.30,111.78 L208.43,111.46 L208.55,111.14 L208.68,110.83 L208.80,110.53 L208.93,110.23 L209.05,109.94 L209.18,109.66 L209.30,109.39 L209.43,109.13 L209.55,108.88 L209.68,108.65 L209.80,108.42 L209.93,108.21 L210.05,108.01 L210.18,107.83 L210.30,107.67 L210.43,107.52 L210.55,107.38 L210.68,107.27 L210.80,107.17 L210.93,107.10 L211.05,107.04 L211.18,107.01 L211.30,107.00 L211.43,107.01 L211.55,107.03 L211.68,107.06 L211.80,107.10 L211.93,107.16 L212.05,107.22 L212.18,107.30 L212.30,107.38 L212.43,107.48 L212.55,107.58 L212.68,107.70 L212.80,107.82 L212.93,107.95 L213.05,108.08 L213.18,108.22 L213.30,108.37 L213.43,108.53 L213.55,108.69 L213.68,108.85 L213.80,109.02 L213.93,109.19 L214.05,109.37 L214.18,109.55 L214.30,109.73 L214.43,109.92 L214.55,110.10 L214.68,110.29 L214.80,110.48 L214.93,110.66 L215.05,110.85 L215.18,111.04 L215.30,111.22 L215.43,111.40 L215.55,111.59 L215.68,111.77 L215.80,111.94 L215.93,112.11 L216.05,112.28 L216.18,112.45 L216.30,112.60 L216.43,112.76 L216.55,112.91 L216.68,113.05 L216.80,113.18 L216.93,113.31 L217.05,113.43 L217.18,113.54 L217.30,113.64 L217.43,113.74 L217.55,113.82 L217.68,113.89 L217.80,113.96 L217.93,114.01 L218.05,114.05 L218.18,114.08 L218.30,114.10 L218.43,114.10 L218.55,114.09 L218.68,114.07 L218.80,114.04 L218.93,113.99 L219.05,113.94 L219.18,113.87 L219.30,113.80 L219.43,113.71 L219.55,113.62 L219.68,113.51 L219.80,113.40 L219.93,113.28 L220.05,113.16 L220.18,113.03 L220.30,112.89 L220.43,112.74 L220.55,112.59 L220.68,112.44 L220.80,112.28 L220.93,112.11 L221.05,111.95 L221.18,111.78 L221.30,111.60 L221.43,111.43 L221.55,111.25 L221.68,111.07 L221.80,110.89 L221.93,110.71 L222.05,110.53 L222.18,110.36 L222.30,110.18 L222.43,110.00 L222.55,109.83 L222.68,109.66 L222.80,109.49 L222.93,109.32 L223.05,109.16 L223.18,109.00 L223.30,108.85 L223.43,108.70 L223.55,108.56 L223.68,108.42 L223.80,108.29 L223.93,108.17 L224.05,108.05 L224.18,107.94 L224.30,107.84 L224.43,107.75 L224.55,107.67 L224.68,107.60 L224.80,107.54 L224.93,107.49 L225.05,107.45 L225.18,107.42 L225.30,107.40 L225.43,107.40 L225.55,107.41 L225.68,107.42 L225.80,107.45 L225.93,107.48 L226.05,107.52 L226.18,107.56 L226.30,107.62 L226.43,107.68 L226.55,107.75 L226.68,107.82 L226.80,107.90 L226.93,107.99 L227.05,108.08 L227.18,108.18 L227.30,108.28 L227.43,108.38 L227.55,108.49 L227.68,108.61 L227.80,108.72 L227.93,108.84 L228.05,108.96 L228.18,109.09 L228.30,109.22 L228.43,109.34 L228.55,109.47 L228.68,109.61 L228.80,109.74 L228.93,109.87 L229.05,110.00 L229.18,110.14 L229.30,110.27 L229.43,110.40 L229.55,110.53 L229.68,110.66 L229.80,110.79 L229.93,110.91 L230.05,111.03 L230.18,111.15 L230.30,111.27 L230.43,111.38 L230.55,111.50 L230.68,111.60 L230.80,111.70 L230.93,111.80 L231.05,111.89 L231.18,111.98 L231.30,112.06 L231.43,112.14 L231.55,112.21 L231.68,112.27 L231.80,112.33 L231.93,112.37 L232.05,112.42 L232.18,112.45 L232.30,112.47 L232.43,112.49 L232.55,112.50 L232.68,112.50 L232.80,112.49 L232.93,112.47 L233.05,112.44 L233.18,112.41 L233.30,112.36 L233.43,112.31 L233.55,112.26 L233.68,112.19 L233.80,112.12 L233.93,112.04 L234.05,111.96 L234.18,111.87 L234.30,111.78 L234.43,111.68 L234.55,111.58 L234.68,111.47 L234.80,111.36 L234.93,111.24 L235.05,111.12 L235.18,111.00 L235.30,110.88 L235.43,110.76 L235.55,110.63 L235.68,110.50 L235.80,110.37 L235.93,110.24 L236.05,110.11 L236.18,109.97 L236.30,109.84 L236.43,109.71 L236.55,109.58 L236.68,109.45 L236.80,109.32 L236.93,109.19 L237.05,109.07 L237.18,108.95 L237.30,108.83 L237.43,108.71 L237.55,108.60 L237.68,108.49 L237.80,108.38 L237.93,108.28 L238.05,108.18 L238.18,108.09 L238.30,108.01 L238.43,107.93 L238.55,107.85 L238.68,107.78 L238.80,107.72 L238.93,107.67 L239.05,107.62 L239.18,107.58 L239.30,107.55 L239.43,107.52 L239.55,107.51 L239.68,107.50 L239.80,107.50 L239.93,107.51 L240.05,107.53 L240.18,107.55 L240.30,107.58 L240.43,107.62 L240.55,107.66 L240.68,107.71 L240.80,107.76 L240.93,107.82 L241.05,107.89 L241.18,107.96 L241.30,108.03 L241.43,108.11 L241.55,108.19 L241.68,108.28 L241.80,108.36 L241.93,108.46 L242.05,108.55 L242.18,108.65 L242.30,108.75 L242.43,108.85 L242.55,108.95 L242.68,109.06 L242.80,109.16 L242.93,109.27 L243.05,109.38 L243.18,109.49 L243.30,109.59 L243.43,109.70 L243.55,109.81 L243.68,109.92 L243.80,110.02 L243.93,110.13 L244.05,110.23 L244.18,110.33 L244.30,110.43 L244.43,110.53 L244.55,110.63 L244.68,110.72 L244.80,110.81 L244.93,110.89 L245.05,110.98 L245.18,111.05 L245.30,111.13 L245.43,111.20 L245.55,111.26 L245.68,111.32 L245.80,111.38 L245.93,111.43 L246.05,111.47 L246.18,111.51 L246.30,111.54 L246.43,111.57 L246.55,111.59 L246.68,111.60 L246.80,111.60 L246.93,111.60 L247.05,111.59 L247.18,111.57 L247.30,111.54 L247.43,111.51 L247.55,111.47 L247.68,111.43 L247.80,111.38 L247.93,111.32 L248.05,111.26 L248.18,111.20 L248.30,111.13 L248.43,111.05 L248.55,110.98 L248.68,110.89 L248.80,110.81 L248.93,110.72 L249.05,110.63 L249.18,110.53 L249.30,110.43 L249.43,110.33 L249.55,110.23 L249.68,110.13 L249.80,110.02 L249.93,109.92 L250.05,109.81 L250.18,109.70 L250.30,109.59 L250.43,109.49 L250.55,109.38 L250.68,109.27 L250.80,109.16 L250.93,109.06 L251.05,108.95 L251.18,108.85 L251.30,108.75 L251.43,108.65 L251.55,108.55 L251.68,108.46 L251.80,108.36 L251.93,108.28 L252.05,108.19 L252.18,108.11 L252.30,108.03 L252.43,107.96 L252.55,107.89 L252.68,107.82 L252.80,107.76 L252.93,107.71 L253.05,107.66 L253.18,107.62 L253.30,107.58 L253.43,107.55 L253.55,107.53 L253.68,107.51 L253.80,107.50 L253.93,107.50 L254.05,107.51 L254.18,107.52 L254.30,107.54 L254.43,107.56 L254.55,107.59 L254.68,107.63 L254.80,107.68 L254.93,107.73 L255.05,107.78 L255.18,107.84 L255.30,107.90 L255.43,107.97 L255.55,108.05 L255.68,108.12 L255.80,108.21 L255.93,108.29 L256.05,108.38 L256.18,108.47 L256.30,108.56 L256.43,108.66 L256.55,108.76 L256.68,108.86 L256.80,108.96 L256.93,109.06 L257.05,109.17 L257.18,109.27 L257.30,109.38 L257.43,109.49 L257.55,109.59 L257.68,109.70 L257.80,109.81 L257.93,109.91 L258.05,110.02 L258.18,110.12 L258.30,110.22 L258.43,110.32 L258.55,110.42 L258.68,110.52 L258.80,110.61 L258.93,110.70 L259.05,110.79 L259.18,110.88 L259.30,110.96 L259.43,111.04 L259.55,111.11 L259.68,111.18 L259.80,111.25 L259.93,111.31 L260.05,111.36 L260.18,111.41 L260.30,111.46 L260.43,111.50 L260.55,111.53 L260.68,111.56 L260.80,111.58 L260.93,111.59 L261.05,111.60 L261.18,111.60 L261.30,111.59 L261.43,111.58 L261.55,111.55 L261.68,111.53 L261.80,111.49 L261.93,111.45 L262.05,111.40 L262.18,111.35 L262.30,111.30 L262.43,111.23 L262.55,111.17 L262.68,111.10 L262.80,111.02 L262.93,110.94 L263.05,110.86 L263.18,110.77 L263.30,110.69 L263.43,110.59 L263.55,110.50 L263.68,110.40 L263.80,110.30 L263.93,110.20 L264.05,110.10 L264.18,110.00 L264.30,109.89 L264.43,109.78 L264.55,109.68 L264.68,109.57 L264.80,109.46 L264.93,109.36 L265.05,109.25 L265.18,109.15 L265.30,109.04 L265.43,108.94 L265.55,108.84 L265.68,108.74 L265.80,108.64 L265.93,108.54 L266.05,108.45 L266.18,108.36 L266.30,108.27 L266.43,108.19 L266.55,108.11 L266.68,108.03 L266.80,107.96 L266.93,107.89 L267.05,107.83 L267.18,107.77 L267.30,107.72 L267.43,107.67 L267.55,107.62 L267.68,107.59 L267.80,107.56 L267.93,107.53 L268.05,107.51 L268.18,107.50 L268.30,107.50 L268.43,107.50 L268.55,107.51 L268.68,107.53 L268.80,107.56 L268.93,107.59 L269.05,107.62 L269.18,107.67 L269.30,107.72 L269.43,107.77 L269.55,107.83 L269.68,107.89 L269.80,107.96 L269.93,108.03 L270.05,108.11 L270.18,108.19 L270.30,108.27 L270.43,108.36 L270.55,108.45 L270.68,108.54 L270.80,108.64 L270.93,108.74 L271.05,108.84 L271.18,108.94 L271.30,109.04 L271.43,109.15 L271.55,109.25 L271.68,109.36 L271.80,109.46 L271.93,109.57 L272.05,109.68 L272.18,109.78 L272.30,109.89 L272.43,110.00 L272.55,110.10 L272.68,110.20 L272.80,110.30 L272.93,110.40 L273.05,110.50 L273.18,110.59 L273.30,110.69 L273.43,110.77 L273.55,110.86 L273.68,110.94 L273.80,111.02 L273.93,111.10 L274.05,111.17 L274.18,111.23 L274.30,111.30 L274.43,111.35 L274.55,111.40 L274.68,111.45 L274.80,111.49 L274.93,111.53 L275.05,111.55 L275.18,111.58 L275.30,111.59 L275.43,111.60 L275.55,111.60 L275.68,111.59 L275.80,111.58 L275.93,111.56 L276.05,111.53 L276.18,111.49 L276.30,111.45 L276.43,111.40 L276.55,111.35 L276.68,111.29 L276.80,111.23 L276.93,111.16 L277.05,111.09 L277.18,111.01 L277.30,110.93 L277.43,110.84 L277.55,110.75 L277.68,110.66 L277.80,110.56 L277.93,110.46 L278.05,110.36 L278.18,110.26 L278.30,110.16 L278.43,110.05 L278.55,109.94 L278.68,109.83 L278.80,109.72 L278.93,109.61 L279.05,109.50 L279.18,109.39 L279.30,109.28 L279.43,109.17 L279.55,109.06 L279.68,108.95 L279.80,108.84 L279.93,108.74 L280.05,108.64 L280.18,108.54 L280.30,108.44 L280.43,108.34 L280.55,108.25 L280.68,108.16 L280.80,108.07 L280.93,107.99 L281.05,107.91 L281.18,107.84 L281.30,107.77 L281.43,107.71 L281.55,107.65 L281.68,107.60 L281.80,107.55 L281.93,107.51 L282.05,107.47 L282.18,107.44 L282.30,107.42 L282.43,107.41 L282.55,107.40 L282.68,107.40 L282.80,107.41 L282.93,107.43 L283.05,107.46 L283.18,107.49 L283.30,107.53 L283.43,107.58 L283.55,107.63 L283.68,107.70 L283.80,107.76 L283.93,107.84 L284.05,107.92 L284.18,108.00 L284.30,108.09 L284.43,108.18 L284.55,108.28 L284.68,108.39 L284.80,108.49 L284.93,108.60 L285.05,108.72 L285.18,108.83 L285.30,108.95 L285.43,109.07 L285.55,109.19 L285.68,109.32 L285.80,109.44 L285.93,109.57 L286.05,109.70 L286.18,109.82 L286.30,109.95 L286.43,110.08 L286.55,110.21 L286.68,110.33 L286.80,110.46 L286.93,110.58 L287.05,110.70 L287.18,110.82 L287.30,110.94 L287.43,111.05 L287.55,111.16 L287.68,111.27 L287.80,111.38 L287.93,111.48 L288.05,111.57 L288.18,111.66 L288.30,111.75 L288.43,111.83 L288.55,111.91 L288.68,111.98 L288.80,112.04 L288.93,112.10 L289.05,112.15 L289.18,112.20 L289.30,112.23 L289.43,112.26 L289.55,112.28 L289.68,112.30 L289.80,112.30 L289.93,112.30 L290.05,112.28 L290.18,112.26 L290.30,112.23 L290.43,112.19 L290.55,112.14 L290.68,112.09 L290.80,112.02 L290.93,111.95 L291.05,111.88 L291.18,111.80 L291.30,111.71 L291.43,111.62 L291.55,111.52 L291.68,111.42 L291.80,111.31 L291.93,111.20 L292.05,111.08 L292.18,110.96 L292.30,110.84 L292.43,110.72 L292.55,110.59 L292.68,110.46 L292.80,110.33 L292.93,110.20 L293.05,110.07 L293.18,109.93 L293.30,109.80 L293.43,109.67 L293.55,109.53 L293.68,109.40 L293.80,109.27 L293.93,109.14 L294.05,109.01 L294.18,108.88 L294.30,108.76 L294.43,108.64 L294.55,108.52 L294.68,108.40 L294.80,108.29 L294.93,108.18 L295.05,108.08 L295.18,107.98 L295.30,107.89 L295.43,107.80 L295.55,107.72 L295.68,107.65 L295.80,107.58 L295.93,107.51 L296.05,107.46 L296.18,107.41 L296.30,107.37 L296.43,107.34 L296.55,107.32 L296.68,107.30 L296.80,107.30 L296.93,107.31 L297.05,107.32 L297.18,107.35 L297.30,107.39 L297.43,107.43 L297.55,107.49 L297.68,107.55 L297.80,107.63 L297.93,107.71 L298.05,107.80 L298.18,107.89 L298.30,108.00 L298.43,108.11 L298.55,108.22 L298.68,108.35 L298.80,108.48 L298.93,108.61 L299.05,108.75 L299.18,108.89 L299.30,109.04 L299.43,109.19 L299.55,109.34 L299.68,109.50 L299.80,109.66 L299.93,109.82 L300.05,109.98 L300.18,110.15 L300.30,110.32 L300.43,110.48 L300.55,110.65 L300.68,110.82 L300.80,110.98 L300.93,111.15 L301.05,111.32 L301.18,111.48 L301.30,111.64 L301.43,111.80 L301.55,111.96 L301.68,112.11 L301.80,112.26 L301.93,112.41 L302.05,112.55 L302.18,112.69 L302.30,112.82 L302.43,112.95 L302.55,113.08 L302.68,113.19 L302.80,113.30 L302.93,113.41 L303.05,113.50 L303.18,113.59 L303.30,113.67 L303.43,113.75 L303.55,113.81 L303.68,113.87 L303.80,113.91 L303.93,113.95 L304.05,113.98 L304.18,113.99 L304.30,114.00 L304.43,113.99 L304.55,113.97 L304.68,113.93 L304.80,113.88 L304.93,113.82 L305.05,113.75 L305.18,113.66 L305.30,113.56 L305.43,113.45 L305.55,113.33 L305.68,113.20 L305.80,113.07 L305.93,112.92 L306.05,112.77 L306.18,112.61 L306.30,112.44 L306.43,112.27 L306.55,112.09 L306.68,111.90 L306.80,111.72 L306.93,111.52 L307.05,111.33 L307.18,111.13 L307.30,110.93 L307.43,110.73 L307.55,110.53 L307.68,110.33 L307.80,110.13 L307.93,109.93 L308.05,109.73 L308.18,109.53 L308.30,109.34 L308.43,109.15 L308.55,108.96 L308.68,108.78 L308.80,108.60 L308.93,108.43 L309.05,108.26 L309.18,108.10 L309.30,107.95 L309.43,107.81 L309.55,107.67 L309.68,107.54 L309.80,107.43 L309.93,107.32 L310.05,107.22 L310.18,107.14 L310.30,107.07 L310.43,107.01 L310.55,106.96 L310.68,106.92 L310.80,106.90 L310.93,106.90 L311.05,106.92 L311.18,106.96 L311.30,107.02 L311.43,107.11 L311.55,107.21 L311.68,107.34 L311.80,107.48 L311.93,107.65 L312.05,107.83 L312.18,108.03 L312.30,108.25 L312.43,108.48 L312.55,108.72 L312.68,108.98 L312.80,109.25 L312.93,109.54 L313.05,109.83 L313.18,110.14 L313.30,110.45 L313.43,110.78 L313.55,111.11 L313.68,111.45 L313.80,111.79 L313.93,112.15 L314.05,112.50 L314.18,112.86 L314.30,113.22 L314.43,113.59 L314.55,113.96 L314.68,114.32 L314.80,114.69 L314.93,115.06 L315.05,115.42 L315.18,115.78 L315.30,116.14 L315.43,116.50 L315.55,116.85 L315.68,117.19 L315.80,117.53 L315.93,117.85 L316.05,118.17 L316.18,118.49 L316.30,118.79 L316.43,119.08 L316.55,119.36 L316.68,119.62 L316.80,119.88 L316.93,120.12 L317.05,120.34 L317.18,120.55 L317.30,120.74 L317.43,120.92 L317.55,121.08 L317.68,121.21 L317.80,121.33 L317.93,121.43 L318.05,121.51 L318.18,121.56 L318.30,121.59 L318.43,121.60 L318.55,121.58 L318.68,121.53 L318.80,121.46 L318.93,121.35 L319.05,121.23 L319.18,121.08 L319.30,120.91 L319.43,120.71 L319.55,120.50 L319.68,120.26 L319.80,120.01 L319.93,119.74 L320.05,119.45 L320.18,119.15 L320.30,118.83 L320.43,118.50 L320.55,118.16 L320.68,117.80 L320.80,117.44 L320.93,117.06 L321.05,116.68 L321.18,116.29 L321.30,115.90 L321.43,115.50 L321.55,115.09 L321.68,114.69 L321.80,114.28 L321.93,113.87 L322.05,113.46 L322.18,113.05 L322.30,112.64 L322.43,112.24 L322.55,111.84 L322.68,111.45 L322.80,111.06 L322.93,110.69 L323.05,110.32 L323.18,109.95 L323.30,109.60 L323.43,109.27 L323.55,108.94 L323.68,108.63 L323.80,108.33 L323.93,108.05 L324.05,107.79 L324.18,107.54 L324.30,107.31 L324.43,107.11 L324.55,106.92 L324.68,106.76 L324.80,106.62 L324.93,106.50 L325.05,106.41 L325.18,106.35 L325.30,106.31 L325.43,106.30 L325.55,106.33 L325.68,106.38 L325.80,106.47 L325.93,106.60 L326.05,106.75 L326.18,106.93 L326.30,107.14 L326.43,107.38 L326.55,107.64 L326.68,107.93 L326.80,108.24 L326.93,108.57 L327.05,108.93 L327.18,109.30 L327.30,109.69 L327.43,110.10 L327.55,110.53 L327.68,110.97 L327.80,111.43 L327.93,111.90 L328.05,112.49 L328.18,113.25 L328.30,114.14 L328.43,115.17 L328.55,116.32 L328.68,117.56 L328.80,118.89 L328.93,120.29 L329.05,122.05 L329.18,124.15 L329.30,126.43 L329.43,128.71 L329.55,130.81 L329.68,132.68 L329.80,134.52 L329.93,136.52 L330.05,138.90 L330.18,142.07 L330.30,146.56 L330.43,151.39 L330.55,155.59 L330.68,159.48 L330.80,163.25 L330.93,166.89 L331.05,170.40 L331.18,173.78 L331.30,177.00 L331.43,180.08 L331.55,183.03 L331.68,185.87 L331.80,188.62 L331.93,191.30 L332.05,193.93 L332.18,196.51 L332.30,199.08 L332.43,201.65 L332.55,204.24 L332.68,206.87 L332.80,209.55 L332.93,212.30 L333.05,215.14 L333.18,218.00 L333.30,220.85 L333.43,223.73 L333.55,226.62 L333.68,229.53 L333.80,232.48 L333.93,235.48 L334.05,238.52 L334.18,241.62 L334.30,244.78 L334.43,248.02 L334.55,251.34 L334.68,254.80 L334.80,258.38 L334.93,262.05 L335.05,265.80 L335.18,269.60 L335.30,273.43 L335.43,277.25 L335.55,281.04 L335.68,284.79 L335.80,288.46 L335.93,292.12 L336.05,295.78 L336.18,299.43 L336.30,303.08 L336.43,306.72 L336.55,310.36 L336.68,314.00 L336.80,317.63 L336.93,321.27 L337.05,324.89 L337.18,328.52 L337.30,332.14 L337.43,335.75 L337.55,339.36 L337.68,342.97 L337.80,346.57 L337.93,350.17 L338.05,353.76 L338.18,357.35 L338.30,360.93 L338.43,364.51 L338.55,368.08 L338.68,371.65 L338.80,375.21 L338.93,378.77 L339.05,382.32 L339.18,385.86 L339.30,389.40 L339.30,389.40 L339.43,388.32 L339.55,386.07 L339.68,383.52 L339.80,380.89 L339.93,378.24 L340.05,375.60 L340.18,372.97 L340.30,370.37 L340.43,367.81 L340.55,365.28 L340.68,362.78 L340.80,360.33 L340.93,357.91 L341.05,355.54 L341.18,353.22 L341.30,350.95 L341.43,348.72 L341.55,346.54 L341.68,344.42 L341.80,342.35 L341.93,340.33 L342.05,338.37 L342.18,336.47 L342.30,334.62 L342.43,332.83 L342.55,331.10 L342.68,329.44 L342.80,327.83 L342.93,326.28 L343.05,324.80 L343.18,323.38 L343.30,322.03 L343.43,320.73 L343.55,319.51 L343.68,318.34 L343.80,317.25 L343.93,316.22 L344.05,315.25 L344.18,314.35 L344.30,313.51 L344.43,312.75 L344.55,312.04 L344.68,311.41 L344.80,310.83 L344.93,310.33 L345.05,309.89 L345.18,309.51 L345.30,309.20 L345.43,308.96 L345.55,308.78 L345.68,308.66 L345.80,308.61 L345.93,308.62 L346.05,308.70 L346.18,308.84 L346.30,309.05 L346.43,309.32 L346.55,309.65 L346.68,310.05 L346.80,310.51 L346.93,311.02 L347.05,311.60 L347.18,312.24 L347.30,312.94 L347.43,313.69 L347.55,314.50 L347.68,315.37 L347.80,316.29 L347.93,317.27 L348.05,318.29 L348.18,319.37 L348.30,320.50 L348.43,321.67 L348.55,322.89 L348.68,324.16 L348.80,325.47 L348.93,326.83 L349.05,328.23 L349.18,329.67 L349.30,331.15 L349.43,332.66 L349.55,334.22 L349.68,335.80 L349.80,337.42 L349.93,339.08 L350.05,340.76 L350.18,342.47 L350.30,344.21 L350.43,345.98 L350.55,347.77 L350.68,349.58 L350.80,351.41 L350.93,353.26 L351.05,355.13 L351.18,357.02 L351.30,358.92 L351.43,360.84 L351.55,362.76 L351.68,364.70 L351.80,366.65 L351.93,368.60 L352.05,370.56 L352.18,372.52 L352.30,374.48 L352.43,376.44 L352.55,378.41 L352.68,380.37 L352.80,382.33 L352.93,384.28 L353.05,386.22 L353.18,388.16 L353.30,390.08 L353.43,391.40 L353.55,390.85 L353.68,388.97 L353.80,387.10 L353.93,385.24 L354.05,383.40 L354.18,381.58 L354.30,379.77 L354.43,377.99 L354.55,376.23 L354.68,374.49 L354.80,372.78 L354.93,371.10 L355.05,369.44 L355.18,367.81 L355.30,366.21 L355.43,364.64 L355.55,363.10 L355.68,361.59 L355.80,360.12 L355.93,358.68 L356.05,357.27 L356.18,355.90 L356.30,354.57 L356.43,353.27 L356.55,352.02 L356.68,350.80 L356.80,349.62 L356.93,348.47 L357.05,347.37 L357.18,346.32 L357.30,345.30 L357.43,344.32 L357.55,343.39 L357.68,342.50 L357.80,341.65 L357.93,340.85 L358.05,340.09 L358.18,339.37 L358.30,338.70 L358.43,338.07 L358.55,337.49 L358.68,336.96 L358.80,336.46 L358.93,336.02 L359.05,335.62 L359.18,335.26 L359.30,334.95 L359.43,334.68 L359.55,334.46 L359.68,334.28 L359.80,334.15 L359.93,334.07 L360.05,334.02 L360.18,334.03 L360.30,334.07 L360.43,334.16 L360.55,334.30 L360.68,334.48 L360.80,334.70 L360.93,334.96 L361.05,335.27 L361.18,335.62 L361.30,336.01 L361.43,336.44 L361.55,336.91 L361.68,337.43 L361.80,337.98 L361.93,338.57 L362.05,339.20 L362.18,339.87 L362.30,340.57 L362.43,341.31 L362.55,342.09 L362.68,342.90 L362.80,343.75 L362.93,344.63 L363.05,345.54 L363.18,346.48 L363.30,347.45 L363.43,348.46 L363.55,349.49 L363.68,350.55 L363.80,351.63 L363.93,352.75 L364.05,353.89 L364.18,355.05 L364.30,356.24 L364.43,357.45 L364.55,358.68 L364.68,359.93 L364.80,361.20 L364.93,362.48 L365.05,363.79 L365.18,365.11 L365.30,366.45 L365.43,367.80 L365.55,369.16 L365.68,370.53 L365.80,371.92 L365.93,373.31 L366.05,374.72 L366.18,376.13 L366.30,377.55 L366.43,378.97 L366.55,380.40 L366.68,381.83 L366.80,383.26 L366.93,384.69 L367.05,386.12 L367.18,387.56 L367.30,388.99 L367.43,390.41 L367.55,391.40 L367.68,391.40 L367.80,390.14 L367.93,388.74 L368.05,387.35 L368.18,385.96 L368.30,384.59 L368.43,383.23 L368.55,381.88 L368.68,380.55 L368.80,379.23 L368.93,377.92 L369.05,376.63 L369.18,375.36 L369.30,374.11 L369.43,372.87 L369.55,371.66 L369.68,370.47 L369.80,369.30 L369.93,368.15 L370.05,367.02 L370.18,365.92 L370.30,364.84 L370.43,363.79 L370.55,362.77 L370.68,361.77 L370.80,360.80 L370.93,359.86 L371.05,358.94 L371.18,358.06 L371.30,357.20 L371.43,356.38 L371.55,355.59 L371.68,354.82 L371.80,354.09 L371.93,353.40 L372.05,352.73 L372.18,352.10 L372.30,351.50 L372.43,350.94 L372.55,350.41 L372.68,349.91 L372.80,349.45 L372.93,349.03 L373.05,348.64 L373.18,348.28 L373.30,347.96 L373.43,347.68 L373.55,347.43 L373.68,347.22 L373.80,347.04 L373.93,346.90 L374.05,346.79 L374.18,346.72 L374.30,346.69 L374.43,346.69 L374.55,346.72 L374.68,346.80 L374.80,346.90 L374.93,347.04 L375.05,347.22 L375.18,347.43 L375.30,347.67 L375.43,347.95 L375.55,348.26 L375.68,348.60 L375.80,348.98 L375.93,349.39 L376.05,349.83 L376.18,350.30 L376.30,350.80 L376.43,351.33 L376.55,351.89 L376.68,352.48 L376.80,353.10 L376.93,353.75 L377.05,354.42 L377.18,355.12 L377.30,355.85 L377.43,356.60 L377.55,357.37 L377.68,358.18 L377.80,359.00 L377.93,359.85 L378.05,360.71 L378.18,361.60 L378.30,362.51 L378.43,363.44 L378.55,364.39 L378.68,365.36 L378.80,366.34 L378.93,367.34 L379.05,368.35 L379.18,369.38 L379.30,370.43 L379.43,371.48 L379.55,372.55 L379.68,373.63 L379.80,374.72 L379.93,375.82 L380.05,376.93 L380.18,378.04 L380.30,379.17 L380.43,380.30 L380.55,381.43 L380.68,382.57 L380.80,383.71 L380.93,384.85 L381.05,386.00 L381.18,387.14 L381.30,388.29 L381.43,389.43 L381.55,390.58 L381.68,391.40 L381.80,391.40 L381.93,390.81 L382.05,389.69 L382.18,388.57 L382.30,387.45 L382.43,386.35 L382.55,385.25 L382.68,384.16 L382.80,383.09 L382.93,382.02 L383.05,380.96 L383.18,379.92 L383.30,378.89 L383.43,377.88 L383.55,376.88 L383.68,375.89 L383.80,374.93 L383.93,373.97 L384.05,373.04 L384.18,372.12 L384.30,371.23 L384.43,370.35 L384.55,369.49 L384.68,368.65 L384.80,367.83 L384.93,367.04 L385.05,366.26 L385.18,365.51 L385.30,364.79 L385.43,364.08 L385.55,363.40 L385.68,362.75 L385.80,362.12 L385.93,361.51 L386.05,360.93 L386.18,360.38 L386.30,359.85 L386.43,359.35 L386.55,358.87 L386.68,358.43 L386.80,358.01 L386.93,357.62 L387.05,357.25 L387.18,356.91 L387.30,356.61 L387.43,356.33 L387.55,356.07 L387.68,355.85 L387.80,355.66 L387.93,355.49 L388.05,355.35 L388.18,355.25 L388.30,355.17 L388.43,355.11 L388.55,355.09 L388.68,355.10 L388.80,355.13 L388.93,355.19 L389.05,355.29 L389.18,355.41 L389.30,355.55 L389.43,355.73 L389.55,355.93 L389.68,356.16 L389.80,356.42 L389.93,356.70 L390.05,357.01 L390.18,357.35 L390.30,357.71 L390.43,358.10 L390.55,358.52 L390.68,358.95 L390.80,359.42 L390.93,359.90 L391.05,360.41 L391.18,360.95 L391.30,361.50 L391.43,362.08 L391.55,362.68 L391.68,363.30 L391.80,363.94 L391.93,364.61 L392.05,365.29 L392.18,365.99 L392.30,366.71 L392.43,367.44 L392.55,368.20 L392.68,368.97 L392.80,369.75 L392.93,370.55 L393.05,371.37 L393.18,372.20 L393.30,373.04 L393.43,373.90 L393.55,374.77 L393.68,375.65 L393.80,376.54 L393.93,377.44 L394.05,378.35 L394.18,379.26 L394.30,380.19 L394.43,381.12 L394.55,382.06 L394.68,383.01 L394.80,383.95 L394.93,384.91 L395.05,385.86 L395.18,386.82 L395.30,387.78 L395.43,388.75 L395.55,389.71 L395.68,390.67 L395.80,391.40 L395.93,391.40 L396.05,391.25 L396.18,390.30 L396.30,389.35 L396.43,388.40 L396.55,387.46 L396.68,386.53 L396.80,385.60 L396.93,384.68 L397.05,383.77 L397.18,382.87 L397.30,381.97 L397.43,381.09 L397.55,380.22 L397.68,379.36 L397.80,378.51 L397.93,377.67 L398.05,376.85 L398.18,376.04 L398.30,375.25 L398.43,374.47 L398.55,373.70 L398.68,372.96 L398.80,372.23 L398.93,371.51 L399.05,370.82 L399.18,370.14 L399.30,369.48 L399.43,368.84 L399.55,368.22 L399.68,367.62 L399.80,367.04 L399.93,366.48 L400.05,365.94 L400.18,365.43 L400.30,364.93 L400.43,364.46 L400.55,364.01 L400.68,363.58 L400.80,363.18 L400.93,362.80 L401.05,362.44 L401.18,362.11 L401.30,361.80 L401.43,361.52 L401.55,361.26 L401.68,361.02 L401.80,360.81 L401.93,360.63 L402.05,360.46 L402.18,360.33 L402.30,360.22 L402.43,360.13 L402.55,360.07 L402.68,360.04 L402.80,360.02 L402.93,360.04 L403.05,360.08 L403.18,360.14 L403.30,360.23 L403.43,360.34 L403.55,360.48 L403.68,360.64 L403.80,360.83 L403.93,361.04 L404.05,361.27 L404.18,361.53 L404.30,361.81 L404.43,362.11 L404.55,362.43 L404.68,362.78 L404.80,363.15 L404.93,363.54 L405.05,363.95 L405.18,364.39 L405.30,364.84 L405.43,365.31 L405.55,365.81 L405.68,366.32 L405.80,366.85 L405.93,367.41 L406.05,367.97 L406.18,368.56 L406.30,369.16 L406.43,369.78 L406.55,370.42 L406.68,371.07 L406.80,371.74 L406.93,372.42 L407.05,373.11 L407.18,373.82 L407.30,374.54 L407.43,375.28 L407.55,376.02 L407.68,376.78 L407.80,377.54 L407.93,378.32 L408.05,379.10 L408.18,379.90 L408.30,380.70 L408.43,381.51 L408.55,382.32 L408.68,383.15 L408.80,383.97 L408.93,384.81 L409.05,385.64 L409.18,386.48 L409.30,387.32 L409.43,388.17 L409.55,389.01 L409.68,389.86 L409.80,390.71 L409.93,391.40 L410.05,391.40 L410.18,391.40 L410.30,390.71 L410.43,389.88 L410.55,389.04 L410.68,388.21 L410.80,387.39 L410.93,386.57 L411.05,385.75 L411.18,384.94 L411.30,384.14 L411.43,383.35 L411.55,382.57 L411.68,381.80 L411.80,381.03 L411.93,380.28 L412.05,379.53 L412.18,378.80 L412.30,378.08 L412.43,377.37 L412.55,376.68 L412.68,376.00 L412.80,375.33 L412.93,374.68 L413.05,374.04 L413.18,373.42 L413.30,372.81 L413.43,372.22 L413.55,371.65 L413.68,371.09 L413.80,370.55 L413.93,370.03 L414.05,369.53 L414.18,369.04 L414.30,368.58 L414.43,368.13 L414.55,367.70 L414.68,367.30 L414.80,366.91 L414.93,366.54 L415.05,366.20 L415.18,365.87 L415.30,365.57 L415.43,365.28 L415.55,365.02 L415.68,364.78 L415.80,364.56 L415.93,364.37 L416.05,364.19 L416.18,364.04 L416.30,363.91 L416.43,363.80 L416.55,363.72 L416.68,363.65 L416.80,363.61 L416.93,363.59 L417.05,363.59 L417.18,363.62 L417.30,363.66 L417.43,363.73 L417.55,363.82 L417.68,363.94 L417.80,364.07 L417.93,364.23 L418.05,364.41 L418.18,364.60 L418.30,364.82 L418.43,365.06 L418.55,365.32 L418.68,365.61 L418.80,365.91 L418.93,366.23 L419.05,366.57 L419.18,366.93 L419.30,367.31 L419.43,367.70 L419.55,368.12 L419.68,368.55 L419.80,369.01 L419.93,369.47 L420.05,369.96 L420.18,370.46 L420.30,370.98 L420.43,371.51 L420.55,372.06 L420.68,372.62 L420.80,373.20 L420.93,373.79 L421.05,374.39 L421.18,375.01 L421.30,375.64 L421.43,376.28 L421.55,376.93 L421.68,377.59 L421.80,378.27 L421.93,378.95 L422.05,379.64 L422.18,380.34 L422.30,381.05 L422.43,381.76 L422.55,382.49 L422.68,383.22 L422.80,383.95 L422.93,384.69 L423.05,385.44 L423.18,386.18 L423.30,386.94 L423.43,387.69 L423.55,388.45 L423.68,389.21 L423.80,389.97 L423.93,390.73 L424.05,391.40 L424.18,391.40 L424.30,391.40 L424.43,391.04 L424.55,390.28 L424.68,389.53 L424.80,388.78 L424.93,388.04 L425.05,387.30 L425.18,386.56 L425.30,385.84 L425.43,385.11 L425.55,384.40 L425.68,383.69 L425.80,382.99 L425.93,382.30 L426.05,381.62 L426.18,380.94 L426.30,380.28 L426.43,379.63 L426.55,378.98 L426.68,378.35 L426.80,377.74 L426.93,377.13 L427.05,376.54 L427.18,375.95 L427.30,375.39 L427.43,374.84 L427.55,374.30 L427.68,373.77 L427.80,373.26 L427.93,372.77 L428.05,372.30 L428.18,371.83 L428.30,371.39 L428.43,370.96 L428.55,370.55 L428.68,370.16 L428.80,369.79 L428.93,369.43 L429.05,369.09 L429.18,368.77 L429.30,368.47 L429.43,368.19 L429.55,367.92 L429.68,367.68 L429.80,367.45 L429.93,367.25 L430.05,367.06 L430.18,366.89 L430.30,366.75 L430.43,366.62 L430.55,366.52 L430.68,366.43 L430.80,366.36 L430.93,366.32 L431.05,366.29 L431.18,366.29 L431.30,366.30 L431.43,366.33 L431.55,366.39 L431.68,366.46 L431.80,366.56 L431.93,366.67 L432.05,366.80 L432.18,366.96 L432.30,367.13 L432.43,367.32 L432.55,367.53 L432.68,367.76 L432.80,368.01 L432.93,368.27 L433.05,368.56 L433.18,368.86 L433.30,369.18 L433.43,369.51 L433.55,369.87 L433.68,370.24 L433.80,370.63 L433.93,371.03 L434.05,371.45 L434.18,371.88 L434.30,372.33 L434.43,372.80 L434.55,373.28 L434.68,373.77 L434.80,374.27 L434.93,374.79 L435.05,375.33 L435.18,375.87 L435.30,376.43 L435.43,377.00 L435.55,377.58 L435.68,378.17 L435.80,378.77 L435.93,379.38 L436.05,379.99 L436.18,380.62 L436.30,381.26 L436.43,381.90 L436.55,382.55 L436.68,383.21 L436.80,383.87 L436.93,384.54 L437.05,385.22 L437.18,385.89 L437.30,386.58 L437.43,387.26 L437.55,387.95 L437.68,388.64 L437.80,389.34 L437.93,390.03 L438.05,390.73 L438.18,391.40 L438.30,391.40 L438.43,391.40 L438.55,391.29 L438.68,390.60 L438.80,389.91 L438.93,389.22 L439.05,388.54 L439.18,387.86 L439.30,387.18 L439.43,386.51 L439.55,385.84 L439.68,385.19 L439.80,384.53 L439.93,383.89 L440.05,383.25 L440.18,382.62 L440.30,382.00 L440.43,381.38 L440.55,380.78 L440.68,380.19 L440.80,379.60 L440.93,379.03 L441.05,378.47 L441.18,377.92 L441.30,377.38 L441.43,376.85 L441.55,376.34 L441.68,375.84 L441.80,375.35 L441.93,374.88 L442.05,374.42 L442.18,373.97 L442.30,373.54 L442.43,373.13 L442.55,372.73 L442.68,372.35 L442.80,371.98 L442.93,371.63 L443.05,371.29 L443.18,370.97 L443.30,370.67 L443.43,370.39 L443.55,370.12 L443.68,369.87 L443.80,369.64 L443.93,369.43 L444.05,369.23 L444.18,369.06 L444.30,368.90 L444.43,368.76 L444.55,368.64 L444.68,368.53 L444.80,368.45 L444.93,368.38 L445.05,368.33 L445.18,368.31 L445.30,368.30 L445.43,368.30 L445.55,368.33 L445.68,368.38 L445.80,368.44 L445.93,368.52 L446.05,368.62 L446.18,368.74 L446.30,368.88 L446.43,369.04 L446.55,369.21 L446.68,369.40 L446.80,369.61 L446.93,369.83 L447.05,370.08 L447.18,370.33 L447.30,370.61 L447.43,370.90 L447.55,371.21 L447.68,371.54 L447.80,371.88 L447.93,372.23 L448.05,372.60 L448.18,372.99 L448.30,373.39 L448.43,373.80 L448.55,374.23 L448.68,374.67 L448.80,375.12 L448.93,375.59 L449.05,376.07 L449.18,376.56 L449.30,377.06 L449.43,377.57 L449.55,378.10 L449.68,378.63 L449.80,379.17 L449.93,379.72 L450.05,380.29 L450.18,380.86 L450.30,381.43 L450.43,382.02 L450.55,382.61 L450.68,383.21 L450.80,383.82 L450.93,384.43 L451.05,385.04 L451.18,385.66 L451.30,386.29 L451.43,386.92 L451.55,387.55 L451.68,388.18 L451.80,388.82 L451.93,389.46 L452.05,390.10 L452.18,390.74 L452.30,391.38 L452.43,391.40 L452.55,391.40 L452.68,391.40 L452.80,390.87 L452.93,390.24 L453.05,389.60 L453.18,388.98 L453.30,388.35 L453.43,387.73 L453.55,387.11 L453.68,386.50 L453.80,385.90 L453.93,385.30 L454.05,384.71 L454.18,384.12 L454.30,383.54 L454.43,382.97 L454.55,382.41 L454.68,381.85 L454.80,381.31 L454.93,380.77 L455.05,380.24 L455.18,379.73 L455.30,379.22 L455.43,378.73 L455.55,378.24 L455.68,377.77 L455.80,377.31 L455.93,376.86 L456.05,376.43 L456.18,376.00 L456.30,375.59 L456.43,375.20 L456.55,374.82 L456.68,374.45 L456.80,374.09 L456.93,373.76 L457.05,373.43 L457.18,373.12 L457.30,372.83 L457.43,372.55 L457.55,372.29 L457.68,372.04 L457.80,371.81 L457.93,371.59 L458.05,371.39 L458.18,371.21 L458.30,371.04 L458.43,370.89 L458.55,370.76 L458.68,370.64 L458.80,370.54 L458.93,370.46 L459.05,370.39 L459.18,370.34 L459.30,370.31 L459.43,370.29 L459.55,370.30 L459.68,370.31 L459.80,370.35 L459.93,370.40 L460.05,370.47 L460.18,370.55 L460.30,370.66 L460.43,370.78 L460.55,370.91 L460.68,371.06 L460.80,371.23 L460.93,371.41 L461.05,371.61 L461.18,371.83 L461.30,372.06 L461.43,372.30 L461.55,372.57 L461.68,372.84 L461.80,373.13 L461.93,373.44 L462.05,373.76 L462.18,374.09 L462.30,374.44 L462.43,374.80 L462.55,375.17 L462.68,375.56 L462.80,375.96 L462.93,376.37 L463.05,376.79 L463.18,377.23 L463.30,377.68 L463.43,378.13 L463.55,378.60 L463.68,379.08 L463.80,379.56 L463.93,380.06 L464.05,380.57 L464.18,381.08 L464.30,381.60 L464.43,382.13 L464.55,382.67 L464.68,383.22 L464.80,383.77 L464.93,384.32 L465.05,384.89 L465.18,385.46 L465.30,386.03 L465.43,386.61 L465.55,387.19 L465.68,387.77 L465.80,388.36 L465.93,388.95 L466.05,389.54 L466.18,390.14 L466.30,390.73 L466.43,391.33 L466.55,391.40 L466.68,391.40 L466.80,391.40 L466.93,391.09 L467.05,390.50 L467.18,389.91 L467.30,389.32 L467.43,388.73 L467.55,388.15 L467.68,387.57 L467.80,387.00 L467.93,386.43 L468.05,385.87 L468.18,385.31 L468.30,384.75 L468.43,384.21 L468.55,383.67 L468.68,383.14 L468.80,382.61 L468.93,382.09 L469.05,381.59 L469.18,381.09 L469.30,380.60 L469.43,380.11 L469.55,379.64 L469.68,379.18 L469.80,378.73 L469.93,378.29 L470.05,377.87 L470.18,377.45 L470.30,377.04 L470.43,376.65 L470.55,376.27 L470.68,375.91 L470.80,375.55 L470.93,375.21 L471.05,374.88 L471.18,374.57 L471.30,374.27 L471.43,373.99 L471.55,373.72 L471.68,373.46 L471.80,373.22 L471.93,372.99 L472.05,372.78 L472.18,372.59 L472.30,372.41 L472.43,372.24 L472.55,372.09 L472.68,371.96 L472.80,371.84 L472.93,371.74 L473.05,371.66 L473.18,371.59 L473.30,371.54 L473.43,371.50 L473.55,371.48 L473.68,371.47 L473.80,371.49 L473.93,371.51" stroke="#ffab08" stroke-width="2.5"/>
<path d="M190.55,392.4V-14.5" stroke="#06f0f0" stroke-width="4.8" stroke-dasharray="18.2 18.35"/>
<path d="M332.15,392.4V-14.5" stroke="#06f0f0" stroke-width="4.8" stroke-dasharray="18.2 18.35"/>
</g>
<path d="M48.6,5.0V392.4H474.5" stroke="#4a4a4a" stroke-width="1.1" fill="none"/>
<g font-family="'Liberation Sans', Arial, sans-serif" font-weight="bold" fill="#0a0a0a" stroke="#0a0a0a" stroke-width="0.22" font-size="18">
<text transform="translate(47.90,419.0) scale(0.875,1)" text-anchor="middle">-0.2</text>
<text transform="translate(118.80,419.0) scale(0.875,1)" text-anchor="middle">-0.1</text>
<text transform="translate(189.70,419.0) scale(0.875,1)" text-anchor="middle">0</text>
<text transform="translate(260.60,419.0) scale(0.875,1)" text-anchor="middle">0.1</text>
<text transform="translate(331.50,419.0) scale(0.875,1)" text-anchor="middle">0.2</text>
<text transform="translate(402.40,419.0) scale(0.875,1)" text-anchor="middle">0.3</text>
<text transform="translate(483.7,419.0) scale(0.875,1)" text-anchor="end">0.4</text>
<text transform="translate(42.3,400.00) scale(0.875,1)" text-anchor="end">0</text>
<text transform="translate(42.3,335.52) scale(0.875,1)" text-anchor="end">0.2</text>
<text transform="translate(42.3,271.03) scale(0.875,1)" text-anchor="end">0.4</text>
<text transform="translate(42.3,206.55) scale(0.875,1)" text-anchor="end">0.6</text>
<text transform="translate(42.3,142.07) scale(0.875,1)" text-anchor="end">0.8</text>
<text transform="translate(42.3,77.58) scale(0.875,1)" text-anchor="end">1</text>
<text transform="translate(42.3,12.90) scale(0.875,1)" text-anchor="end">1.2</text>
</g>
<g font-family="'Liberation Sans', Arial, sans-serif" fill="#0a0a0a" stroke="#0a0a0a">
<text transform="translate(13.3,199.4) scale(0.862,1) rotate(-90)" text-anchor="middle" font-weight="bold" font-size="20.2" stroke-width="0.3">Beam Gain</text>
<text transform="translate(262,444.8) scale(0.875,1)" text-anchor="middle" font-weight="bold" font-size="20" stroke-width="0.3">f</text>
<text transform="translate(205.0,44.3) scale(0.88,1)" font-size="14.8" stroke-width="0.2">Region of Interest</text>
</g>
<rect x="334.5" y="19.5" width="135.9" height="49.7" fill="#fff" stroke="#4a4a4a" stroke-width="1.1"/>
<g font-family="'Liberation Sans', Arial, sans-serif" font-weight="bold" fill="#0a0a0a" stroke="#0a0a0a" stroke-width="0.25" font-size="10.7">
<path d="M338.4,29.0H377.6" stroke="#1088d4" stroke-width="1.8"/>
<text transform="translate(380.5,33.4) scale(0.854,1)">Power-Ratio Design</text>
<path d="M338.4,44.3H377.6" stroke="#fb5212" stroke-width="1.3"/>
<text transform="translate(380.5,48.7) scale(0.854,1)">PS-ICD Design</text>
<path d="M338.4,59.9H377.6" stroke="#ffab08" stroke-width="2.8"/>
<text transform="translate(380.5,64.3) scale(0.854,1)">Max-min Design</text>
</g>
</svg>
</body></html>
